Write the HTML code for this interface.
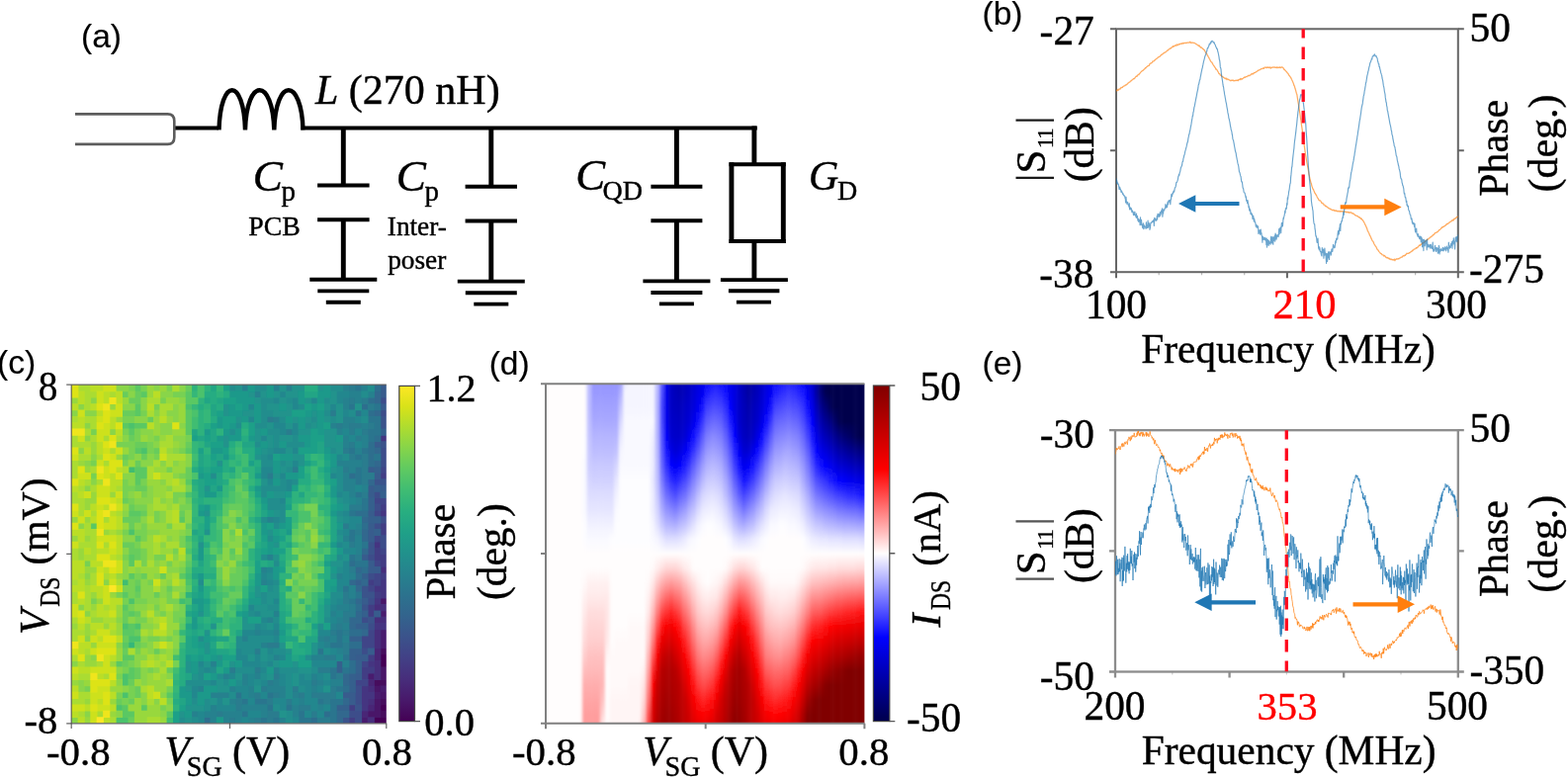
<!DOCTYPE html>
<html lang="en"><head><meta charset="utf-8"><title>Figure</title>
<style>
html,body{margin:0;padding:0;background:#fff;}
body{width:1586px;height:787px;overflow:hidden;}
svg{display:block;}
text{white-space:pre;}
</style></head><body>
<svg width="1586" height="787" viewBox="0 0 1586 787">
<rect width="1586" height="787" fill="#fff"/>
<defs><clipPath id="cc"><rect x="72.2" y="389.2" width="318.6" height="342.3"/></clipPath><filter id="bc" x="-5%" y="-5%" width="110%" height="110%"><feGaussianBlur stdDeviation="0.75"/></filter></defs>
<g clip-path="url(#cc)"><g filter="url(#bc)" stroke="none"><rect x="66.2" y="383.2" width="330.6" height="354.3" fill="#3a9a80"/>
<path fill="#440154" d="M384.4,661.8h13.2v7.1h-13.2zM384.4,668.1h13.2v7.1h-13.2zM384.4,712.5h13.2v7.1h-13.2zM378.1,725.2h7.2v13.1h-7.2zM384.4,725.2h13.2v13.1h-13.2z"/>
<path fill="#460a5d" d="M384.4,655.4h13.2v7.1h-13.2zM378.1,687.1h7.2v7.1h-7.2zM384.4,687.1h13.2v7.1h-13.2zM384.4,706.1h13.2v7.1h-13.2zM384.4,718.8h13.2v7.1h-13.2z"/>
<path fill="#481467" d="M384.4,604.7h13.2v7.1h-13.2zM384.4,674.5h13.2v7.1h-13.2zM384.4,680.8h13.2v7.1h-13.2zM378.1,693.5h7.2v7.1h-7.2zM384.4,699.8h13.2v7.1h-13.2zM378.1,706.1h7.2v7.1h-7.2zM378.1,712.5h7.2v7.1h-7.2zM371.7,718.8h7.2v7.1h-7.2zM378.1,718.8h7.2v7.1h-7.2z"/>
<path fill="#481c6e" d="M384.4,617.4h13.2v7.1h-13.2zM384.4,636.4h13.2v7.1h-13.2zM384.4,642.8h13.2v7.1h-13.2zM384.4,649.1h13.2v7.1h-13.2zM371.7,680.8h7.2v7.1h-7.2zM384.4,693.5h13.2v7.1h-13.2zM378.1,699.8h7.2v7.1h-7.2zM365.3,725.2h7.2v13.1h-7.2z"/>
<path fill="#482576" d="M378.1,655.4h7.2v7.1h-7.2zM378.1,661.8h7.2v7.1h-7.2zM371.7,687.1h7.2v7.1h-7.2zM371.7,712.5h7.2v7.1h-7.2zM365.3,718.8h7.2v7.1h-7.2z"/>
<path fill="#472d7b" d="M384.4,573h13.2v7.1h-13.2zM378.1,611.1h7.2v7.1h-7.2zM384.4,611.1h13.2v7.1h-13.2zM378.1,623.7h7.2v7.1h-7.2zM384.4,623.7h13.2v7.1h-13.2zM378.1,636.4h7.2v7.1h-7.2zM378.1,642.8h7.2v7.1h-7.2zM378.1,649.1h7.2v7.1h-7.2zM378.1,668.1h7.2v7.1h-7.2zM378.1,674.5h7.2v7.1h-7.2zM378.1,680.8h7.2v7.1h-7.2zM371.7,693.5h7.2v7.1h-7.2zM371.7,706.1h7.2v7.1h-7.2zM371.7,725.2h7.2v13.1h-7.2z"/>
<path fill="#453581" d="M384.4,439.9h13.2v7.1h-13.2zM384.4,516h13.2v7.1h-13.2zM378.1,547.7h7.2v7.1h-7.2zM384.4,585.7h13.2v7.1h-13.2zM378.1,592h7.2v7.1h-7.2zM384.4,592h13.2v7.1h-13.2zM384.4,598.4h13.2v7.1h-13.2zM378.1,604.7h7.2v7.1h-7.2zM378.1,630.1h7.2v7.1h-7.2zM384.4,630.1h13.2v7.1h-13.2zM371.7,668.1h7.2v7.1h-7.2zM365.3,693.5h7.2v7.1h-7.2zM365.3,699.8h7.2v7.1h-7.2zM371.7,699.8h7.2v7.1h-7.2zM365.3,706.1h7.2v7.1h-7.2zM365.3,712.5h7.2v7.1h-7.2z"/>
<path fill="#433d84" d="M384.4,477.9h13.2v7.1h-13.2zM384.4,509.6h13.2v7.1h-13.2zM384.4,528.7h13.2v7.1h-13.2zM384.4,535h13.2v7.1h-13.2zM378.1,554h7.2v7.1h-7.2zM378.1,560.4h7.2v7.1h-7.2zM384.4,560.4h13.2v7.1h-13.2zM384.4,566.7h13.2v7.1h-13.2zM384.4,579.4h13.2v7.1h-13.2zM371.7,585.7h7.2v7.1h-7.2zM378.1,598.4h7.2v7.1h-7.2zM371.7,611.1h7.2v7.1h-7.2zM371.7,617.4h7.2v7.1h-7.2zM371.7,661.8h7.2v7.1h-7.2zM365.3,674.5h7.2v7.1h-7.2zM371.7,674.5h7.2v7.1h-7.2zM365.3,680.8h7.2v7.1h-7.2zM352.6,712.5h7.2v7.1h-7.2zM352.6,725.2h7.2v13.1h-7.2z"/>
<path fill="#404588" d="M384.4,471.6h13.2v7.1h-13.2zM378.1,503.3h7.2v7.1h-7.2zM384.4,503.3h13.2v7.1h-13.2zM378.1,516h7.2v7.1h-7.2zM378.1,541.3h7.2v7.1h-7.2zM384.4,554h13.2v7.1h-13.2zM378.1,566.7h7.2v7.1h-7.2zM378.1,579.4h7.2v7.1h-7.2zM378.1,585.7h7.2v7.1h-7.2zM371.7,592h7.2v7.1h-7.2zM371.7,636.4h7.2v7.1h-7.2zM365.3,642.8h7.2v7.1h-7.2zM371.7,642.8h7.2v7.1h-7.2zM365.3,649.1h7.2v7.1h-7.2zM371.7,649.1h7.2v7.1h-7.2zM365.3,668.1h7.2v7.1h-7.2zM358.9,687.1h7.2v7.1h-7.2zM365.3,687.1h7.2v7.1h-7.2z"/>
<path fill="#3d4d8a" d="M384.4,401.9h13.2v7.1h-13.2zM384.4,414.6h13.2v7.1h-13.2zM384.4,452.6h13.2v7.1h-13.2zM384.4,458.9h13.2v7.1h-13.2zM384.4,465.3h13.2v7.1h-13.2zM378.1,497h7.2v7.1h-7.2zM378.1,509.6h7.2v7.1h-7.2zM384.4,522.3h13.2v7.1h-13.2zM378.1,528.7h7.2v7.1h-7.2zM384.4,541.3h13.2v7.1h-13.2zM384.4,547.7h13.2v7.1h-13.2zM371.7,560.4h7.2v7.1h-7.2zM371.7,579.4h7.2v7.1h-7.2zM371.7,604.7h7.2v7.1h-7.2zM365.3,623.7h7.2v7.1h-7.2zM371.7,630.1h7.2v7.1h-7.2zM365.3,655.4h7.2v7.1h-7.2zM358.9,693.5h7.2v7.1h-7.2zM358.9,699.8h7.2v7.1h-7.2zM358.9,706.1h7.2v7.1h-7.2zM352.6,718.8h7.2v7.1h-7.2zM358.9,718.8h7.2v7.1h-7.2zM358.9,725.2h7.2v13.1h-7.2z"/>
<path fill="#3a538b" d="M384.4,420.9h13.2v7.1h-13.2zM384.4,427.2h13.2v7.1h-13.2zM384.4,446.2h13.2v7.1h-13.2zM378.1,484.3h7.2v7.1h-7.2zM384.4,484.3h13.2v7.1h-13.2zM371.7,547.7h7.2v7.1h-7.2zM371.7,554h7.2v7.1h-7.2zM365.3,592h7.2v7.1h-7.2zM365.3,598.4h7.2v7.1h-7.2zM371.7,598.4h7.2v7.1h-7.2zM365.3,611.1h7.2v7.1h-7.2zM371.7,623.7h7.2v7.1h-7.2zM358.9,712.5h7.2v7.1h-7.2zM346.2,725.2h7.2v13.1h-7.2z"/>
<path fill="#375b8d" d="M384.4,383.2h13.2v13.1h-13.2zM384.4,395.5h13.2v7.1h-13.2zM384.4,408.2h13.2v7.1h-13.2zM378.1,446.2h7.2v7.1h-7.2zM371.7,471.6h7.2v7.1h-7.2zM378.1,477.9h7.2v7.1h-7.2zM371.7,490.6h7.2v7.1h-7.2zM384.4,490.6h13.2v7.1h-13.2zM371.7,497h7.2v7.1h-7.2zM371.7,516h7.2v7.1h-7.2zM371.7,528.7h7.2v7.1h-7.2zM371.7,535h7.2v7.1h-7.2zM371.7,541.3h7.2v7.1h-7.2zM365.3,560.4h7.2v7.1h-7.2zM371.7,566.7h7.2v7.1h-7.2zM371.7,573h7.2v7.1h-7.2zM378.1,573h7.2v7.1h-7.2zM365.3,604.7h7.2v7.1h-7.2zM378.1,617.4h7.2v7.1h-7.2zM371.7,655.4h7.2v7.1h-7.2zM358.9,661.8h7.2v7.1h-7.2zM365.3,661.8h7.2v7.1h-7.2zM358.9,680.8h7.2v7.1h-7.2zM346.2,699.8h7.2v7.1h-7.2zM352.6,699.8h7.2v7.1h-7.2zM352.6,706.1h7.2v7.1h-7.2z"/>
<path fill="#34618d" d="M384.4,433.6h13.2v7.1h-13.2zM378.1,471.6h7.2v7.1h-7.2zM378.1,490.6h7.2v7.1h-7.2zM384.4,497h13.2v7.1h-13.2zM371.7,503.3h7.2v7.1h-7.2zM371.7,509.6h7.2v7.1h-7.2zM371.7,522.3h7.2v7.1h-7.2zM378.1,522.3h7.2v7.1h-7.2zM378.1,535h7.2v7.1h-7.2zM365.3,579.4h7.2v7.1h-7.2zM358.9,585.7h7.2v7.1h-7.2zM365.3,617.4h7.2v7.1h-7.2zM358.9,630.1h7.2v7.1h-7.2zM365.3,630.1h7.2v7.1h-7.2zM352.6,642.8h7.2v7.1h-7.2zM358.9,642.8h7.2v7.1h-7.2zM352.6,655.4h7.2v7.1h-7.2zM358.9,655.4h7.2v7.1h-7.2zM352.6,661.8h7.2v7.1h-7.2zM339.8,668.1h7.2v7.1h-7.2zM358.9,668.1h7.2v7.1h-7.2zM339.8,674.5h7.2v7.1h-7.2zM358.9,674.5h7.2v7.1h-7.2zM352.6,680.8h7.2v7.1h-7.2zM352.6,687.1h7.2v7.1h-7.2zM352.6,693.5h7.2v7.1h-7.2zM339.8,712.5h7.2v7.1h-7.2zM346.2,712.5h7.2v7.1h-7.2z"/>
<path fill="#31688e" d="M378.1,395.5h7.2v7.1h-7.2zM378.1,401.9h7.2v7.1h-7.2zM378.1,414.6h7.2v7.1h-7.2zM378.1,452.6h7.2v7.1h-7.2zM378.1,465.3h7.2v7.1h-7.2zM371.7,484.3h7.2v7.1h-7.2zM365.3,522.3h7.2v7.1h-7.2zM365.3,535h7.2v7.1h-7.2zM365.3,541.3h7.2v7.1h-7.2zM365.3,554h7.2v7.1h-7.2zM358.9,573h7.2v7.1h-7.2zM352.6,585.7h7.2v7.1h-7.2zM365.3,585.7h7.2v7.1h-7.2zM358.9,592h7.2v7.1h-7.2zM358.9,604.7h7.2v7.1h-7.2zM358.9,617.4h7.2v7.1h-7.2zM352.6,623.7h7.2v7.1h-7.2zM358.9,623.7h7.2v7.1h-7.2zM352.6,630.1h7.2v7.1h-7.2zM365.3,636.4h7.2v7.1h-7.2zM346.2,680.8h7.2v7.1h-7.2zM346.2,687.1h7.2v7.1h-7.2zM346.2,706.1h7.2v7.1h-7.2zM339.8,718.8h7.2v7.1h-7.2zM346.2,718.8h7.2v7.1h-7.2zM339.8,725.2h7.2v13.1h-7.2z"/>
<path fill="#2e6e8e" d="M378.1,383.2h7.2v13.1h-7.2zM371.7,401.9h7.2v7.1h-7.2zM365.3,408.2h7.2v7.1h-7.2zM371.7,414.6h7.2v7.1h-7.2zM378.1,439.9h7.2v7.1h-7.2zM371.7,446.2h7.2v7.1h-7.2zM371.7,452.6h7.2v7.1h-7.2zM371.7,458.9h7.2v7.1h-7.2zM371.7,465.3h7.2v7.1h-7.2zM352.6,477.9h7.2v7.1h-7.2zM358.9,516h7.2v7.1h-7.2zM365.3,516h7.2v7.1h-7.2zM365.3,528.7h7.2v7.1h-7.2zM352.6,566.7h7.2v7.1h-7.2zM365.3,573h7.2v7.1h-7.2zM358.9,579.4h7.2v7.1h-7.2zM358.9,611.1h7.2v7.1h-7.2zM352.6,636.4h7.2v7.1h-7.2zM358.9,636.4h7.2v7.1h-7.2zM352.6,649.1h7.2v7.1h-7.2zM358.9,649.1h7.2v7.1h-7.2zM352.6,668.1h7.2v7.1h-7.2zM352.6,674.5h7.2v7.1h-7.2zM346.2,693.5h7.2v7.1h-7.2zM327.1,718.8h7.2v7.1h-7.2zM206,725.2h7.2v13.1h-7.2zM314.3,725.2h7.2v13.1h-7.2z"/>
<path fill="#2b748e" d="M358.9,383.2h7.2v13.1h-7.2zM352.6,408.2h7.2v7.1h-7.2zM378.1,408.2h7.2v7.1h-7.2zM358.9,414.6h7.2v7.1h-7.2zM371.7,420.9h7.2v7.1h-7.2zM378.1,420.9h7.2v7.1h-7.2zM378.1,427.2h7.2v7.1h-7.2zM371.7,433.6h7.2v7.1h-7.2zM378.1,433.6h7.2v7.1h-7.2zM371.7,439.9h7.2v7.1h-7.2zM352.6,452.6h7.2v7.1h-7.2zM365.3,452.6h7.2v7.1h-7.2zM358.9,458.9h7.2v7.1h-7.2zM378.1,458.9h7.2v7.1h-7.2zM358.9,471.6h7.2v7.1h-7.2zM358.9,477.9h7.2v7.1h-7.2zM358.9,484.3h7.2v7.1h-7.2zM358.9,497h7.2v7.1h-7.2zM365.3,503.3h7.2v7.1h-7.2zM365.3,509.6h7.2v7.1h-7.2zM352.6,516h7.2v7.1h-7.2zM352.6,535h7.2v7.1h-7.2zM352.6,541.3h7.2v7.1h-7.2zM365.3,547.7h7.2v7.1h-7.2zM352.6,560.4h7.2v7.1h-7.2zM358.9,566.7h7.2v7.1h-7.2zM365.3,566.7h7.2v7.1h-7.2zM346.2,592h7.2v7.1h-7.2zM358.9,598.4h7.2v7.1h-7.2zM352.6,604.7h7.2v7.1h-7.2zM339.8,636.4h7.2v7.1h-7.2zM339.8,642.8h7.2v7.1h-7.2zM333.5,649.1h7.2v7.1h-7.2zM339.8,649.1h7.2v7.1h-7.2zM320.7,655.4h7.2v7.1h-7.2zM346.2,661.8h7.2v7.1h-7.2zM333.5,674.5h7.2v7.1h-7.2zM346.2,674.5h7.2v7.1h-7.2zM333.5,680.8h7.2v7.1h-7.2zM339.8,693.5h7.2v7.1h-7.2zM237.9,699.8h7.2v7.1h-7.2zM269.7,699.8h7.2v7.1h-7.2zM244.2,706.1h7.2v7.1h-7.2zM257,706.1h7.2v7.1h-7.2zM263.4,706.1h7.2v7.1h-7.2zM320.7,706.1h7.2v7.1h-7.2zM333.5,706.1h7.2v7.1h-7.2zM339.8,706.1h7.2v7.1h-7.2zM269.7,712.5h7.2v7.1h-7.2zM288.8,712.5h7.2v7.1h-7.2zM333.5,712.5h7.2v7.1h-7.2zM244.2,718.8h7.2v7.1h-7.2zM301.6,718.8h7.2v7.1h-7.2zM333.5,718.8h7.2v7.1h-7.2zM263.4,725.2h7.2v13.1h-7.2zM276.1,725.2h7.2v13.1h-7.2zM301.6,725.2h7.2v13.1h-7.2zM308,725.2h7.2v13.1h-7.2zM333.5,725.2h7.2v13.1h-7.2z"/>
<path fill="#297b8e" d="M352.6,383.2h7.2v13.1h-7.2zM352.6,401.9h7.2v7.1h-7.2zM365.3,401.9h7.2v7.1h-7.2zM371.7,408.2h7.2v7.1h-7.2zM333.5,414.6h7.2v7.1h-7.2zM269.7,420.9h7.2v7.1h-7.2zM339.8,427.2h7.2v7.1h-7.2zM352.6,427.2h7.2v7.1h-7.2zM358.9,427.2h7.2v7.1h-7.2zM371.7,427.2h7.2v7.1h-7.2zM288.8,433.6h7.2v7.1h-7.2zM352.6,433.6h7.2v7.1h-7.2zM365.3,433.6h7.2v7.1h-7.2zM358.9,439.9h7.2v7.1h-7.2zM352.6,446.2h7.2v7.1h-7.2zM346.2,452.6h7.2v7.1h-7.2zM352.6,458.9h7.2v7.1h-7.2zM365.3,458.9h7.2v7.1h-7.2zM365.3,465.3h7.2v7.1h-7.2zM295.2,471.6h7.2v7.1h-7.2zM346.2,471.6h7.2v7.1h-7.2zM365.3,471.6h7.2v7.1h-7.2zM269.7,477.9h7.2v7.1h-7.2zM365.3,477.9h7.2v7.1h-7.2zM371.7,477.9h7.2v7.1h-7.2zM365.3,484.3h7.2v7.1h-7.2zM365.3,497h7.2v7.1h-7.2zM352.6,509.6h7.2v7.1h-7.2zM358.9,509.6h7.2v7.1h-7.2zM346.2,528.7h7.2v7.1h-7.2zM358.9,535h7.2v7.1h-7.2zM352.6,547.7h7.2v7.1h-7.2zM358.9,560.4h7.2v7.1h-7.2zM352.6,573h7.2v7.1h-7.2zM346.2,598.4h7.2v7.1h-7.2zM346.2,604.7h7.2v7.1h-7.2zM352.6,611.1h7.2v7.1h-7.2zM346.2,617.4h7.2v7.1h-7.2zM352.6,617.4h7.2v7.1h-7.2zM346.2,623.7h7.2v7.1h-7.2zM339.8,630.1h7.2v7.1h-7.2zM333.5,636.4h7.2v7.1h-7.2zM346.2,636.4h7.2v7.1h-7.2zM327.1,642.8h7.2v7.1h-7.2zM269.7,649.1h7.2v7.1h-7.2zM276.1,649.1h7.2v7.1h-7.2zM346.2,649.1h7.2v7.1h-7.2zM257,655.4h7.2v7.1h-7.2zM346.2,655.4h7.2v7.1h-7.2zM327.1,661.8h7.2v7.1h-7.2zM333.5,661.8h7.2v7.1h-7.2zM231.5,674.5h7.2v7.1h-7.2zM257,674.5h7.2v7.1h-7.2zM320.7,674.5h7.2v7.1h-7.2zM327.1,674.5h7.2v7.1h-7.2zM276.1,680.8h7.2v7.1h-7.2zM339.8,680.8h7.2v7.1h-7.2zM269.7,687.1h7.2v7.1h-7.2zM314.3,687.1h7.2v7.1h-7.2zM263.4,693.5h7.2v7.1h-7.2zM295.2,693.5h7.2v7.1h-7.2zM333.5,693.5h7.2v7.1h-7.2zM257,699.8h7.2v7.1h-7.2zM276.1,699.8h7.2v7.1h-7.2zM301.6,699.8h7.2v7.1h-7.2zM314.3,699.8h7.2v7.1h-7.2zM320.7,699.8h7.2v7.1h-7.2zM327.1,699.8h7.2v7.1h-7.2zM333.5,699.8h7.2v7.1h-7.2zM237.9,706.1h7.2v7.1h-7.2zM269.7,706.1h7.2v7.1h-7.2zM288.8,706.1h7.2v7.1h-7.2zM327.1,706.1h7.2v7.1h-7.2zM237.9,712.5h7.2v7.1h-7.2zM301.6,712.5h7.2v7.1h-7.2zM308,712.5h7.2v7.1h-7.2zM218.8,718.8h7.2v7.1h-7.2zM269.7,718.8h7.2v7.1h-7.2zM276.1,718.8h7.2v7.1h-7.2zM314.3,718.8h7.2v7.1h-7.2zM231.5,725.2h7.2v13.1h-7.2zM257,725.2h7.2v13.1h-7.2zM269.7,725.2h7.2v13.1h-7.2zM320.7,725.2h7.2v13.1h-7.2zM327.1,725.2h7.2v13.1h-7.2z"/>
<path fill="#26818e" d="M244.2,383.2h7.2v13.1h-7.2zM276.1,383.2h7.2v13.1h-7.2zM288.8,383.2h7.2v13.1h-7.2zM346.2,383.2h7.2v13.1h-7.2zM365.3,383.2h7.2v13.1h-7.2zM257,395.5h7.2v7.1h-7.2zM352.6,395.5h7.2v7.1h-7.2zM358.9,395.5h7.2v7.1h-7.2zM371.7,395.5h7.2v7.1h-7.2zM346.2,401.9h7.2v7.1h-7.2zM358.9,401.9h7.2v7.1h-7.2zM346.2,408.2h7.2v7.1h-7.2zM276.1,420.9h7.2v7.1h-7.2zM346.2,420.9h7.2v7.1h-7.2zM352.6,420.9h7.2v7.1h-7.2zM333.5,427.2h7.2v7.1h-7.2zM346.2,427.2h7.2v7.1h-7.2zM365.3,427.2h7.2v7.1h-7.2zM339.8,433.6h7.2v7.1h-7.2zM346.2,439.9h7.2v7.1h-7.2zM365.3,439.9h7.2v7.1h-7.2zM346.2,446.2h7.2v7.1h-7.2zM365.3,446.2h7.2v7.1h-7.2zM358.9,452.6h7.2v7.1h-7.2zM339.8,465.3h7.2v7.1h-7.2zM346.2,465.3h7.2v7.1h-7.2zM352.6,465.3h7.2v7.1h-7.2zM358.9,465.3h7.2v7.1h-7.2zM352.6,471.6h7.2v7.1h-7.2zM346.2,477.9h7.2v7.1h-7.2zM346.2,484.3h7.2v7.1h-7.2zM352.6,484.3h7.2v7.1h-7.2zM346.2,490.6h7.2v7.1h-7.2zM352.6,490.6h7.2v7.1h-7.2zM365.3,490.6h7.2v7.1h-7.2zM352.6,497h7.2v7.1h-7.2zM358.9,503.3h7.2v7.1h-7.2zM269.7,522.3h7.2v7.1h-7.2zM358.9,528.7h7.2v7.1h-7.2zM346.2,541.3h7.2v7.1h-7.2zM358.9,541.3h7.2v7.1h-7.2zM358.9,547.7h7.2v7.1h-7.2zM358.9,554h7.2v7.1h-7.2zM269.7,560.4h7.2v7.1h-7.2zM263.4,573h7.2v7.1h-7.2zM339.8,579.4h7.2v7.1h-7.2zM352.6,579.4h7.2v7.1h-7.2zM263.4,585.7h7.2v7.1h-7.2zM352.6,592h7.2v7.1h-7.2zM352.6,598.4h7.2v7.1h-7.2zM339.8,611.1h7.2v7.1h-7.2zM346.2,611.1h7.2v7.1h-7.2zM276.1,617.4h7.2v7.1h-7.2zM333.5,617.4h7.2v7.1h-7.2zM269.7,623.7h7.2v7.1h-7.2zM339.8,623.7h7.2v7.1h-7.2zM333.5,630.1h7.2v7.1h-7.2zM346.2,630.1h7.2v7.1h-7.2zM257,636.4h7.2v7.1h-7.2zM276.1,636.4h7.2v7.1h-7.2zM244.2,642.8h7.2v7.1h-7.2zM320.7,642.8h7.2v7.1h-7.2zM333.5,642.8h7.2v7.1h-7.2zM346.2,642.8h7.2v7.1h-7.2zM263.4,649.1h7.2v7.1h-7.2zM327.1,649.1h7.2v7.1h-7.2zM339.8,655.4h7.2v7.1h-7.2zM276.1,661.8h7.2v7.1h-7.2zM314.3,661.8h7.2v7.1h-7.2zM320.7,661.8h7.2v7.1h-7.2zM212.4,668.1h7.2v7.1h-7.2zM346.2,668.1h7.2v7.1h-7.2zM276.1,674.5h7.2v7.1h-7.2zM225.1,680.8h7.2v7.1h-7.2zM244.2,680.8h7.2v7.1h-7.2zM257,680.8h7.2v7.1h-7.2zM314.3,680.8h7.2v7.1h-7.2zM244.2,687.1h7.2v7.1h-7.2zM276.1,687.1h7.2v7.1h-7.2zM320.7,687.1h7.2v7.1h-7.2zM333.5,687.1h7.2v7.1h-7.2zM339.8,687.1h7.2v7.1h-7.2zM199.6,693.5h7.2v7.1h-7.2zM231.5,693.5h7.2v7.1h-7.2zM250.6,693.5h7.2v7.1h-7.2zM269.7,693.5h7.2v7.1h-7.2zM276.1,693.5h7.2v7.1h-7.2zM282.5,693.5h7.2v7.1h-7.2zM314.3,693.5h7.2v7.1h-7.2zM212.4,699.8h7.2v7.1h-7.2zM218.8,699.8h7.2v7.1h-7.2zM225.1,699.8h7.2v7.1h-7.2zM250.6,699.8h7.2v7.1h-7.2zM282.5,699.8h7.2v7.1h-7.2zM295.2,699.8h7.2v7.1h-7.2zM231.5,706.1h7.2v7.1h-7.2zM301.6,706.1h7.2v7.1h-7.2zM212.4,712.5h7.2v7.1h-7.2zM244.2,712.5h7.2v7.1h-7.2zM250.6,712.5h7.2v7.1h-7.2zM257,712.5h7.2v7.1h-7.2zM263.4,712.5h7.2v7.1h-7.2zM295.2,712.5h7.2v7.1h-7.2zM320.7,712.5h7.2v7.1h-7.2zM193.3,718.8h7.2v7.1h-7.2zM206,718.8h7.2v7.1h-7.2zM212.4,718.8h7.2v7.1h-7.2zM225.1,718.8h7.2v7.1h-7.2zM231.5,718.8h7.2v7.1h-7.2zM237.9,718.8h7.2v7.1h-7.2zM263.4,718.8h7.2v7.1h-7.2zM295.2,718.8h7.2v7.1h-7.2zM212.4,725.2h7.2v13.1h-7.2zM225.1,725.2h7.2v13.1h-7.2zM237.9,725.2h7.2v13.1h-7.2zM250.6,725.2h7.2v13.1h-7.2zM282.5,725.2h7.2v13.1h-7.2z"/>
<path fill="#24878e" d="M282.5,395.5h7.2v7.1h-7.2zM339.8,395.5h7.2v7.1h-7.2zM346.2,395.5h7.2v7.1h-7.2zM276.1,401.9h7.2v7.1h-7.2zM295.2,401.9h7.2v7.1h-7.2zM314.3,401.9h7.2v7.1h-7.2zM339.8,401.9h7.2v7.1h-7.2zM250.6,408.2h7.2v7.1h-7.2zM295.2,408.2h7.2v7.1h-7.2zM333.5,408.2h7.2v7.1h-7.2zM346.2,414.6h7.2v7.1h-7.2zM365.3,414.6h7.2v7.1h-7.2zM250.6,420.9h7.2v7.1h-7.2zM358.9,420.9h7.2v7.1h-7.2zM276.1,427.2h7.2v7.1h-7.2zM282.5,427.2h7.2v7.1h-7.2zM295.2,427.2h7.2v7.1h-7.2zM282.5,433.6h7.2v7.1h-7.2zM295.2,433.6h7.2v7.1h-7.2zM346.2,433.6h7.2v7.1h-7.2zM358.9,433.6h7.2v7.1h-7.2zM263.4,439.9h7.2v7.1h-7.2zM352.6,439.9h7.2v7.1h-7.2zM358.9,446.2h7.2v7.1h-7.2zM276.1,452.6h7.2v7.1h-7.2zM282.5,452.6h7.2v7.1h-7.2zM295.2,452.6h7.2v7.1h-7.2zM269.7,458.9h7.2v7.1h-7.2zM339.8,458.9h7.2v7.1h-7.2zM295.2,465.3h7.2v7.1h-7.2zM263.4,471.6h7.2v7.1h-7.2zM269.7,471.6h7.2v7.1h-7.2zM263.4,477.9h7.2v7.1h-7.2zM282.5,477.9h7.2v7.1h-7.2zM333.5,477.9h7.2v7.1h-7.2zM269.7,484.3h7.2v7.1h-7.2zM288.8,484.3h7.2v7.1h-7.2zM288.8,490.6h7.2v7.1h-7.2zM358.9,490.6h7.2v7.1h-7.2zM339.8,497h7.2v7.1h-7.2zM282.5,503.3h7.2v7.1h-7.2zM352.6,503.3h7.2v7.1h-7.2zM346.2,516h7.2v7.1h-7.2zM276.1,522.3h7.2v7.1h-7.2zM352.6,522.3h7.2v7.1h-7.2zM358.9,522.3h7.2v7.1h-7.2zM352.6,528.7h7.2v7.1h-7.2zM346.2,535h7.2v7.1h-7.2zM339.8,547.7h7.2v7.1h-7.2zM346.2,554h7.2v7.1h-7.2zM352.6,554h7.2v7.1h-7.2zM346.2,566.7h7.2v7.1h-7.2zM269.7,573h7.2v7.1h-7.2zM346.2,573h7.2v7.1h-7.2zM263.4,579.4h7.2v7.1h-7.2zM346.2,579.4h7.2v7.1h-7.2zM269.7,585.7h7.2v7.1h-7.2zM339.8,585.7h7.2v7.1h-7.2zM346.2,585.7h7.2v7.1h-7.2zM339.8,592h7.2v7.1h-7.2zM276.1,604.7h7.2v7.1h-7.2zM339.8,604.7h7.2v7.1h-7.2zM250.6,611.1h7.2v7.1h-7.2zM333.5,611.1h7.2v7.1h-7.2zM257,617.4h7.2v7.1h-7.2zM339.8,617.4h7.2v7.1h-7.2zM263.4,623.7h7.2v7.1h-7.2zM333.5,623.7h7.2v7.1h-7.2zM257,630.1h7.2v7.1h-7.2zM276.1,630.1h7.2v7.1h-7.2zM244.2,636.4h7.2v7.1h-7.2zM250.6,636.4h7.2v7.1h-7.2zM263.4,636.4h7.2v7.1h-7.2zM269.7,636.4h7.2v7.1h-7.2zM320.7,636.4h7.2v7.1h-7.2zM327.1,636.4h7.2v7.1h-7.2zM276.1,642.8h7.2v7.1h-7.2zM320.7,649.1h7.2v7.1h-7.2zM237.9,655.4h7.2v7.1h-7.2zM269.7,655.4h7.2v7.1h-7.2zM333.5,655.4h7.2v7.1h-7.2zM237.9,661.8h7.2v7.1h-7.2zM244.2,661.8h7.2v7.1h-7.2zM257,661.8h7.2v7.1h-7.2zM282.5,661.8h7.2v7.1h-7.2zM339.8,661.8h7.2v7.1h-7.2zM199.6,668.1h7.2v7.1h-7.2zM244.2,668.1h7.2v7.1h-7.2zM250.6,668.1h7.2v7.1h-7.2zM257,668.1h7.2v7.1h-7.2zM269.7,668.1h7.2v7.1h-7.2zM314.3,668.1h7.2v7.1h-7.2zM320.7,668.1h7.2v7.1h-7.2zM327.1,668.1h7.2v7.1h-7.2zM333.5,668.1h7.2v7.1h-7.2zM206,674.5h7.2v7.1h-7.2zM263.4,674.5h7.2v7.1h-7.2zM231.5,680.8h7.2v7.1h-7.2zM250.6,680.8h7.2v7.1h-7.2zM282.5,680.8h7.2v7.1h-7.2zM301.6,680.8h7.2v7.1h-7.2zM320.7,680.8h7.2v7.1h-7.2zM212.4,687.1h7.2v7.1h-7.2zM250.6,687.1h7.2v7.1h-7.2zM263.4,687.1h7.2v7.1h-7.2zM282.5,687.1h7.2v7.1h-7.2zM301.6,687.1h7.2v7.1h-7.2zM308,687.1h7.2v7.1h-7.2zM327.1,687.1h7.2v7.1h-7.2zM193.3,693.5h7.2v7.1h-7.2zM237.9,693.5h7.2v7.1h-7.2zM244.2,693.5h7.2v7.1h-7.2zM308,693.5h7.2v7.1h-7.2zM320.7,693.5h7.2v7.1h-7.2zM193.3,699.8h7.2v7.1h-7.2zM244.2,699.8h7.2v7.1h-7.2zM263.4,699.8h7.2v7.1h-7.2zM308,699.8h7.2v7.1h-7.2zM339.8,699.8h7.2v7.1h-7.2zM218.8,706.1h7.2v7.1h-7.2zM250.6,706.1h7.2v7.1h-7.2zM276.1,706.1h7.2v7.1h-7.2zM282.5,706.1h7.2v7.1h-7.2zM295.2,706.1h7.2v7.1h-7.2zM308,706.1h7.2v7.1h-7.2zM314.3,706.1h7.2v7.1h-7.2zM218.8,712.5h7.2v7.1h-7.2zM225.1,712.5h7.2v7.1h-7.2zM231.5,712.5h7.2v7.1h-7.2zM282.5,712.5h7.2v7.1h-7.2zM314.3,712.5h7.2v7.1h-7.2zM327.1,712.5h7.2v7.1h-7.2zM199.6,718.8h7.2v7.1h-7.2zM250.6,718.8h7.2v7.1h-7.2zM257,718.8h7.2v7.1h-7.2zM308,718.8h7.2v7.1h-7.2zM320.7,718.8h7.2v7.1h-7.2zM199.6,725.2h7.2v13.1h-7.2zM244.2,725.2h7.2v13.1h-7.2zM295.2,725.2h7.2v13.1h-7.2z"/>
<path fill="#228d8d" d="M231.5,383.2h7.2v13.1h-7.2zM257,383.2h7.2v13.1h-7.2zM263.4,383.2h7.2v13.1h-7.2zM333.5,383.2h7.2v13.1h-7.2zM339.8,383.2h7.2v13.1h-7.2zM371.7,383.2h7.2v13.1h-7.2zM365.3,395.5h7.2v7.1h-7.2zM263.4,401.9h7.2v7.1h-7.2zM269.7,401.9h7.2v7.1h-7.2zM288.8,401.9h7.2v7.1h-7.2zM327.1,401.9h7.2v7.1h-7.2zM263.4,408.2h7.2v7.1h-7.2zM301.6,408.2h7.2v7.1h-7.2zM263.4,414.6h7.2v7.1h-7.2zM269.7,414.6h7.2v7.1h-7.2zM327.1,414.6h7.2v7.1h-7.2zM352.6,414.6h7.2v7.1h-7.2zM263.4,420.9h7.2v7.1h-7.2zM282.5,420.9h7.2v7.1h-7.2zM314.3,420.9h7.2v7.1h-7.2zM333.5,420.9h7.2v7.1h-7.2zM365.3,420.9h7.2v7.1h-7.2zM237.9,427.2h7.2v7.1h-7.2zM257,427.2h7.2v7.1h-7.2zM263.4,427.2h7.2v7.1h-7.2zM308,427.2h7.2v7.1h-7.2zM231.5,433.6h7.2v7.1h-7.2zM269.7,433.6h7.2v7.1h-7.2zM276.1,433.6h7.2v7.1h-7.2zM276.1,439.9h7.2v7.1h-7.2zM295.2,439.9h7.2v7.1h-7.2zM257,446.2h7.2v7.1h-7.2zM276.1,446.2h7.2v7.1h-7.2zM288.8,446.2h7.2v7.1h-7.2zM295.2,446.2h7.2v7.1h-7.2zM301.6,446.2h7.2v7.1h-7.2zM269.7,452.6h7.2v7.1h-7.2zM333.5,452.6h7.2v7.1h-7.2zM263.4,458.9h7.2v7.1h-7.2zM346.2,458.9h7.2v7.1h-7.2zM263.4,465.3h7.2v7.1h-7.2zM269.7,465.3h7.2v7.1h-7.2zM282.5,465.3h7.2v7.1h-7.2zM288.8,471.6h7.2v7.1h-7.2zM339.8,471.6h7.2v7.1h-7.2zM212.4,477.9h7.2v7.1h-7.2zM339.8,477.9h7.2v7.1h-7.2zM282.5,484.3h7.2v7.1h-7.2zM295.2,484.3h7.2v7.1h-7.2zM339.8,484.3h7.2v7.1h-7.2zM263.4,490.6h7.2v7.1h-7.2zM269.7,490.6h7.2v7.1h-7.2zM276.1,490.6h7.2v7.1h-7.2zM282.5,490.6h7.2v7.1h-7.2zM339.8,490.6h7.2v7.1h-7.2zM263.4,497h7.2v7.1h-7.2zM346.2,497h7.2v7.1h-7.2zM269.7,503.3h7.2v7.1h-7.2zM276.1,503.3h7.2v7.1h-7.2zM346.2,503.3h7.2v7.1h-7.2zM269.7,509.6h7.2v7.1h-7.2zM276.1,509.6h7.2v7.1h-7.2zM282.5,509.6h7.2v7.1h-7.2zM282.5,516h7.2v7.1h-7.2zM339.8,516h7.2v7.1h-7.2zM263.4,522.3h7.2v7.1h-7.2zM282.5,522.3h7.2v7.1h-7.2zM346.2,522.3h7.2v7.1h-7.2zM276.1,528.7h7.2v7.1h-7.2zM339.8,535h7.2v7.1h-7.2zM269.7,541.3h7.2v7.1h-7.2zM346.2,547.7h7.2v7.1h-7.2zM263.4,560.4h7.2v7.1h-7.2zM339.8,560.4h7.2v7.1h-7.2zM276.1,566.7h7.2v7.1h-7.2zM339.8,573h7.2v7.1h-7.2zM269.7,579.4h7.2v7.1h-7.2zM199.6,585.7h7.2v7.1h-7.2zM276.1,585.7h7.2v7.1h-7.2zM269.7,592h7.2v7.1h-7.2zM263.4,598.4h7.2v7.1h-7.2zM333.5,598.4h7.2v7.1h-7.2zM339.8,598.4h7.2v7.1h-7.2zM263.4,604.7h7.2v7.1h-7.2zM333.5,604.7h7.2v7.1h-7.2zM269.7,611.1h7.2v7.1h-7.2zM276.1,611.1h7.2v7.1h-7.2zM250.6,617.4h7.2v7.1h-7.2zM276.1,623.7h7.2v7.1h-7.2zM327.1,623.7h7.2v7.1h-7.2zM263.4,630.1h7.2v7.1h-7.2zM320.7,630.1h7.2v7.1h-7.2zM199.6,642.8h7.2v7.1h-7.2zM237.9,642.8h7.2v7.1h-7.2zM250.6,642.8h7.2v7.1h-7.2zM257,642.8h7.2v7.1h-7.2zM263.4,642.8h7.2v7.1h-7.2zM269.7,642.8h7.2v7.1h-7.2zM237.9,649.1h7.2v7.1h-7.2zM244.2,649.1h7.2v7.1h-7.2zM250.6,649.1h7.2v7.1h-7.2zM257,649.1h7.2v7.1h-7.2zM244.2,655.4h7.2v7.1h-7.2zM250.6,655.4h7.2v7.1h-7.2zM276.1,655.4h7.2v7.1h-7.2zM282.5,655.4h7.2v7.1h-7.2zM327.1,655.4h7.2v7.1h-7.2zM269.7,661.8h7.2v7.1h-7.2zM308,661.8h7.2v7.1h-7.2zM263.4,668.1h7.2v7.1h-7.2zM199.6,674.5h7.2v7.1h-7.2zM212.4,674.5h7.2v7.1h-7.2zM237.9,674.5h7.2v7.1h-7.2zM244.2,674.5h7.2v7.1h-7.2zM250.6,674.5h7.2v7.1h-7.2zM282.5,674.5h7.2v7.1h-7.2zM288.8,674.5h7.2v7.1h-7.2zM295.2,674.5h7.2v7.1h-7.2zM314.3,674.5h7.2v7.1h-7.2zM199.6,680.8h7.2v7.1h-7.2zM218.8,680.8h7.2v7.1h-7.2zM263.4,680.8h7.2v7.1h-7.2zM288.8,680.8h7.2v7.1h-7.2zM308,680.8h7.2v7.1h-7.2zM327.1,680.8h7.2v7.1h-7.2zM186.9,687.1h7.2v7.1h-7.2zM193.3,687.1h7.2v7.1h-7.2zM199.6,687.1h7.2v7.1h-7.2zM206,687.1h7.2v7.1h-7.2zM225.1,687.1h7.2v7.1h-7.2zM237.9,687.1h7.2v7.1h-7.2zM257,687.1h7.2v7.1h-7.2zM288.8,687.1h7.2v7.1h-7.2zM288.8,693.5h7.2v7.1h-7.2zM301.6,693.5h7.2v7.1h-7.2zM231.5,699.8h7.2v7.1h-7.2zM288.8,699.8h7.2v7.1h-7.2zM193.3,706.1h7.2v7.1h-7.2zM206,706.1h7.2v7.1h-7.2zM206,712.5h7.2v7.1h-7.2zM276.1,712.5h7.2v7.1h-7.2zM288.8,718.8h7.2v7.1h-7.2zM180.5,725.2h7.2v13.1h-7.2zM193.3,725.2h7.2v13.1h-7.2zM288.8,725.2h7.2v13.1h-7.2z"/>
<path fill="#20938c" d="M237.9,383.2h7.2v13.1h-7.2zM282.5,383.2h7.2v13.1h-7.2zM295.2,383.2h7.2v13.1h-7.2zM301.6,383.2h7.2v13.1h-7.2zM320.7,383.2h7.2v13.1h-7.2zM250.6,395.5h7.2v7.1h-7.2zM263.4,395.5h7.2v7.1h-7.2zM276.1,395.5h7.2v7.1h-7.2zM288.8,395.5h7.2v7.1h-7.2zM295.2,395.5h7.2v7.1h-7.2zM333.5,395.5h7.2v7.1h-7.2zM257,401.9h7.2v7.1h-7.2zM282.5,401.9h7.2v7.1h-7.2zM308,401.9h7.2v7.1h-7.2zM333.5,401.9h7.2v7.1h-7.2zM225.1,408.2h7.2v7.1h-7.2zM269.7,408.2h7.2v7.1h-7.2zM276.1,408.2h7.2v7.1h-7.2zM288.8,408.2h7.2v7.1h-7.2zM327.1,408.2h7.2v7.1h-7.2zM339.8,408.2h7.2v7.1h-7.2zM358.9,408.2h7.2v7.1h-7.2zM225.1,414.6h7.2v7.1h-7.2zM244.2,414.6h7.2v7.1h-7.2zM250.6,414.6h7.2v7.1h-7.2zM276.1,414.6h7.2v7.1h-7.2zM282.5,414.6h7.2v7.1h-7.2zM288.8,414.6h7.2v7.1h-7.2zM314.3,414.6h7.2v7.1h-7.2zM339.8,414.6h7.2v7.1h-7.2zM237.9,420.9h7.2v7.1h-7.2zM295.2,420.9h7.2v7.1h-7.2zM308,420.9h7.2v7.1h-7.2zM327.1,420.9h7.2v7.1h-7.2zM339.8,420.9h7.2v7.1h-7.2zM269.7,427.2h7.2v7.1h-7.2zM288.8,427.2h7.2v7.1h-7.2zM314.3,427.2h7.2v7.1h-7.2zM257,433.6h7.2v7.1h-7.2zM301.6,433.6h7.2v7.1h-7.2zM308,433.6h7.2v7.1h-7.2zM327.1,433.6h7.2v7.1h-7.2zM333.5,433.6h7.2v7.1h-7.2zM225.1,439.9h7.2v7.1h-7.2zM257,439.9h7.2v7.1h-7.2zM269.7,439.9h7.2v7.1h-7.2zM282.5,439.9h7.2v7.1h-7.2zM288.8,439.9h7.2v7.1h-7.2zM327.1,439.9h7.2v7.1h-7.2zM333.5,439.9h7.2v7.1h-7.2zM225.1,446.2h7.2v7.1h-7.2zM269.7,446.2h7.2v7.1h-7.2zM327.1,446.2h7.2v7.1h-7.2zM333.5,446.2h7.2v7.1h-7.2zM339.8,446.2h7.2v7.1h-7.2zM263.4,452.6h7.2v7.1h-7.2zM288.8,452.6h7.2v7.1h-7.2zM339.8,452.6h7.2v7.1h-7.2zM257,458.9h7.2v7.1h-7.2zM295.2,458.9h7.2v7.1h-7.2zM301.6,458.9h7.2v7.1h-7.2zM218.8,465.3h7.2v7.1h-7.2zM288.8,465.3h7.2v7.1h-7.2zM301.6,465.3h7.2v7.1h-7.2zM282.5,471.6h7.2v7.1h-7.2zM333.5,471.6h7.2v7.1h-7.2zM276.1,477.9h7.2v7.1h-7.2zM263.4,484.3h7.2v7.1h-7.2zM206,490.6h7.2v7.1h-7.2zM276.1,497h7.2v7.1h-7.2zM282.5,497h7.2v7.1h-7.2zM339.8,503.3h7.2v7.1h-7.2zM346.2,509.6h7.2v7.1h-7.2zM206,516h7.2v7.1h-7.2zM276.1,516h7.2v7.1h-7.2zM339.8,522.3h7.2v7.1h-7.2zM206,535h7.2v7.1h-7.2zM269.7,535h7.2v7.1h-7.2zM339.8,541.3h7.2v7.1h-7.2zM199.6,547.7h7.2v7.1h-7.2zM276.1,547.7h7.2v7.1h-7.2zM276.1,560.4h7.2v7.1h-7.2zM346.2,560.4h7.2v7.1h-7.2zM333.5,566.7h7.2v7.1h-7.2zM339.8,566.7h7.2v7.1h-7.2zM333.5,579.4h7.2v7.1h-7.2zM257,592h7.2v7.1h-7.2zM276.1,592h7.2v7.1h-7.2zM257,598.4h7.2v7.1h-7.2zM269.7,598.4h7.2v7.1h-7.2zM276.1,598.4h7.2v7.1h-7.2zM269.7,604.7h7.2v7.1h-7.2zM257,611.1h7.2v7.1h-7.2zM263.4,611.1h7.2v7.1h-7.2zM327.1,611.1h7.2v7.1h-7.2zM199.6,617.4h7.2v7.1h-7.2zM263.4,617.4h7.2v7.1h-7.2zM269.7,617.4h7.2v7.1h-7.2zM327.1,617.4h7.2v7.1h-7.2zM244.2,623.7h7.2v7.1h-7.2zM212.4,630.1h7.2v7.1h-7.2zM244.2,630.1h7.2v7.1h-7.2zM250.6,630.1h7.2v7.1h-7.2zM269.7,630.1h7.2v7.1h-7.2zM206,636.4h7.2v7.1h-7.2zM206,649.1h7.2v7.1h-7.2zM282.5,649.1h7.2v7.1h-7.2zM314.3,649.1h7.2v7.1h-7.2zM206,655.4h7.2v7.1h-7.2zM263.4,655.4h7.2v7.1h-7.2zM288.8,655.4h7.2v7.1h-7.2zM314.3,655.4h7.2v7.1h-7.2zM218.8,661.8h7.2v7.1h-7.2zM250.6,661.8h7.2v7.1h-7.2zM263.4,661.8h7.2v7.1h-7.2zM186.9,668.1h7.2v7.1h-7.2zM206,668.1h7.2v7.1h-7.2zM231.5,668.1h7.2v7.1h-7.2zM276.1,668.1h7.2v7.1h-7.2zM295.2,668.1h7.2v7.1h-7.2zM186.9,674.5h7.2v7.1h-7.2zM301.6,674.5h7.2v7.1h-7.2zM308,674.5h7.2v7.1h-7.2zM193.3,680.8h7.2v7.1h-7.2zM237.9,680.8h7.2v7.1h-7.2zM269.7,680.8h7.2v7.1h-7.2zM295.2,680.8h7.2v7.1h-7.2zM218.8,687.1h7.2v7.1h-7.2zM295.2,687.1h7.2v7.1h-7.2zM186.9,693.5h7.2v7.1h-7.2zM218.8,693.5h7.2v7.1h-7.2zM225.1,693.5h7.2v7.1h-7.2zM257,693.5h7.2v7.1h-7.2zM327.1,693.5h7.2v7.1h-7.2zM212.4,706.1h7.2v7.1h-7.2zM225.1,706.1h7.2v7.1h-7.2zM186.9,712.5h7.2v7.1h-7.2zM193.3,712.5h7.2v7.1h-7.2zM199.6,712.5h7.2v7.1h-7.2zM180.5,718.8h7.2v7.1h-7.2zM282.5,718.8h7.2v7.1h-7.2zM186.9,725.2h7.2v13.1h-7.2z"/>
<path fill="#1f998a" d="M250.6,383.2h7.2v13.1h-7.2zM269.7,383.2h7.2v13.1h-7.2zM327.1,383.2h7.2v13.1h-7.2zM231.5,395.5h7.2v7.1h-7.2zM237.9,395.5h7.2v7.1h-7.2zM244.2,395.5h7.2v7.1h-7.2zM269.7,395.5h7.2v7.1h-7.2zM301.6,395.5h7.2v7.1h-7.2zM320.7,395.5h7.2v7.1h-7.2zM327.1,395.5h7.2v7.1h-7.2zM237.9,401.9h7.2v7.1h-7.2zM244.2,401.9h7.2v7.1h-7.2zM250.6,401.9h7.2v7.1h-7.2zM301.6,401.9h7.2v7.1h-7.2zM320.7,401.9h7.2v7.1h-7.2zM231.5,408.2h7.2v7.1h-7.2zM244.2,408.2h7.2v7.1h-7.2zM257,408.2h7.2v7.1h-7.2zM282.5,408.2h7.2v7.1h-7.2zM314.3,408.2h7.2v7.1h-7.2zM231.5,414.6h7.2v7.1h-7.2zM237.9,414.6h7.2v7.1h-7.2zM257,414.6h7.2v7.1h-7.2zM308,414.6h7.2v7.1h-7.2zM320.7,414.6h7.2v7.1h-7.2zM218.8,420.9h7.2v7.1h-7.2zM244.2,420.9h7.2v7.1h-7.2zM257,420.9h7.2v7.1h-7.2zM288.8,420.9h7.2v7.1h-7.2zM301.6,420.9h7.2v7.1h-7.2zM320.7,420.9h7.2v7.1h-7.2zM218.8,427.2h7.2v7.1h-7.2zM231.5,427.2h7.2v7.1h-7.2zM301.6,427.2h7.2v7.1h-7.2zM320.7,427.2h7.2v7.1h-7.2zM206,433.6h7.2v7.1h-7.2zM225.1,433.6h7.2v7.1h-7.2zM237.9,433.6h7.2v7.1h-7.2zM263.4,433.6h7.2v7.1h-7.2zM320.7,433.6h7.2v7.1h-7.2zM218.8,439.9h7.2v7.1h-7.2zM231.5,439.9h7.2v7.1h-7.2zM237.9,439.9h7.2v7.1h-7.2zM250.6,439.9h7.2v7.1h-7.2zM301.6,439.9h7.2v7.1h-7.2zM308,439.9h7.2v7.1h-7.2zM339.8,439.9h7.2v7.1h-7.2zM263.4,446.2h7.2v7.1h-7.2zM282.5,446.2h7.2v7.1h-7.2zM308,446.2h7.2v7.1h-7.2zM212.4,452.6h7.2v7.1h-7.2zM218.8,452.6h7.2v7.1h-7.2zM257,452.6h7.2v7.1h-7.2zM327.1,452.6h7.2v7.1h-7.2zM225.1,458.9h7.2v7.1h-7.2zM282.5,458.9h7.2v7.1h-7.2zM288.8,458.9h7.2v7.1h-7.2zM333.5,458.9h7.2v7.1h-7.2zM276.1,465.3h7.2v7.1h-7.2zM333.5,465.3h7.2v7.1h-7.2zM276.1,471.6h7.2v7.1h-7.2zM199.6,477.9h7.2v7.1h-7.2zM257,477.9h7.2v7.1h-7.2zM288.8,477.9h7.2v7.1h-7.2zM295.2,477.9h7.2v7.1h-7.2zM276.1,484.3h7.2v7.1h-7.2zM218.8,490.6h7.2v7.1h-7.2zM257,490.6h7.2v7.1h-7.2zM333.5,490.6h7.2v7.1h-7.2zM206,497h7.2v7.1h-7.2zM212.4,497h7.2v7.1h-7.2zM269.7,497h7.2v7.1h-7.2zM288.8,497h7.2v7.1h-7.2zM333.5,497h7.2v7.1h-7.2zM263.4,503.3h7.2v7.1h-7.2zM206,509.6h7.2v7.1h-7.2zM339.8,509.6h7.2v7.1h-7.2zM199.6,516h7.2v7.1h-7.2zM269.7,516h7.2v7.1h-7.2zM333.5,516h7.2v7.1h-7.2zM263.4,528.7h7.2v7.1h-7.2zM282.5,528.7h7.2v7.1h-7.2zM339.8,528.7h7.2v7.1h-7.2zM263.4,535h7.2v7.1h-7.2zM288.8,535h7.2v7.1h-7.2zM276.1,541.3h7.2v7.1h-7.2zM269.7,547.7h7.2v7.1h-7.2zM333.5,547.7h7.2v7.1h-7.2zM199.6,554h7.2v7.1h-7.2zM269.7,554h7.2v7.1h-7.2zM339.8,554h7.2v7.1h-7.2zM199.6,560.4h7.2v7.1h-7.2zM276.1,573h7.2v7.1h-7.2zM333.5,573h7.2v7.1h-7.2zM199.6,579.4h7.2v7.1h-7.2zM257,579.4h7.2v7.1h-7.2zM276.1,579.4h7.2v7.1h-7.2zM257,585.7h7.2v7.1h-7.2zM199.6,592h7.2v7.1h-7.2zM333.5,592h7.2v7.1h-7.2zM193.3,604.7h7.2v7.1h-7.2zM199.6,604.7h7.2v7.1h-7.2zM250.6,604.7h7.2v7.1h-7.2zM257,604.7h7.2v7.1h-7.2zM327.1,604.7h7.2v7.1h-7.2zM199.6,611.1h7.2v7.1h-7.2zM244.2,617.4h7.2v7.1h-7.2zM193.3,623.7h7.2v7.1h-7.2zM193.3,630.1h7.2v7.1h-7.2zM282.5,636.4h7.2v7.1h-7.2zM206,642.8h7.2v7.1h-7.2zM199.6,649.1h7.2v7.1h-7.2zM186.9,661.8h7.2v7.1h-7.2zM199.6,661.8h7.2v7.1h-7.2zM212.4,661.8h7.2v7.1h-7.2zM288.8,661.8h7.2v7.1h-7.2zM193.3,668.1h7.2v7.1h-7.2zM218.8,668.1h7.2v7.1h-7.2zM237.9,668.1h7.2v7.1h-7.2zM282.5,668.1h7.2v7.1h-7.2zM288.8,668.1h7.2v7.1h-7.2zM193.3,674.5h7.2v7.1h-7.2zM225.1,674.5h7.2v7.1h-7.2zM269.7,674.5h7.2v7.1h-7.2zM212.4,680.8h7.2v7.1h-7.2zM231.5,687.1h7.2v7.1h-7.2zM180.5,693.5h7.2v7.1h-7.2zM206,693.5h7.2v7.1h-7.2zM212.4,693.5h7.2v7.1h-7.2zM180.5,699.8h7.2v7.1h-7.2zM186.9,699.8h7.2v7.1h-7.2zM199.6,699.8h7.2v7.1h-7.2zM206,699.8h7.2v7.1h-7.2zM186.9,706.1h7.2v7.1h-7.2zM199.6,706.1h7.2v7.1h-7.2zM186.9,718.8h7.2v7.1h-7.2zM218.8,725.2h7.2v13.1h-7.2z"/>
<path fill="#1fa088" d="M225.1,383.2h7.2v13.1h-7.2zM225.1,401.9h7.2v7.1h-7.2zM231.5,401.9h7.2v7.1h-7.2zM237.9,408.2h7.2v7.1h-7.2zM308,408.2h7.2v7.1h-7.2zM320.7,408.2h7.2v7.1h-7.2zM218.8,414.6h7.2v7.1h-7.2zM295.2,414.6h7.2v7.1h-7.2zM301.6,414.6h7.2v7.1h-7.2zM225.1,420.9h7.2v7.1h-7.2zM231.5,420.9h7.2v7.1h-7.2zM212.4,427.2h7.2v7.1h-7.2zM225.1,427.2h7.2v7.1h-7.2zM250.6,427.2h7.2v7.1h-7.2zM327.1,427.2h7.2v7.1h-7.2zM250.6,433.6h7.2v7.1h-7.2zM314.3,433.6h7.2v7.1h-7.2zM193.3,439.9h7.2v7.1h-7.2zM206,439.9h7.2v7.1h-7.2zM314.3,439.9h7.2v7.1h-7.2zM320.7,439.9h7.2v7.1h-7.2zM212.4,446.2h7.2v7.1h-7.2zM218.8,446.2h7.2v7.1h-7.2zM314.3,446.2h7.2v7.1h-7.2zM199.6,452.6h7.2v7.1h-7.2zM225.1,452.6h7.2v7.1h-7.2zM301.6,452.6h7.2v7.1h-7.2zM308,452.6h7.2v7.1h-7.2zM314.3,452.6h7.2v7.1h-7.2zM212.4,458.9h7.2v7.1h-7.2zM276.1,458.9h7.2v7.1h-7.2zM327.1,458.9h7.2v7.1h-7.2zM250.6,465.3h7.2v7.1h-7.2zM308,465.3h7.2v7.1h-7.2zM199.6,471.6h7.2v7.1h-7.2zM212.4,471.6h7.2v7.1h-7.2zM218.8,471.6h7.2v7.1h-7.2zM301.6,471.6h7.2v7.1h-7.2zM327.1,471.6h7.2v7.1h-7.2zM206,477.9h7.2v7.1h-7.2zM301.6,477.9h7.2v7.1h-7.2zM206,484.3h7.2v7.1h-7.2zM212.4,484.3h7.2v7.1h-7.2zM333.5,484.3h7.2v7.1h-7.2zM295.2,490.6h7.2v7.1h-7.2zM257,497h7.2v7.1h-7.2zM199.6,509.6h7.2v7.1h-7.2zM263.4,509.6h7.2v7.1h-7.2zM288.8,509.6h7.2v7.1h-7.2zM333.5,509.6h7.2v7.1h-7.2zM206,522.3h7.2v7.1h-7.2zM288.8,522.3h7.2v7.1h-7.2zM206,528.7h7.2v7.1h-7.2zM269.7,528.7h7.2v7.1h-7.2zM288.8,528.7h7.2v7.1h-7.2zM276.1,535h7.2v7.1h-7.2zM263.4,541.3h7.2v7.1h-7.2zM282.5,541.3h7.2v7.1h-7.2zM263.4,554h7.2v7.1h-7.2zM276.1,554h7.2v7.1h-7.2zM282.5,554h7.2v7.1h-7.2zM257,566.7h7.2v7.1h-7.2zM327.1,566.7h7.2v7.1h-7.2zM257,573h7.2v7.1h-7.2zM282.5,573h7.2v7.1h-7.2zM327.1,585.7h7.2v7.1h-7.2zM333.5,585.7h7.2v7.1h-7.2zM263.4,592h7.2v7.1h-7.2zM327.1,592h7.2v7.1h-7.2zM199.6,598.4h7.2v7.1h-7.2zM250.6,598.4h7.2v7.1h-7.2zM206,604.7h7.2v7.1h-7.2zM193.3,617.4h7.2v7.1h-7.2zM237.9,617.4h7.2v7.1h-7.2zM250.6,623.7h7.2v7.1h-7.2zM257,623.7h7.2v7.1h-7.2zM282.5,630.1h7.2v7.1h-7.2zM314.3,630.1h7.2v7.1h-7.2zM327.1,630.1h7.2v7.1h-7.2zM193.3,642.8h7.2v7.1h-7.2zM212.4,642.8h7.2v7.1h-7.2zM282.5,642.8h7.2v7.1h-7.2zM193.3,649.1h7.2v7.1h-7.2zM199.6,655.4h7.2v7.1h-7.2zM212.4,655.4h7.2v7.1h-7.2zM193.3,661.8h7.2v7.1h-7.2zM206,661.8h7.2v7.1h-7.2zM225.1,661.8h7.2v7.1h-7.2zM231.5,661.8h7.2v7.1h-7.2zM301.6,661.8h7.2v7.1h-7.2zM301.6,668.1h7.2v7.1h-7.2zM308,668.1h7.2v7.1h-7.2zM206,680.8h7.2v7.1h-7.2zM180.5,712.5h7.2v7.1h-7.2zM174.2,718.8h7.2v7.1h-7.2zM174.2,725.2h7.2v13.1h-7.2z"/>
<path fill="#21a585" d="M212.4,383.2h7.2v13.1h-7.2zM308,395.5h7.2v7.1h-7.2zM314.3,395.5h7.2v7.1h-7.2zM206,401.9h7.2v7.1h-7.2zM218.8,401.9h7.2v7.1h-7.2zM212.4,408.2h7.2v7.1h-7.2zM212.4,414.6h7.2v7.1h-7.2zM193.3,433.6h7.2v7.1h-7.2zM212.4,433.6h7.2v7.1h-7.2zM199.6,439.9h7.2v7.1h-7.2zM212.4,439.9h7.2v7.1h-7.2zM206,446.2h7.2v7.1h-7.2zM244.2,446.2h7.2v7.1h-7.2zM250.6,446.2h7.2v7.1h-7.2zM320.7,446.2h7.2v7.1h-7.2zM320.7,452.6h7.2v7.1h-7.2zM199.6,458.9h7.2v7.1h-7.2zM218.8,458.9h7.2v7.1h-7.2zM199.6,465.3h7.2v7.1h-7.2zM212.4,465.3h7.2v7.1h-7.2zM327.1,465.3h7.2v7.1h-7.2zM206,471.6h7.2v7.1h-7.2zM231.5,471.6h7.2v7.1h-7.2zM257,471.6h7.2v7.1h-7.2zM218.8,477.9h7.2v7.1h-7.2zM327.1,477.9h7.2v7.1h-7.2zM199.6,484.3h7.2v7.1h-7.2zM218.8,484.3h7.2v7.1h-7.2zM327.1,484.3h7.2v7.1h-7.2zM199.6,490.6h7.2v7.1h-7.2zM212.4,490.6h7.2v7.1h-7.2zM199.6,497h7.2v7.1h-7.2zM301.6,497h7.2v7.1h-7.2zM288.8,503.3h7.2v7.1h-7.2zM333.5,503.3h7.2v7.1h-7.2zM263.4,516h7.2v7.1h-7.2zM257,522.3h7.2v7.1h-7.2zM333.5,522.3h7.2v7.1h-7.2zM333.5,528.7h7.2v7.1h-7.2zM193.3,535h7.2v7.1h-7.2zM282.5,535h7.2v7.1h-7.2zM333.5,535h7.2v7.1h-7.2zM199.6,541.3h7.2v7.1h-7.2zM333.5,541.3h7.2v7.1h-7.2zM263.4,547.7h7.2v7.1h-7.2zM288.8,547.7h7.2v7.1h-7.2zM257,554h7.2v7.1h-7.2zM257,560.4h7.2v7.1h-7.2zM333.5,560.4h7.2v7.1h-7.2zM199.6,566.7h7.2v7.1h-7.2zM269.7,566.7h7.2v7.1h-7.2zM282.5,566.7h7.2v7.1h-7.2zM193.3,579.4h7.2v7.1h-7.2zM250.6,592h7.2v7.1h-7.2zM193.3,598.4h7.2v7.1h-7.2zM327.1,598.4h7.2v7.1h-7.2zM193.3,611.1h7.2v7.1h-7.2zM206,611.1h7.2v7.1h-7.2zM244.2,611.1h7.2v7.1h-7.2zM320.7,611.1h7.2v7.1h-7.2zM186.9,617.4h7.2v7.1h-7.2zM206,617.4h7.2v7.1h-7.2zM282.5,617.4h7.2v7.1h-7.2zM320.7,617.4h7.2v7.1h-7.2zM282.5,623.7h7.2v7.1h-7.2zM320.7,623.7h7.2v7.1h-7.2zM186.9,630.1h7.2v7.1h-7.2zM199.6,630.1h7.2v7.1h-7.2zM288.8,630.1h7.2v7.1h-7.2zM193.3,636.4h7.2v7.1h-7.2zM237.9,636.4h7.2v7.1h-7.2zM186.9,642.8h7.2v7.1h-7.2zM218.8,642.8h7.2v7.1h-7.2zM225.1,642.8h7.2v7.1h-7.2zM288.8,642.8h7.2v7.1h-7.2zM295.2,642.8h7.2v7.1h-7.2zM308,642.8h7.2v7.1h-7.2zM314.3,642.8h7.2v7.1h-7.2zM186.9,649.1h7.2v7.1h-7.2zM212.4,649.1h7.2v7.1h-7.2zM301.6,649.1h7.2v7.1h-7.2zM308,649.1h7.2v7.1h-7.2zM186.9,655.4h7.2v7.1h-7.2zM193.3,655.4h7.2v7.1h-7.2zM218.8,655.4h7.2v7.1h-7.2zM225.1,655.4h7.2v7.1h-7.2zM308,655.4h7.2v7.1h-7.2zM295.2,661.8h7.2v7.1h-7.2zM225.1,668.1h7.2v7.1h-7.2zM218.8,674.5h7.2v7.1h-7.2zM186.9,680.8h7.2v7.1h-7.2zM180.5,706.1h7.2v7.1h-7.2z"/>
<path fill="#25ac82" d="M308,383.2h7.2v13.1h-7.2zM314.3,383.2h7.2v13.1h-7.2zM206,395.5h7.2v7.1h-7.2zM212.4,395.5h7.2v7.1h-7.2zM225.1,395.5h7.2v7.1h-7.2zM212.4,401.9h7.2v7.1h-7.2zM199.6,408.2h7.2v7.1h-7.2zM218.8,408.2h7.2v7.1h-7.2zM212.4,420.9h7.2v7.1h-7.2zM206,427.2h7.2v7.1h-7.2zM244.2,427.2h7.2v7.1h-7.2zM244.2,439.9h7.2v7.1h-7.2zM231.5,446.2h7.2v7.1h-7.2zM244.2,452.6h7.2v7.1h-7.2zM250.6,452.6h7.2v7.1h-7.2zM206,458.9h7.2v7.1h-7.2zM231.5,458.9h7.2v7.1h-7.2zM250.6,458.9h7.2v7.1h-7.2zM308,458.9h7.2v7.1h-7.2zM206,465.3h7.2v7.1h-7.2zM225.1,465.3h7.2v7.1h-7.2zM257,465.3h7.2v7.1h-7.2zM314.3,465.3h7.2v7.1h-7.2zM193.3,471.6h7.2v7.1h-7.2zM225.1,471.6h7.2v7.1h-7.2zM320.7,471.6h7.2v7.1h-7.2zM308,477.9h7.2v7.1h-7.2zM193.3,484.3h7.2v7.1h-7.2zM225.1,484.3h7.2v7.1h-7.2zM257,484.3h7.2v7.1h-7.2zM301.6,484.3h7.2v7.1h-7.2zM308,484.3h7.2v7.1h-7.2zM250.6,490.6h7.2v7.1h-7.2zM218.8,497h7.2v7.1h-7.2zM327.1,497h7.2v7.1h-7.2zM199.6,503.3h7.2v7.1h-7.2zM257,503.3h7.2v7.1h-7.2zM212.4,509.6h7.2v7.1h-7.2zM212.4,522.3h7.2v7.1h-7.2zM199.6,528.7h7.2v7.1h-7.2zM199.6,535h7.2v7.1h-7.2zM206,547.7h7.2v7.1h-7.2zM257,547.7h7.2v7.1h-7.2zM282.5,547.7h7.2v7.1h-7.2zM333.5,554h7.2v7.1h-7.2zM193.3,560.4h7.2v7.1h-7.2zM282.5,560.4h7.2v7.1h-7.2zM327.1,560.4h7.2v7.1h-7.2zM263.4,566.7h7.2v7.1h-7.2zM193.3,573h7.2v7.1h-7.2zM199.6,573h7.2v7.1h-7.2zM327.1,573h7.2v7.1h-7.2zM206,579.4h7.2v7.1h-7.2zM212.4,579.4h7.2v7.1h-7.2zM327.1,579.4h7.2v7.1h-7.2zM250.6,585.7h7.2v7.1h-7.2zM282.5,585.7h7.2v7.1h-7.2zM193.3,592h7.2v7.1h-7.2zM206,592h7.2v7.1h-7.2zM288.8,592h7.2v7.1h-7.2zM206,598.4h7.2v7.1h-7.2zM282.5,598.4h7.2v7.1h-7.2zM244.2,604.7h7.2v7.1h-7.2zM282.5,604.7h7.2v7.1h-7.2zM320.7,604.7h7.2v7.1h-7.2zM282.5,611.1h7.2v7.1h-7.2zM288.8,617.4h7.2v7.1h-7.2zM199.6,623.7h7.2v7.1h-7.2zM212.4,623.7h7.2v7.1h-7.2zM218.8,623.7h7.2v7.1h-7.2zM308,623.7h7.2v7.1h-7.2zM206,630.1h7.2v7.1h-7.2zM186.9,636.4h7.2v7.1h-7.2zM199.6,636.4h7.2v7.1h-7.2zM288.8,636.4h7.2v7.1h-7.2zM314.3,636.4h7.2v7.1h-7.2zM295.2,649.1h7.2v7.1h-7.2zM231.5,655.4h7.2v7.1h-7.2zM295.2,655.4h7.2v7.1h-7.2zM301.6,655.4h7.2v7.1h-7.2zM180.5,674.5h7.2v7.1h-7.2zM180.5,680.8h7.2v7.1h-7.2zM180.5,687.1h7.2v7.1h-7.2zM174.2,706.1h7.2v7.1h-7.2z"/>
<path fill="#2db27d" d="M193.3,383.2h7.2v13.1h-7.2zM206,383.2h7.2v13.1h-7.2zM218.8,395.5h7.2v7.1h-7.2zM199.6,401.9h7.2v7.1h-7.2zM206,408.2h7.2v7.1h-7.2zM199.6,414.6h7.2v7.1h-7.2zM199.6,420.9h7.2v7.1h-7.2zM199.6,427.2h7.2v7.1h-7.2zM199.6,433.6h7.2v7.1h-7.2zM218.8,433.6h7.2v7.1h-7.2zM244.2,433.6h7.2v7.1h-7.2zM199.6,446.2h7.2v7.1h-7.2zM206,452.6h7.2v7.1h-7.2zM231.5,452.6h7.2v7.1h-7.2zM320.7,458.9h7.2v7.1h-7.2zM237.9,465.3h7.2v7.1h-7.2zM244.2,471.6h7.2v7.1h-7.2zM250.6,471.6h7.2v7.1h-7.2zM308,471.6h7.2v7.1h-7.2zM231.5,477.9h7.2v7.1h-7.2zM250.6,477.9h7.2v7.1h-7.2zM320.7,477.9h7.2v7.1h-7.2zM193.3,490.6h7.2v7.1h-7.2zM308,490.6h7.2v7.1h-7.2zM327.1,490.6h7.2v7.1h-7.2zM295.2,497h7.2v7.1h-7.2zM193.3,503.3h7.2v7.1h-7.2zM206,503.3h7.2v7.1h-7.2zM212.4,503.3h7.2v7.1h-7.2zM218.8,503.3h7.2v7.1h-7.2zM295.2,503.3h7.2v7.1h-7.2zM301.6,503.3h7.2v7.1h-7.2zM218.8,509.6h7.2v7.1h-7.2zM257,509.6h7.2v7.1h-7.2zM320.7,509.6h7.2v7.1h-7.2zM327.1,509.6h7.2v7.1h-7.2zM212.4,516h7.2v7.1h-7.2zM257,516h7.2v7.1h-7.2zM327.1,516h7.2v7.1h-7.2zM193.3,522.3h7.2v7.1h-7.2zM199.6,522.3h7.2v7.1h-7.2zM250.6,522.3h7.2v7.1h-7.2zM257,528.7h7.2v7.1h-7.2zM257,535h7.2v7.1h-7.2zM193.3,541.3h7.2v7.1h-7.2zM257,541.3h7.2v7.1h-7.2zM288.8,541.3h7.2v7.1h-7.2zM193.3,554h7.2v7.1h-7.2zM250.6,554h7.2v7.1h-7.2zM206,560.4h7.2v7.1h-7.2zM250.6,560.4h7.2v7.1h-7.2zM206,566.7h7.2v7.1h-7.2zM206,573h7.2v7.1h-7.2zM212.4,573h7.2v7.1h-7.2zM250.6,579.4h7.2v7.1h-7.2zM282.5,579.4h7.2v7.1h-7.2zM288.8,579.4h7.2v7.1h-7.2zM320.7,579.4h7.2v7.1h-7.2zM193.3,585.7h7.2v7.1h-7.2zM212.4,592h7.2v7.1h-7.2zM282.5,592h7.2v7.1h-7.2zM186.9,598.4h7.2v7.1h-7.2zM320.7,598.4h7.2v7.1h-7.2zM212.4,604.7h7.2v7.1h-7.2zM186.9,611.1h7.2v7.1h-7.2zM237.9,611.1h7.2v7.1h-7.2zM288.8,611.1h7.2v7.1h-7.2zM212.4,617.4h7.2v7.1h-7.2zM314.3,617.4h7.2v7.1h-7.2zM206,623.7h7.2v7.1h-7.2zM237.9,623.7h7.2v7.1h-7.2zM314.3,623.7h7.2v7.1h-7.2zM231.5,630.1h7.2v7.1h-7.2zM237.9,630.1h7.2v7.1h-7.2zM295.2,630.1h7.2v7.1h-7.2zM212.4,636.4h7.2v7.1h-7.2zM231.5,636.4h7.2v7.1h-7.2zM231.5,649.1h7.2v7.1h-7.2zM180.5,655.4h7.2v7.1h-7.2zM180.5,661.8h7.2v7.1h-7.2zM180.5,668.1h7.2v7.1h-7.2zM174.2,687.1h7.2v7.1h-7.2zM174.2,699.8h7.2v7.1h-7.2zM174.2,712.5h7.2v7.1h-7.2z"/>
<path fill="#35b779" d="M218.8,383.2h7.2v13.1h-7.2zM193.3,395.5h7.2v7.1h-7.2zM193.3,408.2h7.2v7.1h-7.2zM206,414.6h7.2v7.1h-7.2zM206,420.9h7.2v7.1h-7.2zM193.3,446.2h7.2v7.1h-7.2zM237.9,446.2h7.2v7.1h-7.2zM193.3,452.6h7.2v7.1h-7.2zM237.9,458.9h7.2v7.1h-7.2zM314.3,458.9h7.2v7.1h-7.2zM193.3,465.3h7.2v7.1h-7.2zM231.5,465.3h7.2v7.1h-7.2zM320.7,465.3h7.2v7.1h-7.2zM225.1,477.9h7.2v7.1h-7.2zM250.6,484.3h7.2v7.1h-7.2zM314.3,484.3h7.2v7.1h-7.2zM320.7,484.3h7.2v7.1h-7.2zM225.1,490.6h7.2v7.1h-7.2zM301.6,490.6h7.2v7.1h-7.2zM193.3,497h7.2v7.1h-7.2zM225.1,497h7.2v7.1h-7.2zM250.6,497h7.2v7.1h-7.2zM308,497h7.2v7.1h-7.2zM314.3,497h7.2v7.1h-7.2zM308,503.3h7.2v7.1h-7.2zM327.1,503.3h7.2v7.1h-7.2zM193.3,509.6h7.2v7.1h-7.2zM193.3,516h7.2v7.1h-7.2zM218.8,516h7.2v7.1h-7.2zM288.8,516h7.2v7.1h-7.2zM295.2,516h7.2v7.1h-7.2zM295.2,522.3h7.2v7.1h-7.2zM193.3,528.7h7.2v7.1h-7.2zM212.4,528.7h7.2v7.1h-7.2zM212.4,535h7.2v7.1h-7.2zM327.1,535h7.2v7.1h-7.2zM206,541.3h7.2v7.1h-7.2zM212.4,541.3h7.2v7.1h-7.2zM193.3,547.7h7.2v7.1h-7.2zM320.7,547.7h7.2v7.1h-7.2zM327.1,547.7h7.2v7.1h-7.2zM206,554h7.2v7.1h-7.2zM288.8,554h7.2v7.1h-7.2zM212.4,560.4h7.2v7.1h-7.2zM288.8,560.4h7.2v7.1h-7.2zM193.3,566.7h7.2v7.1h-7.2zM250.6,566.7h7.2v7.1h-7.2zM212.4,585.7h7.2v7.1h-7.2zM244.2,592h7.2v7.1h-7.2zM244.2,598.4h7.2v7.1h-7.2zM288.8,604.7h7.2v7.1h-7.2zM301.6,604.7h7.2v7.1h-7.2zM212.4,611.1h7.2v7.1h-7.2zM308,611.1h7.2v7.1h-7.2zM186.9,623.7h7.2v7.1h-7.2zM231.5,623.7h7.2v7.1h-7.2zM218.8,630.1h7.2v7.1h-7.2zM180.5,636.4h7.2v7.1h-7.2zM301.6,636.4h7.2v7.1h-7.2zM308,636.4h7.2v7.1h-7.2zM231.5,642.8h7.2v7.1h-7.2zM129.5,649.1h7.2v7.1h-7.2zM180.5,649.1h7.2v7.1h-7.2zM225.1,649.1h7.2v7.1h-7.2zM288.8,649.1h7.2v7.1h-7.2zM174.2,680.8h7.2v7.1h-7.2zM174.2,693.5h7.2v7.1h-7.2z"/>
<path fill="#40bd72" d="M193.3,420.9h7.2v7.1h-7.2zM193.3,427.2h7.2v7.1h-7.2zM237.9,452.6h7.2v7.1h-7.2zM193.3,458.9h7.2v7.1h-7.2zM244.2,458.9h7.2v7.1h-7.2zM244.2,465.3h7.2v7.1h-7.2zM129.5,471.6h7.2v7.1h-7.2zM237.9,471.6h7.2v7.1h-7.2zM314.3,471.6h7.2v7.1h-7.2zM237.9,477.9h7.2v7.1h-7.2zM314.3,477.9h7.2v7.1h-7.2zM244.2,484.3h7.2v7.1h-7.2zM231.5,490.6h7.2v7.1h-7.2zM314.3,490.6h7.2v7.1h-7.2zM320.7,497h7.2v7.1h-7.2zM225.1,503.3h7.2v7.1h-7.2zM250.6,503.3h7.2v7.1h-7.2zM320.7,503.3h7.2v7.1h-7.2zM295.2,509.6h7.2v7.1h-7.2zM250.6,516h7.2v7.1h-7.2zM320.7,516h7.2v7.1h-7.2zM327.1,522.3h7.2v7.1h-7.2zM250.6,528.7h7.2v7.1h-7.2zM295.2,528.7h7.2v7.1h-7.2zM327.1,528.7h7.2v7.1h-7.2zM218.8,535h7.2v7.1h-7.2zM320.7,535h7.2v7.1h-7.2zM218.8,541.3h7.2v7.1h-7.2zM218.8,547.7h7.2v7.1h-7.2zM295.2,547.7h7.2v7.1h-7.2zM320.7,554h7.2v7.1h-7.2zM295.2,560.4h7.2v7.1h-7.2zM212.4,566.7h7.2v7.1h-7.2zM244.2,566.7h7.2v7.1h-7.2zM288.8,566.7h7.2v7.1h-7.2zM320.7,566.7h7.2v7.1h-7.2zM250.6,573h7.2v7.1h-7.2zM186.9,579.4h7.2v7.1h-7.2zM123.2,585.7h7.2v7.1h-7.2zM206,585.7h7.2v7.1h-7.2zM212.4,598.4h7.2v7.1h-7.2zM218.8,598.4h7.2v7.1h-7.2zM314.3,598.4h7.2v7.1h-7.2zM180.5,604.7h7.2v7.1h-7.2zM218.8,604.7h7.2v7.1h-7.2zM237.9,604.7h7.2v7.1h-7.2zM314.3,604.7h7.2v7.1h-7.2zM231.5,611.1h7.2v7.1h-7.2zM314.3,611.1h7.2v7.1h-7.2zM225.1,617.4h7.2v7.1h-7.2zM225.1,623.7h7.2v7.1h-7.2zM288.8,623.7h7.2v7.1h-7.2zM225.1,630.1h7.2v7.1h-7.2zM308,630.1h7.2v7.1h-7.2zM218.8,636.4h7.2v7.1h-7.2zM295.2,636.4h7.2v7.1h-7.2zM218.8,649.1h7.2v7.1h-7.2zM174.2,661.8h7.2v7.1h-7.2zM174.2,674.5h7.2v7.1h-7.2zM167.8,725.2h7.2v13.1h-7.2z"/>
<path fill="#4cc26c" d="M199.6,383.2h7.2v13.1h-7.2zM199.6,395.5h7.2v7.1h-7.2zM186.9,408.2h7.2v7.1h-7.2zM193.3,414.6h7.2v7.1h-7.2zM129.5,427.2h7.2v7.1h-7.2zM142.3,452.6h7.2v7.1h-7.2zM193.3,477.9h7.2v7.1h-7.2zM231.5,484.3h7.2v7.1h-7.2zM244.2,490.6h7.2v7.1h-7.2zM320.7,490.6h7.2v7.1h-7.2zM186.9,497h7.2v7.1h-7.2zM231.5,497h7.2v7.1h-7.2zM231.5,503.3h7.2v7.1h-7.2zM314.3,503.3h7.2v7.1h-7.2zM250.6,509.6h7.2v7.1h-7.2zM301.6,516h7.2v7.1h-7.2zM308,516h7.2v7.1h-7.2zM218.8,522.3h7.2v7.1h-7.2zM237.9,522.3h7.2v7.1h-7.2zM301.6,522.3h7.2v7.1h-7.2zM308,522.3h7.2v7.1h-7.2zM218.8,528.7h7.2v7.1h-7.2zM320.7,528.7h7.2v7.1h-7.2zM129.5,535h7.2v7.1h-7.2zM244.2,535h7.2v7.1h-7.2zM186.9,541.3h7.2v7.1h-7.2zM250.6,541.3h7.2v7.1h-7.2zM327.1,541.3h7.2v7.1h-7.2zM212.4,547.7h7.2v7.1h-7.2zM244.2,547.7h7.2v7.1h-7.2zM186.9,554h7.2v7.1h-7.2zM218.8,554h7.2v7.1h-7.2zM327.1,554h7.2v7.1h-7.2zM186.9,573h7.2v7.1h-7.2zM288.8,573h7.2v7.1h-7.2zM295.2,573h7.2v7.1h-7.2zM186.9,585.7h7.2v7.1h-7.2zM244.2,585.7h7.2v7.1h-7.2zM320.7,585.7h7.2v7.1h-7.2zM218.8,592h7.2v7.1h-7.2zM231.5,592h7.2v7.1h-7.2zM320.7,592h7.2v7.1h-7.2zM225.1,598.4h7.2v7.1h-7.2zM129.5,604.7h7.2v7.1h-7.2zM186.9,604.7h7.2v7.1h-7.2zM218.8,611.1h7.2v7.1h-7.2zM231.5,617.4h7.2v7.1h-7.2zM308,617.4h7.2v7.1h-7.2zM295.2,623.7h7.2v7.1h-7.2zM301.6,623.7h7.2v7.1h-7.2zM123.2,630.1h7.2v7.1h-7.2zM135.9,630.1h7.2v7.1h-7.2zM301.6,630.1h7.2v7.1h-7.2zM129.5,642.8h7.2v7.1h-7.2zM135.9,642.8h7.2v7.1h-7.2zM301.6,642.8h7.2v7.1h-7.2zM123.2,680.8h7.2v7.1h-7.2zM123.2,687.1h7.2v7.1h-7.2zM123.2,699.8h7.2v7.1h-7.2zM116.8,712.5h7.2v7.1h-7.2zM116.8,725.2h7.2v13.1h-7.2zM123.2,725.2h7.2v13.1h-7.2z"/>
<path fill="#5ac864" d="M135.9,383.2h7.2v13.1h-7.2zM142.3,395.5h7.2v7.1h-7.2zM186.9,395.5h7.2v7.1h-7.2zM186.9,401.9h7.2v7.1h-7.2zM193.3,401.9h7.2v7.1h-7.2zM135.9,408.2h7.2v7.1h-7.2zM135.9,414.6h7.2v7.1h-7.2zM186.9,414.6h7.2v7.1h-7.2zM186.9,420.9h7.2v7.1h-7.2zM123.2,427.2h7.2v7.1h-7.2zM135.9,427.2h7.2v7.1h-7.2zM142.3,427.2h7.2v7.1h-7.2zM186.9,427.2h7.2v7.1h-7.2zM129.5,433.6h7.2v7.1h-7.2zM186.9,433.6h7.2v7.1h-7.2zM135.9,452.6h7.2v7.1h-7.2zM186.9,452.6h7.2v7.1h-7.2zM135.9,471.6h7.2v7.1h-7.2zM142.3,471.6h7.2v7.1h-7.2zM135.9,477.9h7.2v7.1h-7.2zM142.3,477.9h7.2v7.1h-7.2zM244.2,477.9h7.2v7.1h-7.2zM135.9,484.3h7.2v7.1h-7.2zM186.9,484.3h7.2v7.1h-7.2zM237.9,484.3h7.2v7.1h-7.2zM237.9,497h7.2v7.1h-7.2zM237.9,503.3h7.2v7.1h-7.2zM244.2,503.3h7.2v7.1h-7.2zM225.1,509.6h7.2v7.1h-7.2zM244.2,509.6h7.2v7.1h-7.2zM301.6,509.6h7.2v7.1h-7.2zM129.5,516h7.2v7.1h-7.2zM135.9,516h7.2v7.1h-7.2zM225.1,516h7.2v7.1h-7.2zM244.2,516h7.2v7.1h-7.2zM180.5,522.3h7.2v7.1h-7.2zM320.7,522.3h7.2v7.1h-7.2zM91.3,528.7h7.2v7.1h-7.2zM225.1,528.7h7.2v7.1h-7.2zM244.2,528.7h7.2v7.1h-7.2zM295.2,535h7.2v7.1h-7.2zM308,535h7.2v7.1h-7.2zM135.9,541.3h7.2v7.1h-7.2zM308,541.3h7.2v7.1h-7.2zM186.9,547.7h7.2v7.1h-7.2zM250.6,547.7h7.2v7.1h-7.2zM301.6,547.7h7.2v7.1h-7.2zM212.4,554h7.2v7.1h-7.2zM231.5,554h7.2v7.1h-7.2zM244.2,554h7.2v7.1h-7.2zM314.3,554h7.2v7.1h-7.2zM129.5,560.4h7.2v7.1h-7.2zM244.2,560.4h7.2v7.1h-7.2zM320.7,560.4h7.2v7.1h-7.2zM129.5,566.7h7.2v7.1h-7.2zM186.9,566.7h7.2v7.1h-7.2zM237.9,566.7h7.2v7.1h-7.2zM314.3,566.7h7.2v7.1h-7.2zM244.2,573h7.2v7.1h-7.2zM129.5,579.4h7.2v7.1h-7.2zM180.5,579.4h7.2v7.1h-7.2zM244.2,579.4h7.2v7.1h-7.2zM314.3,579.4h7.2v7.1h-7.2zM218.8,585.7h7.2v7.1h-7.2zM295.2,585.7h7.2v7.1h-7.2zM135.9,592h7.2v7.1h-7.2zM186.9,592h7.2v7.1h-7.2zM225.1,592h7.2v7.1h-7.2zM237.9,592h7.2v7.1h-7.2zM301.6,592h7.2v7.1h-7.2zM314.3,592h7.2v7.1h-7.2zM123.2,598.4h7.2v7.1h-7.2zM288.8,598.4h7.2v7.1h-7.2zM295.2,598.4h7.2v7.1h-7.2zM308,598.4h7.2v7.1h-7.2zM231.5,604.7h7.2v7.1h-7.2zM308,604.7h7.2v7.1h-7.2zM123.2,611.1h7.2v7.1h-7.2zM225.1,611.1h7.2v7.1h-7.2zM129.5,617.4h7.2v7.1h-7.2zM218.8,617.4h7.2v7.1h-7.2zM301.6,617.4h7.2v7.1h-7.2zM129.5,630.1h7.2v7.1h-7.2zM180.5,630.1h7.2v7.1h-7.2zM123.2,636.4h7.2v7.1h-7.2zM129.5,636.4h7.2v7.1h-7.2zM180.5,642.8h7.2v7.1h-7.2zM123.2,649.1h7.2v7.1h-7.2zM123.2,661.8h7.2v7.1h-7.2zM129.5,661.8h7.2v7.1h-7.2zM116.8,668.1h7.2v7.1h-7.2zM129.5,674.5h7.2v7.1h-7.2zM129.5,680.8h7.2v7.1h-7.2zM167.8,699.8h7.2v7.1h-7.2zM123.2,712.5h7.2v7.1h-7.2zM142.3,712.5h7.2v7.1h-7.2zM123.2,718.8h7.2v7.1h-7.2zM129.5,718.8h7.2v7.1h-7.2zM167.8,718.8h7.2v7.1h-7.2z"/>
<path fill="#67cc5c" d="M186.9,383.2h7.2v13.1h-7.2zM123.2,395.5h7.2v7.1h-7.2zM135.9,395.5h7.2v7.1h-7.2zM129.5,401.9h7.2v7.1h-7.2zM135.9,401.9h7.2v7.1h-7.2zM123.2,414.6h7.2v7.1h-7.2zM129.5,414.6h7.2v7.1h-7.2zM148.7,420.9h7.2v7.1h-7.2zM129.5,439.9h7.2v7.1h-7.2zM135.9,446.2h7.2v7.1h-7.2zM142.3,446.2h7.2v7.1h-7.2zM186.9,446.2h7.2v7.1h-7.2zM155,452.6h7.2v7.1h-7.2zM123.2,458.9h7.2v7.1h-7.2zM142.3,458.9h7.2v7.1h-7.2zM135.9,465.3h7.2v7.1h-7.2zM186.9,471.6h7.2v7.1h-7.2zM186.9,477.9h7.2v7.1h-7.2zM135.9,490.6h7.2v7.1h-7.2zM142.3,490.6h7.2v7.1h-7.2zM237.9,490.6h7.2v7.1h-7.2zM244.2,497h7.2v7.1h-7.2zM123.2,503.3h7.2v7.1h-7.2zM186.9,503.3h7.2v7.1h-7.2zM129.5,509.6h7.2v7.1h-7.2zM231.5,509.6h7.2v7.1h-7.2zM237.9,509.6h7.2v7.1h-7.2zM142.3,516h7.2v7.1h-7.2zM180.5,516h7.2v7.1h-7.2zM123.2,522.3h7.2v7.1h-7.2zM129.5,522.3h7.2v7.1h-7.2zM135.9,522.3h7.2v7.1h-7.2zM244.2,522.3h7.2v7.1h-7.2zM314.3,522.3h7.2v7.1h-7.2zM129.5,528.7h7.2v7.1h-7.2zM186.9,528.7h7.2v7.1h-7.2zM237.9,528.7h7.2v7.1h-7.2zM301.6,528.7h7.2v7.1h-7.2zM314.3,528.7h7.2v7.1h-7.2zM231.5,535h7.2v7.1h-7.2zM250.6,535h7.2v7.1h-7.2zM301.6,535h7.2v7.1h-7.2zM244.2,541.3h7.2v7.1h-7.2zM295.2,541.3h7.2v7.1h-7.2zM320.7,541.3h7.2v7.1h-7.2zM123.2,547.7h7.2v7.1h-7.2zM129.5,547.7h7.2v7.1h-7.2zM308,547.7h7.2v7.1h-7.2zM129.5,554h7.2v7.1h-7.2zM135.9,554h7.2v7.1h-7.2zM301.6,554h7.2v7.1h-7.2zM308,554h7.2v7.1h-7.2zM135.9,560.4h7.2v7.1h-7.2zM186.9,560.4h7.2v7.1h-7.2zM218.8,560.4h7.2v7.1h-7.2zM231.5,560.4h7.2v7.1h-7.2zM218.8,573h7.2v7.1h-7.2zM237.9,573h7.2v7.1h-7.2zM314.3,573h7.2v7.1h-7.2zM320.7,573h7.2v7.1h-7.2zM142.3,579.4h7.2v7.1h-7.2zM161.4,579.4h7.2v7.1h-7.2zM218.8,579.4h7.2v7.1h-7.2zM231.5,579.4h7.2v7.1h-7.2zM237.9,579.4h7.2v7.1h-7.2zM301.6,579.4h7.2v7.1h-7.2zM135.9,585.7h7.2v7.1h-7.2zM231.5,585.7h7.2v7.1h-7.2zM237.9,585.7h7.2v7.1h-7.2zM167.8,592h7.2v7.1h-7.2zM295.2,592h7.2v7.1h-7.2zM308,592h7.2v7.1h-7.2zM135.9,598.4h7.2v7.1h-7.2zM155,598.4h7.2v7.1h-7.2zM231.5,598.4h7.2v7.1h-7.2zM237.9,598.4h7.2v7.1h-7.2zM225.1,604.7h7.2v7.1h-7.2zM295.2,604.7h7.2v7.1h-7.2zM295.2,611.1h7.2v7.1h-7.2zM301.6,611.1h7.2v7.1h-7.2zM123.2,617.4h7.2v7.1h-7.2zM135.9,617.4h7.2v7.1h-7.2zM295.2,617.4h7.2v7.1h-7.2zM123.2,623.7h7.2v7.1h-7.2zM180.5,623.7h7.2v7.1h-7.2zM135.9,636.4h7.2v7.1h-7.2zM225.1,636.4h7.2v7.1h-7.2zM123.2,642.8h7.2v7.1h-7.2zM135.9,649.1h7.2v7.1h-7.2zM123.2,655.4h7.2v7.1h-7.2zM155,655.4h7.2v7.1h-7.2zM123.2,668.1h7.2v7.1h-7.2zM135.9,674.5h7.2v7.1h-7.2zM167.8,674.5h7.2v7.1h-7.2zM135.9,680.8h7.2v7.1h-7.2zM129.5,687.1h7.2v7.1h-7.2zM135.9,693.5h7.2v7.1h-7.2zM135.9,699.8h7.2v7.1h-7.2zM116.8,706.1h7.2v7.1h-7.2zM129.5,706.1h7.2v7.1h-7.2zM129.5,725.2h7.2v13.1h-7.2z"/>
<path fill="#77d153" d="M129.5,383.2h7.2v13.1h-7.2zM142.3,383.2h7.2v13.1h-7.2zM167.8,383.2h7.2v13.1h-7.2zM174.2,395.5h7.2v7.1h-7.2zM180.5,395.5h7.2v7.1h-7.2zM161.4,401.9h7.2v7.1h-7.2zM155,408.2h7.2v7.1h-7.2zM142.3,414.6h7.2v7.1h-7.2zM123.2,420.9h7.2v7.1h-7.2zM129.5,420.9h7.2v7.1h-7.2zM91.3,433.6h7.2v7.1h-7.2zM123.2,433.6h7.2v7.1h-7.2zM135.9,433.6h7.2v7.1h-7.2zM135.9,439.9h7.2v7.1h-7.2zM155,439.9h7.2v7.1h-7.2zM186.9,439.9h7.2v7.1h-7.2zM116.8,446.2h7.2v7.1h-7.2zM123.2,446.2h7.2v7.1h-7.2zM129.5,446.2h7.2v7.1h-7.2zM148.7,446.2h7.2v7.1h-7.2zM129.5,452.6h7.2v7.1h-7.2zM148.7,452.6h7.2v7.1h-7.2zM180.5,452.6h7.2v7.1h-7.2zM129.5,458.9h7.2v7.1h-7.2zM155,458.9h7.2v7.1h-7.2zM91.3,465.3h7.2v7.1h-7.2zM123.2,465.3h7.2v7.1h-7.2zM167.8,471.6h7.2v7.1h-7.2zM91.3,477.9h7.2v7.1h-7.2zM180.5,477.9h7.2v7.1h-7.2zM123.2,484.3h7.2v7.1h-7.2zM142.3,484.3h7.2v7.1h-7.2zM123.2,490.6h7.2v7.1h-7.2zM129.5,490.6h7.2v7.1h-7.2zM186.9,490.6h7.2v7.1h-7.2zM123.2,497h7.2v7.1h-7.2zM142.3,497h7.2v7.1h-7.2zM174.2,497h7.2v7.1h-7.2zM180.5,497h7.2v7.1h-7.2zM129.5,503.3h7.2v7.1h-7.2zM174.2,503.3h7.2v7.1h-7.2zM135.9,509.6h7.2v7.1h-7.2zM142.3,509.6h7.2v7.1h-7.2zM180.5,509.6h7.2v7.1h-7.2zM186.9,509.6h7.2v7.1h-7.2zM308,509.6h7.2v7.1h-7.2zM314.3,509.6h7.2v7.1h-7.2zM155,516h7.2v7.1h-7.2zM237.9,516h7.2v7.1h-7.2zM314.3,516h7.2v7.1h-7.2zM155,522.3h7.2v7.1h-7.2zM225.1,522.3h7.2v7.1h-7.2zM231.5,522.3h7.2v7.1h-7.2zM142.3,528.7h7.2v7.1h-7.2zM167.8,528.7h7.2v7.1h-7.2zM123.2,535h7.2v7.1h-7.2zM135.9,535h7.2v7.1h-7.2zM142.3,535h7.2v7.1h-7.2zM186.9,535h7.2v7.1h-7.2zM142.3,541.3h7.2v7.1h-7.2zM180.5,541.3h7.2v7.1h-7.2zM231.5,541.3h7.2v7.1h-7.2zM301.6,541.3h7.2v7.1h-7.2zM135.9,547.7h7.2v7.1h-7.2zM180.5,547.7h7.2v7.1h-7.2zM225.1,547.7h7.2v7.1h-7.2zM142.3,554h7.2v7.1h-7.2zM174.2,554h7.2v7.1h-7.2zM295.2,554h7.2v7.1h-7.2zM123.2,560.4h7.2v7.1h-7.2zM142.3,560.4h7.2v7.1h-7.2zM155,560.4h7.2v7.1h-7.2zM161.4,560.4h7.2v7.1h-7.2zM237.9,560.4h7.2v7.1h-7.2zM314.3,560.4h7.2v7.1h-7.2zM84.9,566.7h7.2v7.1h-7.2zM142.3,566.7h7.2v7.1h-7.2zM167.8,566.7h7.2v7.1h-7.2zM225.1,566.7h7.2v7.1h-7.2zM308,566.7h7.2v7.1h-7.2zM180.5,573h7.2v7.1h-7.2zM231.5,573h7.2v7.1h-7.2zM308,573h7.2v7.1h-7.2zM135.9,579.4h7.2v7.1h-7.2zM295.2,579.4h7.2v7.1h-7.2zM129.5,585.7h7.2v7.1h-7.2zM148.7,585.7h7.2v7.1h-7.2zM301.6,585.7h7.2v7.1h-7.2zM308,585.7h7.2v7.1h-7.2zM314.3,585.7h7.2v7.1h-7.2zM123.2,592h7.2v7.1h-7.2zM129.5,592h7.2v7.1h-7.2zM116.8,598.4h7.2v7.1h-7.2zM129.5,598.4h7.2v7.1h-7.2zM167.8,598.4h7.2v7.1h-7.2zM180.5,598.4h7.2v7.1h-7.2zM91.3,604.7h7.2v7.1h-7.2zM123.2,604.7h7.2v7.1h-7.2zM135.9,604.7h7.2v7.1h-7.2zM142.3,604.7h7.2v7.1h-7.2zM167.8,604.7h7.2v7.1h-7.2zM174.2,604.7h7.2v7.1h-7.2zM129.5,611.1h7.2v7.1h-7.2zM155,611.1h7.2v7.1h-7.2zM180.5,611.1h7.2v7.1h-7.2zM161.4,617.4h7.2v7.1h-7.2zM174.2,617.4h7.2v7.1h-7.2zM180.5,617.4h7.2v7.1h-7.2zM135.9,623.7h7.2v7.1h-7.2zM142.3,623.7h7.2v7.1h-7.2zM174.2,623.7h7.2v7.1h-7.2zM174.2,636.4h7.2v7.1h-7.2zM148.7,642.8h7.2v7.1h-7.2zM155,642.8h7.2v7.1h-7.2zM167.8,642.8h7.2v7.1h-7.2zM142.3,649.1h7.2v7.1h-7.2zM135.9,655.4h7.2v7.1h-7.2zM174.2,655.4h7.2v7.1h-7.2zM129.5,668.1h7.2v7.1h-7.2zM174.2,668.1h7.2v7.1h-7.2zM123.2,674.5h7.2v7.1h-7.2zM148.7,674.5h7.2v7.1h-7.2zM116.8,680.8h7.2v7.1h-7.2zM84.9,693.5h7.2v7.1h-7.2zM129.5,693.5h7.2v7.1h-7.2zM167.8,693.5h7.2v7.1h-7.2zM116.8,699.8h7.2v7.1h-7.2zM129.5,699.8h7.2v7.1h-7.2zM123.2,706.1h7.2v7.1h-7.2zM167.8,706.1h7.2v7.1h-7.2zM161.4,712.5h7.2v7.1h-7.2z"/>
<path fill="#89d548" d="M116.8,383.2h7.2v13.1h-7.2zM123.2,383.2h7.2v13.1h-7.2zM155,383.2h7.2v13.1h-7.2zM180.5,383.2h7.2v13.1h-7.2zM129.5,395.5h7.2v7.1h-7.2zM161.4,395.5h7.2v7.1h-7.2zM167.8,395.5h7.2v7.1h-7.2zM91.3,401.9h7.2v7.1h-7.2zM142.3,401.9h7.2v7.1h-7.2zM180.5,401.9h7.2v7.1h-7.2zM78.6,408.2h7.2v7.1h-7.2zM123.2,408.2h7.2v7.1h-7.2zM129.5,408.2h7.2v7.1h-7.2zM142.3,408.2h7.2v7.1h-7.2zM174.2,408.2h7.2v7.1h-7.2zM66.2,414.6h13.2v7.1h-13.2zM84.9,414.6h7.2v7.1h-7.2zM91.3,414.6h7.2v7.1h-7.2zM155,414.6h7.2v7.1h-7.2zM167.8,414.6h7.2v7.1h-7.2zM174.2,414.6h7.2v7.1h-7.2zM135.9,420.9h7.2v7.1h-7.2zM142.3,420.9h7.2v7.1h-7.2zM174.2,420.9h7.2v7.1h-7.2zM84.9,427.2h7.2v7.1h-7.2zM161.4,427.2h7.2v7.1h-7.2zM167.8,427.2h7.2v7.1h-7.2zM180.5,427.2h7.2v7.1h-7.2zM110.4,433.6h7.2v7.1h-7.2zM142.3,433.6h7.2v7.1h-7.2zM148.7,433.6h7.2v7.1h-7.2zM161.4,433.6h7.2v7.1h-7.2zM167.8,433.6h7.2v7.1h-7.2zM84.9,439.9h7.2v7.1h-7.2zM123.2,439.9h7.2v7.1h-7.2zM148.7,439.9h7.2v7.1h-7.2zM174.2,439.9h7.2v7.1h-7.2zM180.5,439.9h7.2v7.1h-7.2zM155,446.2h7.2v7.1h-7.2zM180.5,446.2h7.2v7.1h-7.2zM78.6,452.6h7.2v7.1h-7.2zM174.2,452.6h7.2v7.1h-7.2zM91.3,458.9h7.2v7.1h-7.2zM135.9,458.9h7.2v7.1h-7.2zM148.7,458.9h7.2v7.1h-7.2zM186.9,458.9h7.2v7.1h-7.2zM84.9,465.3h7.2v7.1h-7.2zM142.3,465.3h7.2v7.1h-7.2zM148.7,465.3h7.2v7.1h-7.2zM161.4,465.3h7.2v7.1h-7.2zM174.2,465.3h7.2v7.1h-7.2zM186.9,465.3h7.2v7.1h-7.2zM123.2,477.9h7.2v7.1h-7.2zM129.5,477.9h7.2v7.1h-7.2zM174.2,477.9h7.2v7.1h-7.2zM91.3,484.3h7.2v7.1h-7.2zM129.5,484.3h7.2v7.1h-7.2zM161.4,484.3h7.2v7.1h-7.2zM84.9,490.6h7.2v7.1h-7.2zM148.7,490.6h7.2v7.1h-7.2zM167.8,490.6h7.2v7.1h-7.2zM129.5,497h7.2v7.1h-7.2zM148.7,497h7.2v7.1h-7.2zM135.9,503.3h7.2v7.1h-7.2zM142.3,503.3h7.2v7.1h-7.2zM148.7,503.3h7.2v7.1h-7.2zM161.4,503.3h7.2v7.1h-7.2zM180.5,503.3h7.2v7.1h-7.2zM123.2,516h7.2v7.1h-7.2zM161.4,516h7.2v7.1h-7.2zM186.9,516h7.2v7.1h-7.2zM231.5,516h7.2v7.1h-7.2zM142.3,522.3h7.2v7.1h-7.2zM161.4,522.3h7.2v7.1h-7.2zM186.9,522.3h7.2v7.1h-7.2zM78.6,528.7h7.2v7.1h-7.2zM135.9,528.7h7.2v7.1h-7.2zM231.5,528.7h7.2v7.1h-7.2zM308,528.7h7.2v7.1h-7.2zM148.7,535h7.2v7.1h-7.2zM155,535h7.2v7.1h-7.2zM180.5,535h7.2v7.1h-7.2zM225.1,535h7.2v7.1h-7.2zM314.3,535h7.2v7.1h-7.2zM123.2,541.3h7.2v7.1h-7.2zM129.5,541.3h7.2v7.1h-7.2zM167.8,541.3h7.2v7.1h-7.2zM225.1,541.3h7.2v7.1h-7.2zM237.9,541.3h7.2v7.1h-7.2zM161.4,547.7h7.2v7.1h-7.2zM231.5,547.7h7.2v7.1h-7.2zM237.9,547.7h7.2v7.1h-7.2zM314.3,547.7h7.2v7.1h-7.2zM123.2,554h7.2v7.1h-7.2zM225.1,554h7.2v7.1h-7.2zM174.2,560.4h7.2v7.1h-7.2zM225.1,560.4h7.2v7.1h-7.2zM301.6,560.4h7.2v7.1h-7.2zM308,560.4h7.2v7.1h-7.2zM123.2,566.7h7.2v7.1h-7.2zM155,566.7h7.2v7.1h-7.2zM180.5,566.7h7.2v7.1h-7.2zM218.8,566.7h7.2v7.1h-7.2zM295.2,566.7h7.2v7.1h-7.2zM123.2,573h7.2v7.1h-7.2zM135.9,573h7.2v7.1h-7.2zM167.8,573h7.2v7.1h-7.2zM174.2,573h7.2v7.1h-7.2zM301.6,573h7.2v7.1h-7.2zM84.9,579.4h7.2v7.1h-7.2zM123.2,579.4h7.2v7.1h-7.2zM155,579.4h7.2v7.1h-7.2zM308,579.4h7.2v7.1h-7.2zM104.1,585.7h7.2v7.1h-7.2zM142.3,585.7h7.2v7.1h-7.2zM167.8,585.7h7.2v7.1h-7.2zM225.1,585.7h7.2v7.1h-7.2zM288.8,585.7h7.2v7.1h-7.2zM142.3,592h7.2v7.1h-7.2zM148.7,592h7.2v7.1h-7.2zM161.4,592h7.2v7.1h-7.2zM174.2,592h7.2v7.1h-7.2zM180.5,592h7.2v7.1h-7.2zM142.3,598.4h7.2v7.1h-7.2zM148.7,598.4h7.2v7.1h-7.2zM161.4,598.4h7.2v7.1h-7.2zM301.6,598.4h7.2v7.1h-7.2zM148.7,604.7h7.2v7.1h-7.2zM155,604.7h7.2v7.1h-7.2zM78.6,611.1h7.2v7.1h-7.2zM135.9,611.1h7.2v7.1h-7.2zM142.3,611.1h7.2v7.1h-7.2zM174.2,611.1h7.2v7.1h-7.2zM84.9,617.4h7.2v7.1h-7.2zM155,617.4h7.2v7.1h-7.2zM116.8,623.7h7.2v7.1h-7.2zM129.5,623.7h7.2v7.1h-7.2zM142.3,630.1h7.2v7.1h-7.2zM148.7,630.1h7.2v7.1h-7.2zM84.9,642.8h7.2v7.1h-7.2zM142.3,642.8h7.2v7.1h-7.2zM161.4,642.8h7.2v7.1h-7.2zM174.2,642.8h7.2v7.1h-7.2zM116.8,649.1h7.2v7.1h-7.2zM148.7,649.1h7.2v7.1h-7.2zM174.2,649.1h7.2v7.1h-7.2zM148.7,655.4h7.2v7.1h-7.2zM161.4,655.4h7.2v7.1h-7.2zM91.3,661.8h7.2v7.1h-7.2zM135.9,661.8h7.2v7.1h-7.2zM142.3,661.8h7.2v7.1h-7.2zM66.2,668.1h13.2v7.1h-13.2zM135.9,668.1h7.2v7.1h-7.2zM116.8,674.5h7.2v7.1h-7.2zM142.3,674.5h7.2v7.1h-7.2zM155,674.5h7.2v7.1h-7.2zM142.3,680.8h7.2v7.1h-7.2zM167.8,680.8h7.2v7.1h-7.2zM78.6,687.1h7.2v7.1h-7.2zM116.8,687.1h7.2v7.1h-7.2zM142.3,687.1h7.2v7.1h-7.2zM78.6,693.5h7.2v7.1h-7.2zM123.2,693.5h7.2v7.1h-7.2zM142.3,699.8h7.2v7.1h-7.2zM161.4,699.8h7.2v7.1h-7.2zM142.3,706.1h7.2v7.1h-7.2zM155,706.1h7.2v7.1h-7.2zM167.8,712.5h7.2v7.1h-7.2zM84.9,718.8h7.2v7.1h-7.2zM116.8,718.8h7.2v7.1h-7.2zM161.4,718.8h7.2v7.1h-7.2zM66.2,725.2h13.2v13.1h-13.2z"/>
<path fill="#98d83e" d="M148.7,383.2h7.2v13.1h-7.2zM161.4,383.2h7.2v13.1h-7.2zM148.7,395.5h7.2v7.1h-7.2zM66.2,401.9h13.2v7.1h-13.2zM123.2,401.9h7.2v7.1h-7.2zM167.8,401.9h7.2v7.1h-7.2zM174.2,401.9h7.2v7.1h-7.2zM110.4,408.2h7.2v7.1h-7.2zM180.5,408.2h7.2v7.1h-7.2zM180.5,414.6h7.2v7.1h-7.2zM116.8,420.9h7.2v7.1h-7.2zM155,420.9h7.2v7.1h-7.2zM167.8,420.9h7.2v7.1h-7.2zM180.5,420.9h7.2v7.1h-7.2zM155,427.2h7.2v7.1h-7.2zM155,433.6h7.2v7.1h-7.2zM174.2,433.6h7.2v7.1h-7.2zM180.5,433.6h7.2v7.1h-7.2zM142.3,439.9h7.2v7.1h-7.2zM161.4,439.9h7.2v7.1h-7.2zM91.3,446.2h7.2v7.1h-7.2zM174.2,446.2h7.2v7.1h-7.2zM91.3,452.6h7.2v7.1h-7.2zM123.2,452.6h7.2v7.1h-7.2zM167.8,452.6h7.2v7.1h-7.2zM116.8,458.9h7.2v7.1h-7.2zM78.6,465.3h7.2v7.1h-7.2zM129.5,465.3h7.2v7.1h-7.2zM180.5,465.3h7.2v7.1h-7.2zM84.9,471.6h7.2v7.1h-7.2zM155,471.6h7.2v7.1h-7.2zM161.4,471.6h7.2v7.1h-7.2zM174.2,471.6h7.2v7.1h-7.2zM180.5,471.6h7.2v7.1h-7.2zM148.7,484.3h7.2v7.1h-7.2zM155,484.3h7.2v7.1h-7.2zM180.5,484.3h7.2v7.1h-7.2zM155,490.6h7.2v7.1h-7.2zM161.4,490.6h7.2v7.1h-7.2zM91.3,497h7.2v7.1h-7.2zM110.4,497h7.2v7.1h-7.2zM135.9,497h7.2v7.1h-7.2zM155,497h7.2v7.1h-7.2zM161.4,497h7.2v7.1h-7.2zM84.9,503.3h7.2v7.1h-7.2zM91.3,503.3h7.2v7.1h-7.2zM167.8,503.3h7.2v7.1h-7.2zM84.9,509.6h7.2v7.1h-7.2zM123.2,509.6h7.2v7.1h-7.2zM148.7,509.6h7.2v7.1h-7.2zM167.8,509.6h7.2v7.1h-7.2zM148.7,516h7.2v7.1h-7.2zM66.2,522.3h13.2v7.1h-13.2zM84.9,522.3h7.2v7.1h-7.2zM123.2,528.7h7.2v7.1h-7.2zM148.7,528.7h7.2v7.1h-7.2zM155,528.7h7.2v7.1h-7.2zM161.4,528.7h7.2v7.1h-7.2zM104.1,535h7.2v7.1h-7.2zM116.8,535h7.2v7.1h-7.2zM161.4,535h7.2v7.1h-7.2zM167.8,535h7.2v7.1h-7.2zM174.2,535h7.2v7.1h-7.2zM66.2,541.3h13.2v7.1h-13.2zM84.9,541.3h7.2v7.1h-7.2zM148.7,541.3h7.2v7.1h-7.2zM174.2,541.3h7.2v7.1h-7.2zM314.3,541.3h7.2v7.1h-7.2zM142.3,547.7h7.2v7.1h-7.2zM148.7,547.7h7.2v7.1h-7.2zM78.6,554h7.2v7.1h-7.2zM148.7,554h7.2v7.1h-7.2zM161.4,554h7.2v7.1h-7.2zM167.8,554h7.2v7.1h-7.2zM237.9,554h7.2v7.1h-7.2zM78.6,560.4h7.2v7.1h-7.2zM148.7,560.4h7.2v7.1h-7.2zM161.4,566.7h7.2v7.1h-7.2zM174.2,566.7h7.2v7.1h-7.2zM231.5,566.7h7.2v7.1h-7.2zM301.6,566.7h7.2v7.1h-7.2zM84.9,573h7.2v7.1h-7.2zM91.3,573h7.2v7.1h-7.2zM129.5,573h7.2v7.1h-7.2zM142.3,573h7.2v7.1h-7.2zM148.7,573h7.2v7.1h-7.2zM155,573h7.2v7.1h-7.2zM225.1,573h7.2v7.1h-7.2zM116.8,579.4h7.2v7.1h-7.2zM148.7,579.4h7.2v7.1h-7.2zM167.8,579.4h7.2v7.1h-7.2zM225.1,579.4h7.2v7.1h-7.2zM84.9,585.7h7.2v7.1h-7.2zM161.4,585.7h7.2v7.1h-7.2zM180.5,585.7h7.2v7.1h-7.2zM91.3,598.4h7.2v7.1h-7.2zM110.4,598.4h7.2v7.1h-7.2zM97.7,604.7h7.2v7.1h-7.2zM161.4,604.7h7.2v7.1h-7.2zM91.3,611.1h7.2v7.1h-7.2zM116.8,611.1h7.2v7.1h-7.2zM148.7,611.1h7.2v7.1h-7.2zM161.4,611.1h7.2v7.1h-7.2zM116.8,617.4h7.2v7.1h-7.2zM142.3,617.4h7.2v7.1h-7.2zM167.8,617.4h7.2v7.1h-7.2zM91.3,623.7h7.2v7.1h-7.2zM97.7,623.7h7.2v7.1h-7.2zM148.7,623.7h7.2v7.1h-7.2zM167.8,623.7h7.2v7.1h-7.2zM66.2,630.1h13.2v7.1h-13.2zM84.9,630.1h7.2v7.1h-7.2zM104.1,630.1h7.2v7.1h-7.2zM116.8,630.1h7.2v7.1h-7.2zM155,630.1h7.2v7.1h-7.2zM167.8,630.1h7.2v7.1h-7.2zM174.2,630.1h7.2v7.1h-7.2zM84.9,636.4h7.2v7.1h-7.2zM116.8,636.4h7.2v7.1h-7.2zM148.7,636.4h7.2v7.1h-7.2zM167.8,636.4h7.2v7.1h-7.2zM91.3,649.1h7.2v7.1h-7.2zM116.8,655.4h7.2v7.1h-7.2zM142.3,655.4h7.2v7.1h-7.2zM167.8,655.4h7.2v7.1h-7.2zM84.9,661.8h7.2v7.1h-7.2zM116.8,661.8h7.2v7.1h-7.2zM155,661.8h7.2v7.1h-7.2zM167.8,661.8h7.2v7.1h-7.2zM84.9,668.1h7.2v7.1h-7.2zM91.3,668.1h7.2v7.1h-7.2zM110.4,668.1h7.2v7.1h-7.2zM161.4,668.1h7.2v7.1h-7.2zM148.7,680.8h7.2v7.1h-7.2zM161.4,680.8h7.2v7.1h-7.2zM66.2,687.1h13.2v7.1h-13.2zM84.9,687.1h7.2v7.1h-7.2zM135.9,687.1h7.2v7.1h-7.2zM148.7,687.1h7.2v7.1h-7.2zM155,687.1h7.2v7.1h-7.2zM161.4,687.1h7.2v7.1h-7.2zM110.4,693.5h7.2v7.1h-7.2zM116.8,693.5h7.2v7.1h-7.2zM155,693.5h7.2v7.1h-7.2zM161.4,693.5h7.2v7.1h-7.2zM84.9,706.1h7.2v7.1h-7.2zM110.4,706.1h7.2v7.1h-7.2zM135.9,706.1h7.2v7.1h-7.2zM129.5,712.5h7.2v7.1h-7.2zM135.9,712.5h7.2v7.1h-7.2zM148.7,712.5h7.2v7.1h-7.2zM155,712.5h7.2v7.1h-7.2zM110.4,718.8h7.2v7.1h-7.2zM135.9,718.8h7.2v7.1h-7.2zM142.3,718.8h7.2v7.1h-7.2zM148.7,718.8h7.2v7.1h-7.2zM155,718.8h7.2v7.1h-7.2zM84.9,725.2h7.2v13.1h-7.2zM135.9,725.2h7.2v13.1h-7.2zM142.3,725.2h7.2v13.1h-7.2zM161.4,725.2h7.2v13.1h-7.2z"/>
<path fill="#aadc32" d="M78.6,383.2h7.2v13.1h-7.2zM84.9,383.2h7.2v13.1h-7.2zM174.2,383.2h7.2v13.1h-7.2zM84.9,395.5h7.2v7.1h-7.2zM91.3,395.5h7.2v7.1h-7.2zM110.4,395.5h7.2v7.1h-7.2zM84.9,401.9h7.2v7.1h-7.2zM148.7,401.9h7.2v7.1h-7.2zM155,401.9h7.2v7.1h-7.2zM84.9,408.2h7.2v7.1h-7.2zM161.4,408.2h7.2v7.1h-7.2zM167.8,408.2h7.2v7.1h-7.2zM148.7,414.6h7.2v7.1h-7.2zM161.4,414.6h7.2v7.1h-7.2zM66.2,420.9h13.2v7.1h-13.2zM84.9,420.9h7.2v7.1h-7.2zM91.3,420.9h7.2v7.1h-7.2zM91.3,427.2h7.2v7.1h-7.2zM84.9,433.6h7.2v7.1h-7.2zM66.2,439.9h13.2v7.1h-13.2zM91.3,439.9h7.2v7.1h-7.2zM104.1,439.9h7.2v7.1h-7.2zM116.8,439.9h7.2v7.1h-7.2zM167.8,439.9h7.2v7.1h-7.2zM66.2,446.2h13.2v7.1h-13.2zM78.6,446.2h7.2v7.1h-7.2zM84.9,446.2h7.2v7.1h-7.2zM161.4,446.2h7.2v7.1h-7.2zM167.8,446.2h7.2v7.1h-7.2zM110.4,452.6h7.2v7.1h-7.2zM78.6,458.9h7.2v7.1h-7.2zM84.9,458.9h7.2v7.1h-7.2zM97.7,458.9h7.2v7.1h-7.2zM167.8,458.9h7.2v7.1h-7.2zM174.2,458.9h7.2v7.1h-7.2zM180.5,458.9h7.2v7.1h-7.2zM66.2,465.3h13.2v7.1h-13.2zM104.1,465.3h7.2v7.1h-7.2zM155,465.3h7.2v7.1h-7.2zM167.8,465.3h7.2v7.1h-7.2zM66.2,471.6h13.2v7.1h-13.2zM91.3,471.6h7.2v7.1h-7.2zM123.2,471.6h7.2v7.1h-7.2zM148.7,471.6h7.2v7.1h-7.2zM66.2,477.9h13.2v7.1h-13.2zM148.7,477.9h7.2v7.1h-7.2zM161.4,477.9h7.2v7.1h-7.2zM167.8,477.9h7.2v7.1h-7.2zM84.9,484.3h7.2v7.1h-7.2zM97.7,484.3h7.2v7.1h-7.2zM167.8,484.3h7.2v7.1h-7.2zM78.6,490.6h7.2v7.1h-7.2zM91.3,490.6h7.2v7.1h-7.2zM116.8,490.6h7.2v7.1h-7.2zM174.2,490.6h7.2v7.1h-7.2zM180.5,490.6h7.2v7.1h-7.2zM66.2,497h13.2v7.1h-13.2zM167.8,497h7.2v7.1h-7.2zM66.2,503.3h13.2v7.1h-13.2zM78.6,503.3h7.2v7.1h-7.2zM155,503.3h7.2v7.1h-7.2zM78.6,509.6h7.2v7.1h-7.2zM155,509.6h7.2v7.1h-7.2zM161.4,509.6h7.2v7.1h-7.2zM174.2,509.6h7.2v7.1h-7.2zM78.6,516h7.2v7.1h-7.2zM91.3,516h7.2v7.1h-7.2zM116.8,516h7.2v7.1h-7.2zM167.8,516h7.2v7.1h-7.2zM104.1,522.3h7.2v7.1h-7.2zM148.7,522.3h7.2v7.1h-7.2zM167.8,522.3h7.2v7.1h-7.2zM84.9,528.7h7.2v7.1h-7.2zM174.2,528.7h7.2v7.1h-7.2zM180.5,528.7h7.2v7.1h-7.2zM84.9,535h7.2v7.1h-7.2zM91.3,535h7.2v7.1h-7.2zM110.4,535h7.2v7.1h-7.2zM237.9,535h7.2v7.1h-7.2zM91.3,541.3h7.2v7.1h-7.2zM161.4,541.3h7.2v7.1h-7.2zM78.6,547.7h7.2v7.1h-7.2zM84.9,547.7h7.2v7.1h-7.2zM91.3,547.7h7.2v7.1h-7.2zM104.1,547.7h7.2v7.1h-7.2zM155,547.7h7.2v7.1h-7.2zM167.8,547.7h7.2v7.1h-7.2zM174.2,547.7h7.2v7.1h-7.2zM66.2,554h13.2v7.1h-13.2zM91.3,554h7.2v7.1h-7.2zM155,554h7.2v7.1h-7.2zM66.2,560.4h13.2v7.1h-13.2zM84.9,560.4h7.2v7.1h-7.2zM91.3,560.4h7.2v7.1h-7.2zM116.8,560.4h7.2v7.1h-7.2zM180.5,560.4h7.2v7.1h-7.2zM135.9,566.7h7.2v7.1h-7.2zM148.7,566.7h7.2v7.1h-7.2zM78.6,579.4h7.2v7.1h-7.2zM91.3,579.4h7.2v7.1h-7.2zM104.1,579.4h7.2v7.1h-7.2zM174.2,579.4h7.2v7.1h-7.2zM66.2,585.7h13.2v7.1h-13.2zM91.3,585.7h7.2v7.1h-7.2zM116.8,585.7h7.2v7.1h-7.2zM84.9,592h7.2v7.1h-7.2zM155,592h7.2v7.1h-7.2zM66.2,598.4h13.2v7.1h-13.2zM84.9,598.4h7.2v7.1h-7.2zM174.2,598.4h7.2v7.1h-7.2zM66.2,604.7h13.2v7.1h-13.2zM84.9,604.7h7.2v7.1h-7.2zM84.9,611.1h7.2v7.1h-7.2zM104.1,611.1h7.2v7.1h-7.2zM167.8,611.1h7.2v7.1h-7.2zM91.3,617.4h7.2v7.1h-7.2zM66.2,623.7h13.2v7.1h-13.2zM104.1,623.7h7.2v7.1h-7.2zM110.4,623.7h7.2v7.1h-7.2zM155,623.7h7.2v7.1h-7.2zM66.2,636.4h13.2v7.1h-13.2zM78.6,636.4h7.2v7.1h-7.2zM91.3,636.4h7.2v7.1h-7.2zM110.4,636.4h7.2v7.1h-7.2zM142.3,636.4h7.2v7.1h-7.2zM66.2,642.8h13.2v7.1h-13.2zM155,649.1h7.2v7.1h-7.2zM167.8,649.1h7.2v7.1h-7.2zM84.9,655.4h7.2v7.1h-7.2zM129.5,655.4h7.2v7.1h-7.2zM66.2,661.8h13.2v7.1h-13.2zM148.7,661.8h7.2v7.1h-7.2zM161.4,661.8h7.2v7.1h-7.2zM78.6,668.1h7.2v7.1h-7.2zM97.7,668.1h7.2v7.1h-7.2zM142.3,668.1h7.2v7.1h-7.2zM155,668.1h7.2v7.1h-7.2zM161.4,674.5h7.2v7.1h-7.2zM78.6,680.8h7.2v7.1h-7.2zM84.9,680.8h7.2v7.1h-7.2zM104.1,680.8h7.2v7.1h-7.2zM155,680.8h7.2v7.1h-7.2zM167.8,687.1h7.2v7.1h-7.2zM142.3,693.5h7.2v7.1h-7.2zM78.6,699.8h7.2v7.1h-7.2zM84.9,699.8h7.2v7.1h-7.2zM66.2,706.1h13.2v7.1h-13.2zM78.6,706.1h7.2v7.1h-7.2zM148.7,706.1h7.2v7.1h-7.2zM78.6,718.8h7.2v7.1h-7.2zM97.7,718.8h7.2v7.1h-7.2zM110.4,725.2h7.2v13.1h-7.2zM148.7,725.2h7.2v13.1h-7.2zM155,725.2h7.2v13.1h-7.2z"/>
<path fill="#bade28" d="M91.3,383.2h7.2v13.1h-7.2zM97.7,383.2h7.2v13.1h-7.2zM78.6,395.5h7.2v7.1h-7.2zM104.1,395.5h7.2v7.1h-7.2zM116.8,395.5h7.2v7.1h-7.2zM155,395.5h7.2v7.1h-7.2zM78.6,401.9h7.2v7.1h-7.2zM104.1,401.9h7.2v7.1h-7.2zM116.8,401.9h7.2v7.1h-7.2zM66.2,408.2h13.2v7.1h-13.2zM91.3,408.2h7.2v7.1h-7.2zM148.7,408.2h7.2v7.1h-7.2zM97.7,414.6h7.2v7.1h-7.2zM78.6,420.9h7.2v7.1h-7.2zM110.4,420.9h7.2v7.1h-7.2zM161.4,420.9h7.2v7.1h-7.2zM66.2,427.2h13.2v7.1h-13.2zM78.6,427.2h7.2v7.1h-7.2zM110.4,427.2h7.2v7.1h-7.2zM148.7,427.2h7.2v7.1h-7.2zM116.8,433.6h7.2v7.1h-7.2zM97.7,446.2h7.2v7.1h-7.2zM84.9,452.6h7.2v7.1h-7.2zM97.7,452.6h7.2v7.1h-7.2zM161.4,452.6h7.2v7.1h-7.2zM116.8,471.6h7.2v7.1h-7.2zM110.4,477.9h7.2v7.1h-7.2zM78.6,484.3h7.2v7.1h-7.2zM110.4,484.3h7.2v7.1h-7.2zM116.8,484.3h7.2v7.1h-7.2zM174.2,484.3h7.2v7.1h-7.2zM66.2,490.6h13.2v7.1h-13.2zM110.4,490.6h7.2v7.1h-7.2zM78.6,497h7.2v7.1h-7.2zM116.8,503.3h7.2v7.1h-7.2zM91.3,509.6h7.2v7.1h-7.2zM104.1,509.6h7.2v7.1h-7.2zM110.4,516h7.2v7.1h-7.2zM174.2,516h7.2v7.1h-7.2zM91.3,522.3h7.2v7.1h-7.2zM116.8,522.3h7.2v7.1h-7.2zM174.2,522.3h7.2v7.1h-7.2zM116.8,528.7h7.2v7.1h-7.2zM66.2,535h13.2v7.1h-13.2zM78.6,535h7.2v7.1h-7.2zM78.6,541.3h7.2v7.1h-7.2zM116.8,541.3h7.2v7.1h-7.2zM155,541.3h7.2v7.1h-7.2zM116.8,547.7h7.2v7.1h-7.2zM84.9,554h7.2v7.1h-7.2zM97.7,554h7.2v7.1h-7.2zM104.1,554h7.2v7.1h-7.2zM116.8,554h7.2v7.1h-7.2zM180.5,554h7.2v7.1h-7.2zM110.4,560.4h7.2v7.1h-7.2zM167.8,560.4h7.2v7.1h-7.2zM66.2,566.7h13.2v7.1h-13.2zM78.6,566.7h7.2v7.1h-7.2zM91.3,566.7h7.2v7.1h-7.2zM97.7,566.7h7.2v7.1h-7.2zM66.2,573h13.2v7.1h-13.2zM78.6,573h7.2v7.1h-7.2zM104.1,573h7.2v7.1h-7.2zM66.2,579.4h13.2v7.1h-13.2zM110.4,579.4h7.2v7.1h-7.2zM78.6,585.7h7.2v7.1h-7.2zM174.2,585.7h7.2v7.1h-7.2zM66.2,592h13.2v7.1h-13.2zM78.6,592h7.2v7.1h-7.2zM91.3,592h7.2v7.1h-7.2zM97.7,592h7.2v7.1h-7.2zM97.7,598.4h7.2v7.1h-7.2zM78.6,604.7h7.2v7.1h-7.2zM110.4,604.7h7.2v7.1h-7.2zM116.8,604.7h7.2v7.1h-7.2zM97.7,611.1h7.2v7.1h-7.2zM110.4,611.1h7.2v7.1h-7.2zM97.7,617.4h7.2v7.1h-7.2zM104.1,617.4h7.2v7.1h-7.2zM148.7,617.4h7.2v7.1h-7.2zM84.9,623.7h7.2v7.1h-7.2zM161.4,623.7h7.2v7.1h-7.2zM78.6,630.1h7.2v7.1h-7.2zM91.3,630.1h7.2v7.1h-7.2zM97.7,630.1h7.2v7.1h-7.2zM110.4,630.1h7.2v7.1h-7.2zM155,636.4h7.2v7.1h-7.2zM161.4,636.4h7.2v7.1h-7.2zM97.7,642.8h7.2v7.1h-7.2zM116.8,642.8h7.2v7.1h-7.2zM78.6,649.1h7.2v7.1h-7.2zM84.9,649.1h7.2v7.1h-7.2zM78.6,655.4h7.2v7.1h-7.2zM110.4,661.8h7.2v7.1h-7.2zM148.7,668.1h7.2v7.1h-7.2zM167.8,668.1h7.2v7.1h-7.2zM78.6,674.5h7.2v7.1h-7.2zM84.9,674.5h7.2v7.1h-7.2zM66.2,680.8h13.2v7.1h-13.2zM97.7,680.8h7.2v7.1h-7.2zM110.4,687.1h7.2v7.1h-7.2zM66.2,693.5h13.2v7.1h-13.2zM148.7,693.5h7.2v7.1h-7.2zM110.4,699.8h7.2v7.1h-7.2zM148.7,699.8h7.2v7.1h-7.2zM97.7,706.1h7.2v7.1h-7.2zM161.4,706.1h7.2v7.1h-7.2zM84.9,712.5h7.2v7.1h-7.2zM110.4,712.5h7.2v7.1h-7.2zM66.2,718.8h13.2v7.1h-13.2zM78.6,725.2h7.2v13.1h-7.2zM104.1,725.2h7.2v13.1h-7.2z"/>
<path fill="#cde11d" d="M104.1,383.2h7.2v13.1h-7.2zM110.4,383.2h7.2v13.1h-7.2zM97.7,395.5h7.2v7.1h-7.2zM97.7,401.9h7.2v7.1h-7.2zM116.8,408.2h7.2v7.1h-7.2zM78.6,414.6h7.2v7.1h-7.2zM110.4,414.6h7.2v7.1h-7.2zM116.8,414.6h7.2v7.1h-7.2zM97.7,420.9h7.2v7.1h-7.2zM104.1,427.2h7.2v7.1h-7.2zM97.7,433.6h7.2v7.1h-7.2zM104.1,433.6h7.2v7.1h-7.2zM78.6,439.9h7.2v7.1h-7.2zM97.7,439.9h7.2v7.1h-7.2zM104.1,452.6h7.2v7.1h-7.2zM116.8,452.6h7.2v7.1h-7.2zM66.2,458.9h13.2v7.1h-13.2zM110.4,458.9h7.2v7.1h-7.2zM161.4,458.9h7.2v7.1h-7.2zM97.7,465.3h7.2v7.1h-7.2zM104.1,471.6h7.2v7.1h-7.2zM78.6,477.9h7.2v7.1h-7.2zM84.9,477.9h7.2v7.1h-7.2zM104.1,477.9h7.2v7.1h-7.2zM155,477.9h7.2v7.1h-7.2zM97.7,490.6h7.2v7.1h-7.2zM104.1,490.6h7.2v7.1h-7.2zM84.9,497h7.2v7.1h-7.2zM97.7,497h7.2v7.1h-7.2zM104.1,497h7.2v7.1h-7.2zM116.8,497h7.2v7.1h-7.2zM110.4,503.3h7.2v7.1h-7.2zM97.7,509.6h7.2v7.1h-7.2zM116.8,509.6h7.2v7.1h-7.2zM66.2,516h13.2v7.1h-13.2zM84.9,516h7.2v7.1h-7.2zM78.6,522.3h7.2v7.1h-7.2zM110.4,522.3h7.2v7.1h-7.2zM104.1,528.7h7.2v7.1h-7.2zM110.4,528.7h7.2v7.1h-7.2zM97.7,541.3h7.2v7.1h-7.2zM104.1,541.3h7.2v7.1h-7.2zM110.4,541.3h7.2v7.1h-7.2zM66.2,547.7h13.2v7.1h-13.2zM110.4,554h7.2v7.1h-7.2zM116.8,566.7h7.2v7.1h-7.2zM97.7,573h7.2v7.1h-7.2zM116.8,573h7.2v7.1h-7.2zM161.4,573h7.2v7.1h-7.2zM110.4,585.7h7.2v7.1h-7.2zM155,585.7h7.2v7.1h-7.2zM104.1,592h7.2v7.1h-7.2zM116.8,592h7.2v7.1h-7.2zM104.1,598.4h7.2v7.1h-7.2zM104.1,604.7h7.2v7.1h-7.2zM66.2,611.1h13.2v7.1h-13.2zM66.2,617.4h13.2v7.1h-13.2zM110.4,617.4h7.2v7.1h-7.2zM78.6,623.7h7.2v7.1h-7.2zM161.4,630.1h7.2v7.1h-7.2zM97.7,636.4h7.2v7.1h-7.2zM104.1,636.4h7.2v7.1h-7.2zM78.6,642.8h7.2v7.1h-7.2zM91.3,642.8h7.2v7.1h-7.2zM97.7,649.1h7.2v7.1h-7.2zM104.1,649.1h7.2v7.1h-7.2zM110.4,649.1h7.2v7.1h-7.2zM161.4,649.1h7.2v7.1h-7.2zM66.2,655.4h13.2v7.1h-13.2zM91.3,655.4h7.2v7.1h-7.2zM104.1,661.8h7.2v7.1h-7.2zM104.1,668.1h7.2v7.1h-7.2zM66.2,674.5h13.2v7.1h-13.2zM91.3,674.5h7.2v7.1h-7.2zM97.7,674.5h7.2v7.1h-7.2zM104.1,674.5h7.2v7.1h-7.2zM110.4,674.5h7.2v7.1h-7.2zM97.7,693.5h7.2v7.1h-7.2zM104.1,693.5h7.2v7.1h-7.2zM66.2,699.8h13.2v7.1h-13.2zM91.3,699.8h7.2v7.1h-7.2zM97.7,699.8h7.2v7.1h-7.2zM155,699.8h7.2v7.1h-7.2zM91.3,706.1h7.2v7.1h-7.2zM66.2,712.5h13.2v7.1h-13.2zM78.6,712.5h7.2v7.1h-7.2zM97.7,712.5h7.2v7.1h-7.2zM104.1,712.5h7.2v7.1h-7.2zM91.3,718.8h7.2v7.1h-7.2zM91.3,725.2h7.2v13.1h-7.2z"/>
<path fill="#dde318" d="M66.2,383.2h13.2v13.1h-13.2zM66.2,395.5h13.2v7.1h-13.2zM97.7,408.2h7.2v7.1h-7.2zM104.1,414.6h7.2v7.1h-7.2zM104.1,420.9h7.2v7.1h-7.2zM97.7,427.2h7.2v7.1h-7.2zM116.8,427.2h7.2v7.1h-7.2zM174.2,427.2h7.2v7.1h-7.2zM110.4,439.9h7.2v7.1h-7.2zM104.1,446.2h7.2v7.1h-7.2zM66.2,452.6h13.2v7.1h-13.2zM104.1,458.9h7.2v7.1h-7.2zM110.4,465.3h7.2v7.1h-7.2zM116.8,465.3h7.2v7.1h-7.2zM78.6,471.6h7.2v7.1h-7.2zM110.4,471.6h7.2v7.1h-7.2zM97.7,477.9h7.2v7.1h-7.2zM116.8,477.9h7.2v7.1h-7.2zM66.2,484.3h13.2v7.1h-13.2zM97.7,503.3h7.2v7.1h-7.2zM104.1,503.3h7.2v7.1h-7.2zM66.2,509.6h13.2v7.1h-13.2zM97.7,516h7.2v7.1h-7.2zM97.7,522.3h7.2v7.1h-7.2zM66.2,528.7h13.2v7.1h-13.2zM97.7,528.7h7.2v7.1h-7.2zM97.7,547.7h7.2v7.1h-7.2zM110.4,547.7h7.2v7.1h-7.2zM97.7,560.4h7.2v7.1h-7.2zM104.1,560.4h7.2v7.1h-7.2zM110.4,573h7.2v7.1h-7.2zM97.7,579.4h7.2v7.1h-7.2zM97.7,585.7h7.2v7.1h-7.2zM78.6,598.4h7.2v7.1h-7.2zM78.6,617.4h7.2v7.1h-7.2zM104.1,642.8h7.2v7.1h-7.2zM110.4,642.8h7.2v7.1h-7.2zM97.7,655.4h7.2v7.1h-7.2zM104.1,655.4h7.2v7.1h-7.2zM110.4,655.4h7.2v7.1h-7.2zM78.6,661.8h7.2v7.1h-7.2zM110.4,680.8h7.2v7.1h-7.2zM91.3,687.1h7.2v7.1h-7.2zM97.7,687.1h7.2v7.1h-7.2zM104.1,687.1h7.2v7.1h-7.2zM91.3,693.5h7.2v7.1h-7.2zM104.1,699.8h7.2v7.1h-7.2zM104.1,706.1h7.2v7.1h-7.2zM91.3,712.5h7.2v7.1h-7.2z"/>
<path fill="#efe51c" d="M110.4,401.9h7.2v7.1h-7.2zM104.1,408.2h7.2v7.1h-7.2zM66.2,433.6h13.2v7.1h-13.2zM78.6,433.6h7.2v7.1h-7.2zM110.4,446.2h7.2v7.1h-7.2zM97.7,471.6h7.2v7.1h-7.2zM104.1,484.3h7.2v7.1h-7.2zM110.4,509.6h7.2v7.1h-7.2zM104.1,516h7.2v7.1h-7.2zM97.7,535h7.2v7.1h-7.2zM104.1,566.7h7.2v7.1h-7.2zM110.4,566.7h7.2v7.1h-7.2zM66.2,649.1h13.2v7.1h-13.2zM97.7,661.8h7.2v7.1h-7.2zM91.3,680.8h7.2v7.1h-7.2zM104.1,718.8h7.2v7.1h-7.2z"/>
<path fill="#fde725" d="M110.4,592h7.2v7.1h-7.2zM97.7,725.2h7.2v13.1h-7.2z"/>
</g></g>
<g stroke="#4a4a4a" stroke-width="1.2" fill="none" stroke-opacity="0.85">
<path d="M67.2,389.2 H390.8 M72.2,389.2 V731.5 M67.2,731.8 H390.8"/>
<path d="M72.2,731.5 v5.5 M232.5,731.5 v5.5 M390.8,731.5 v5.5 M72.2,560.4 h-5"/>
</g>
<linearGradient id="gv" x1="0" y1="0" x2="0" y2="1"><stop offset="0%" stop-color="#fde725"/><stop offset="6.2%" stop-color="#d8e219"/><stop offset="12.5%" stop-color="#addc30"/><stop offset="18.8%" stop-color="#84d44b"/><stop offset="25%" stop-color="#5ec962"/><stop offset="31.2%" stop-color="#3fbc73"/><stop offset="37.5%" stop-color="#28ae80"/><stop offset="43.8%" stop-color="#1fa088"/><stop offset="50%" stop-color="#21918c"/><stop offset="56.2%" stop-color="#26828e"/><stop offset="62.5%" stop-color="#2c728e"/><stop offset="68.8%" stop-color="#33638d"/><stop offset="75%" stop-color="#3b528b"/><stop offset="81.2%" stop-color="#424086"/><stop offset="87.5%" stop-color="#472d7b"/><stop offset="93.8%" stop-color="#48186a"/><stop offset="100%" stop-color="#440154"/></linearGradient>
<rect x="403.8" y="390.4" width="15.699999999999989" height="339.20000000000005" fill="url(#gv)" stroke="#444" stroke-width="1.2"/>
<path d="M419.5,390.4 h5.5 M419.5,729.6 h5.5" stroke="#5a5a5a" stroke-width="1.4"/>
<defs>
<linearGradient id="d0" x1="0" y1="0" x2="0" y2="1"><stop offset="0%" stop-color="#fffdfd"/><stop offset="4.2%" stop-color="#fffdfd"/><stop offset="8.3%" stop-color="#fffdfd"/><stop offset="12.5%" stop-color="#fffdfd"/><stop offset="16.7%" stop-color="#fffdfd"/><stop offset="20.8%" stop-color="#fffdfd"/><stop offset="25%" stop-color="#fffdfd"/><stop offset="29.2%" stop-color="#fffdfd"/><stop offset="33.3%" stop-color="#fffdfd"/><stop offset="37.5%" stop-color="#fffdfd"/><stop offset="41.7%" stop-color="#fffdfd"/><stop offset="45.8%" stop-color="#fffdfd"/><stop offset="50%" stop-color="#fffdfd"/><stop offset="54.2%" stop-color="#fffdfd"/><stop offset="58.3%" stop-color="#fffdfd"/><stop offset="62.5%" stop-color="#fffdfd"/><stop offset="66.7%" stop-color="#fffdfd"/><stop offset="70.8%" stop-color="#fffdfd"/><stop offset="75%" stop-color="#fffdfd"/><stop offset="79.2%" stop-color="#fffdfd"/><stop offset="83.3%" stop-color="#fffdfd"/><stop offset="87.5%" stop-color="#fffdfd"/><stop offset="91.7%" stop-color="#fffdfd"/><stop offset="95.8%" stop-color="#fffdfd"/><stop offset="100%" stop-color="#fffdfd"/></linearGradient>
<linearGradient id="d1" x1="0" y1="0" x2="0" y2="1"><stop offset="0%" stop-color="#fffdfd"/><stop offset="4.2%" stop-color="#fffdfd"/><stop offset="8.3%" stop-color="#fffdfd"/><stop offset="12.5%" stop-color="#fffdfd"/><stop offset="16.7%" stop-color="#fffdfd"/><stop offset="20.8%" stop-color="#fffdfd"/><stop offset="25%" stop-color="#fffdfd"/><stop offset="29.2%" stop-color="#fffdfd"/><stop offset="33.3%" stop-color="#fffdfd"/><stop offset="37.5%" stop-color="#fffdfd"/><stop offset="41.7%" stop-color="#fffdfd"/><stop offset="45.8%" stop-color="#fffdfd"/><stop offset="50%" stop-color="#fffdfd"/><stop offset="54.2%" stop-color="#fffdfd"/><stop offset="58.3%" stop-color="#fffdfd"/><stop offset="62.5%" stop-color="#fffdfd"/><stop offset="66.7%" stop-color="#fffdfd"/><stop offset="70.8%" stop-color="#fffdfd"/><stop offset="75%" stop-color="#fffdfd"/><stop offset="79.2%" stop-color="#fffdfd"/><stop offset="83.3%" stop-color="#fffdfd"/><stop offset="87.5%" stop-color="#fffdfd"/><stop offset="91.7%" stop-color="#fffdfd"/><stop offset="95.8%" stop-color="#fffdfd"/><stop offset="100%" stop-color="#fffdfd"/></linearGradient>
<linearGradient id="d2" x1="0" y1="0" x2="0" y2="1"><stop offset="0%" stop-color="#fffdfd"/><stop offset="4.2%" stop-color="#fffdfd"/><stop offset="8.3%" stop-color="#fffdfd"/><stop offset="12.5%" stop-color="#fffdfd"/><stop offset="16.7%" stop-color="#fffdfd"/><stop offset="20.8%" stop-color="#fffdfd"/><stop offset="25%" stop-color="#fffdfd"/><stop offset="29.2%" stop-color="#fffdfd"/><stop offset="33.3%" stop-color="#fffdfd"/><stop offset="37.5%" stop-color="#fffdfd"/><stop offset="41.7%" stop-color="#fffdfd"/><stop offset="45.8%" stop-color="#fffdfd"/><stop offset="50%" stop-color="#fffdfd"/><stop offset="54.2%" stop-color="#fffdfd"/><stop offset="58.3%" stop-color="#fffdfd"/><stop offset="62.5%" stop-color="#fffdfd"/><stop offset="66.7%" stop-color="#fffdfd"/><stop offset="70.8%" stop-color="#fffdfd"/><stop offset="75%" stop-color="#fffdfd"/><stop offset="79.2%" stop-color="#fffdfd"/><stop offset="83.3%" stop-color="#fffdfd"/><stop offset="87.5%" stop-color="#fffdfd"/><stop offset="91.7%" stop-color="#fffdfd"/><stop offset="95.8%" stop-color="#fffdfd"/><stop offset="100%" stop-color="#fffdfd"/></linearGradient>
<linearGradient id="d3" x1="0" y1="0" x2="0" y2="1"><stop offset="0%" stop-color="#fffdfd"/><stop offset="4.2%" stop-color="#fffdfd"/><stop offset="8.3%" stop-color="#fffdfd"/><stop offset="12.5%" stop-color="#fffdfd"/><stop offset="16.7%" stop-color="#fffdfd"/><stop offset="20.8%" stop-color="#fffdfd"/><stop offset="25%" stop-color="#fffdfd"/><stop offset="29.2%" stop-color="#fffdfd"/><stop offset="33.3%" stop-color="#fffdfd"/><stop offset="37.5%" stop-color="#fffdfd"/><stop offset="41.7%" stop-color="#fffdfd"/><stop offset="45.8%" stop-color="#fffdfd"/><stop offset="50%" stop-color="#fffdfd"/><stop offset="54.2%" stop-color="#fffdfd"/><stop offset="58.3%" stop-color="#fffdfd"/><stop offset="62.5%" stop-color="#fffdfd"/><stop offset="66.7%" stop-color="#fffdfd"/><stop offset="70.8%" stop-color="#fffdfd"/><stop offset="75%" stop-color="#fffdfd"/><stop offset="79.2%" stop-color="#fffdfd"/><stop offset="83.3%" stop-color="#fffdfd"/><stop offset="87.5%" stop-color="#fffdfd"/><stop offset="91.7%" stop-color="#fffdfd"/><stop offset="95.8%" stop-color="#fffdfd"/><stop offset="100%" stop-color="#fffdfd"/></linearGradient>
<linearGradient id="d4" x1="0" y1="0" x2="0" y2="1"><stop offset="0%" stop-color="#fffdfd"/><stop offset="4.2%" stop-color="#fffdfd"/><stop offset="8.3%" stop-color="#fffdfd"/><stop offset="12.5%" stop-color="#fffdfd"/><stop offset="16.7%" stop-color="#fffdfd"/><stop offset="20.8%" stop-color="#fffdfd"/><stop offset="25%" stop-color="#fffdfd"/><stop offset="29.2%" stop-color="#fffdfd"/><stop offset="33.3%" stop-color="#fffdfd"/><stop offset="37.5%" stop-color="#fffdfd"/><stop offset="41.7%" stop-color="#fffdfd"/><stop offset="45.8%" stop-color="#fffdfd"/><stop offset="50%" stop-color="#fffdfd"/><stop offset="54.2%" stop-color="#fffdfd"/><stop offset="58.3%" stop-color="#fffdfd"/><stop offset="62.5%" stop-color="#fffdfd"/><stop offset="66.7%" stop-color="#fffdfd"/><stop offset="70.8%" stop-color="#fffdfd"/><stop offset="75%" stop-color="#fffdfd"/><stop offset="79.2%" stop-color="#fffdfd"/><stop offset="83.3%" stop-color="#fffdfd"/><stop offset="87.5%" stop-color="#fffdfd"/><stop offset="91.7%" stop-color="#fffdfd"/><stop offset="95.8%" stop-color="#fffdfd"/><stop offset="100%" stop-color="#fffdfd"/></linearGradient>
<linearGradient id="d5" x1="0" y1="0" x2="0" y2="1"><stop offset="0%" stop-color="#fffdfd"/><stop offset="4.2%" stop-color="#fffdfd"/><stop offset="8.3%" stop-color="#fffdfd"/><stop offset="12.5%" stop-color="#fffdfd"/><stop offset="16.7%" stop-color="#fffdfd"/><stop offset="20.8%" stop-color="#fffdfd"/><stop offset="25%" stop-color="#fffdfd"/><stop offset="29.2%" stop-color="#fffdfd"/><stop offset="33.3%" stop-color="#fffdfd"/><stop offset="37.5%" stop-color="#fffdfd"/><stop offset="41.7%" stop-color="#fffdfd"/><stop offset="45.8%" stop-color="#fffdfd"/><stop offset="50%" stop-color="#fffdfd"/><stop offset="54.2%" stop-color="#fffdfd"/><stop offset="58.3%" stop-color="#fffdfd"/><stop offset="62.5%" stop-color="#fffdfd"/><stop offset="66.7%" stop-color="#fffdfd"/><stop offset="70.8%" stop-color="#fffdfd"/><stop offset="75%" stop-color="#fffdfd"/><stop offset="79.2%" stop-color="#fffdfd"/><stop offset="83.3%" stop-color="#fffdfd"/><stop offset="87.5%" stop-color="#fffdfd"/><stop offset="91.7%" stop-color="#fffdfd"/><stop offset="95.8%" stop-color="#fffdfd"/><stop offset="100%" stop-color="#fffdfd"/></linearGradient>
<linearGradient id="d6" x1="0" y1="0" x2="0" y2="1"><stop offset="0%" stop-color="#fffdfd"/><stop offset="4.2%" stop-color="#fffdfd"/><stop offset="8.3%" stop-color="#fffdfd"/><stop offset="12.5%" stop-color="#fffdfd"/><stop offset="16.7%" stop-color="#fffdfd"/><stop offset="20.8%" stop-color="#fffdfd"/><stop offset="25%" stop-color="#fffdfd"/><stop offset="29.2%" stop-color="#fffdfd"/><stop offset="33.3%" stop-color="#fffdfd"/><stop offset="37.5%" stop-color="#fffdfd"/><stop offset="41.7%" stop-color="#fffdfd"/><stop offset="45.8%" stop-color="#fffdfd"/><stop offset="50%" stop-color="#fffdfd"/><stop offset="54.2%" stop-color="#fffdfd"/><stop offset="58.3%" stop-color="#fffdfd"/><stop offset="62.5%" stop-color="#fffdfd"/><stop offset="66.7%" stop-color="#fffdfd"/><stop offset="70.8%" stop-color="#fffdfd"/><stop offset="75%" stop-color="#fffdfd"/><stop offset="79.2%" stop-color="#fffdfd"/><stop offset="83.3%" stop-color="#fffdfd"/><stop offset="87.5%" stop-color="#fffdfd"/><stop offset="91.7%" stop-color="#fffdfd"/><stop offset="95.8%" stop-color="#fffdfd"/><stop offset="100%" stop-color="#fffdfd"/></linearGradient>
<linearGradient id="d7" x1="0" y1="0" x2="0" y2="1"><stop offset="0%" stop-color="#fffdfd"/><stop offset="4.2%" stop-color="#fffdfd"/><stop offset="8.3%" stop-color="#fffdfd"/><stop offset="12.5%" stop-color="#fffdfd"/><stop offset="16.7%" stop-color="#fffdfd"/><stop offset="20.8%" stop-color="#fffdfd"/><stop offset="25%" stop-color="#fffdfd"/><stop offset="29.2%" stop-color="#fffdfd"/><stop offset="33.3%" stop-color="#fffdfd"/><stop offset="37.5%" stop-color="#fffdfd"/><stop offset="41.7%" stop-color="#fffdfd"/><stop offset="45.8%" stop-color="#fffdfd"/><stop offset="50%" stop-color="#fffdfd"/><stop offset="54.2%" stop-color="#fffdfd"/><stop offset="58.3%" stop-color="#fffdfd"/><stop offset="62.5%" stop-color="#fffdfd"/><stop offset="66.7%" stop-color="#fffdfd"/><stop offset="70.8%" stop-color="#fffdfd"/><stop offset="75%" stop-color="#fffdfd"/><stop offset="79.2%" stop-color="#fffdfd"/><stop offset="83.3%" stop-color="#fffdfd"/><stop offset="87.5%" stop-color="#fffdfd"/><stop offset="91.7%" stop-color="#fffdfd"/><stop offset="95.8%" stop-color="#fffdfd"/><stop offset="100%" stop-color="#fffdfd"/></linearGradient>
<linearGradient id="d8" x1="0" y1="0" x2="0" y2="1"><stop offset="0%" stop-color="#fffdfd"/><stop offset="4.2%" stop-color="#fffdfd"/><stop offset="8.3%" stop-color="#fffdfd"/><stop offset="12.5%" stop-color="#fffdfd"/><stop offset="16.7%" stop-color="#fdfdff"/><stop offset="20.8%" stop-color="#fdfdff"/><stop offset="25%" stop-color="#f9f9ff"/><stop offset="29.2%" stop-color="#f9f9ff"/><stop offset="33.3%" stop-color="#f9f9ff"/><stop offset="37.5%" stop-color="#f9f9ff"/><stop offset="41.7%" stop-color="#fdfdff"/><stop offset="45.8%" stop-color="#fdfdff"/><stop offset="50%" stop-color="#fffdfd"/><stop offset="54.2%" stop-color="#fffdfd"/><stop offset="58.3%" stop-color="#fff9f9"/><stop offset="62.5%" stop-color="#fff1f1"/><stop offset="66.7%" stop-color="#ffe9e9"/><stop offset="70.8%" stop-color="#ffe1e1"/><stop offset="75%" stop-color="#ffd9d9"/><stop offset="79.2%" stop-color="#ffcdcd"/><stop offset="83.3%" stop-color="#ffbdbd"/><stop offset="87.5%" stop-color="#ffadad"/><stop offset="91.7%" stop-color="#ffa5a5"/><stop offset="95.8%" stop-color="#ff9d9d"/><stop offset="100%" stop-color="#ff9d9d"/></linearGradient>
<linearGradient id="d9" x1="0" y1="0" x2="0" y2="1"><stop offset="0%" stop-color="#bdbdff"/><stop offset="4.2%" stop-color="#bdbdff"/><stop offset="8.3%" stop-color="#bdbdff"/><stop offset="12.5%" stop-color="#c1c1ff"/><stop offset="16.7%" stop-color="#c5c5ff"/><stop offset="20.8%" stop-color="#c9c9ff"/><stop offset="25%" stop-color="#cdcdff"/><stop offset="29.2%" stop-color="#d5d5ff"/><stop offset="33.3%" stop-color="#ddddff"/><stop offset="37.5%" stop-color="#e5e5ff"/><stop offset="41.7%" stop-color="#f1f1ff"/><stop offset="45.8%" stop-color="#f9f9ff"/><stop offset="50%" stop-color="#fffdfd"/><stop offset="54.2%" stop-color="#fffdfd"/><stop offset="58.3%" stop-color="#fff1f1"/><stop offset="62.5%" stop-color="#ffe9e9"/><stop offset="66.7%" stop-color="#ffdddd"/><stop offset="70.8%" stop-color="#ffd5d5"/><stop offset="75%" stop-color="#ffcdcd"/><stop offset="79.2%" stop-color="#ffc1c1"/><stop offset="83.3%" stop-color="#ffb9b9"/><stop offset="87.5%" stop-color="#ffadad"/><stop offset="91.7%" stop-color="#ffa5a5"/><stop offset="95.8%" stop-color="#ff9d9d"/><stop offset="100%" stop-color="#ff9d9d"/></linearGradient>
<linearGradient id="d10" x1="0" y1="0" x2="0" y2="1"><stop offset="0%" stop-color="#9595ff"/><stop offset="4.2%" stop-color="#9999ff"/><stop offset="8.3%" stop-color="#a1a1ff"/><stop offset="12.5%" stop-color="#a9a9ff"/><stop offset="16.7%" stop-color="#b5b5ff"/><stop offset="20.8%" stop-color="#bdbdff"/><stop offset="25%" stop-color="#c9c9ff"/><stop offset="29.2%" stop-color="#d1d1ff"/><stop offset="33.3%" stop-color="#ddddff"/><stop offset="37.5%" stop-color="#e5e5ff"/><stop offset="41.7%" stop-color="#f1f1ff"/><stop offset="45.8%" stop-color="#f9f9ff"/><stop offset="50%" stop-color="#fffdfd"/><stop offset="54.2%" stop-color="#fffdfd"/><stop offset="58.3%" stop-color="#fff1f1"/><stop offset="62.5%" stop-color="#ffe9e9"/><stop offset="66.7%" stop-color="#ffdddd"/><stop offset="70.8%" stop-color="#ffd5d5"/><stop offset="75%" stop-color="#ffcdcd"/><stop offset="79.2%" stop-color="#ffc1c1"/><stop offset="83.3%" stop-color="#ffb9b9"/><stop offset="87.5%" stop-color="#ffadad"/><stop offset="91.7%" stop-color="#ffa5a5"/><stop offset="95.8%" stop-color="#ff9d9d"/><stop offset="100%" stop-color="#ff9d9d"/></linearGradient>
<linearGradient id="d11" x1="0" y1="0" x2="0" y2="1"><stop offset="0%" stop-color="#9595ff"/><stop offset="4.2%" stop-color="#9999ff"/><stop offset="8.3%" stop-color="#a1a1ff"/><stop offset="12.5%" stop-color="#a9a9ff"/><stop offset="16.7%" stop-color="#b5b5ff"/><stop offset="20.8%" stop-color="#bdbdff"/><stop offset="25%" stop-color="#c9c9ff"/><stop offset="29.2%" stop-color="#d1d1ff"/><stop offset="33.3%" stop-color="#ddddff"/><stop offset="37.5%" stop-color="#e5e5ff"/><stop offset="41.7%" stop-color="#f1f1ff"/><stop offset="45.8%" stop-color="#f9f9ff"/><stop offset="50%" stop-color="#fffdfd"/><stop offset="54.2%" stop-color="#fffdfd"/><stop offset="58.3%" stop-color="#fff1f1"/><stop offset="62.5%" stop-color="#ffe9e9"/><stop offset="66.7%" stop-color="#ffdddd"/><stop offset="70.8%" stop-color="#ffd5d5"/><stop offset="75%" stop-color="#ffcdcd"/><stop offset="79.2%" stop-color="#ffc1c1"/><stop offset="83.3%" stop-color="#ffb9b9"/><stop offset="87.5%" stop-color="#ffadad"/><stop offset="91.7%" stop-color="#ffa5a5"/><stop offset="95.8%" stop-color="#ff9d9d"/><stop offset="100%" stop-color="#ff9d9d"/></linearGradient>
<linearGradient id="d12" x1="0" y1="0" x2="0" y2="1"><stop offset="0%" stop-color="#9595ff"/><stop offset="4.2%" stop-color="#9999ff"/><stop offset="8.3%" stop-color="#a1a1ff"/><stop offset="12.5%" stop-color="#a9a9ff"/><stop offset="16.7%" stop-color="#b5b5ff"/><stop offset="20.8%" stop-color="#bdbdff"/><stop offset="25%" stop-color="#c9c9ff"/><stop offset="29.2%" stop-color="#d1d1ff"/><stop offset="33.3%" stop-color="#ddddff"/><stop offset="37.5%" stop-color="#e5e5ff"/><stop offset="41.7%" stop-color="#f1f1ff"/><stop offset="45.8%" stop-color="#f9f9ff"/><stop offset="50%" stop-color="#fffdfd"/><stop offset="54.2%" stop-color="#fffdfd"/><stop offset="58.3%" stop-color="#fff1f1"/><stop offset="62.5%" stop-color="#ffe9e9"/><stop offset="66.7%" stop-color="#ffdddd"/><stop offset="70.8%" stop-color="#ffd5d5"/><stop offset="75%" stop-color="#ffcdcd"/><stop offset="79.2%" stop-color="#ffc1c1"/><stop offset="83.3%" stop-color="#ffb9b9"/><stop offset="87.5%" stop-color="#ffb5b5"/><stop offset="91.7%" stop-color="#ffc1c1"/><stop offset="95.8%" stop-color="#ffd5d5"/><stop offset="100%" stop-color="#fff1f1"/></linearGradient>
<linearGradient id="d13" x1="0" y1="0" x2="0" y2="1"><stop offset="0%" stop-color="#9595ff"/><stop offset="4.2%" stop-color="#9999ff"/><stop offset="8.3%" stop-color="#a1a1ff"/><stop offset="12.5%" stop-color="#a9a9ff"/><stop offset="16.7%" stop-color="#b5b5ff"/><stop offset="20.8%" stop-color="#bdbdff"/><stop offset="25%" stop-color="#c9c9ff"/><stop offset="29.2%" stop-color="#d1d1ff"/><stop offset="33.3%" stop-color="#ddddff"/><stop offset="37.5%" stop-color="#e5e5ff"/><stop offset="41.7%" stop-color="#f1f1ff"/><stop offset="45.8%" stop-color="#f9f9ff"/><stop offset="50%" stop-color="#fffdfd"/><stop offset="54.2%" stop-color="#fffdfd"/><stop offset="58.3%" stop-color="#fff1f1"/><stop offset="62.5%" stop-color="#ffe9e9"/><stop offset="66.7%" stop-color="#ffe5e5"/><stop offset="70.8%" stop-color="#ffe5e5"/><stop offset="75%" stop-color="#ffe9e9"/><stop offset="79.2%" stop-color="#fff5f5"/><stop offset="83.3%" stop-color="#fffdfd"/><stop offset="87.5%" stop-color="#fffdfd"/><stop offset="91.7%" stop-color="#fffdfd"/><stop offset="95.8%" stop-color="#fffdfd"/><stop offset="100%" stop-color="#fff9f9"/></linearGradient>
<linearGradient id="d14" x1="0" y1="0" x2="0" y2="1"><stop offset="0%" stop-color="#9595ff"/><stop offset="4.2%" stop-color="#9999ff"/><stop offset="8.3%" stop-color="#a1a1ff"/><stop offset="12.5%" stop-color="#a9a9ff"/><stop offset="16.7%" stop-color="#b5b5ff"/><stop offset="20.8%" stop-color="#bdbdff"/><stop offset="25%" stop-color="#c9c9ff"/><stop offset="29.2%" stop-color="#d1d1ff"/><stop offset="33.3%" stop-color="#ddddff"/><stop offset="37.5%" stop-color="#e5e5ff"/><stop offset="41.7%" stop-color="#f1f1ff"/><stop offset="45.8%" stop-color="#fdfdff"/><stop offset="50%" stop-color="#fffdfd"/><stop offset="54.2%" stop-color="#fffdfd"/><stop offset="58.3%" stop-color="#fffdfd"/><stop offset="62.5%" stop-color="#fffdfd"/><stop offset="66.7%" stop-color="#fffdfd"/><stop offset="70.8%" stop-color="#fffdfd"/><stop offset="75%" stop-color="#fffdfd"/><stop offset="79.2%" stop-color="#fff9f9"/><stop offset="83.3%" stop-color="#fff9f9"/><stop offset="87.5%" stop-color="#fff9f9"/><stop offset="91.7%" stop-color="#fff5f5"/><stop offset="95.8%" stop-color="#fff5f5"/><stop offset="100%" stop-color="#fff5f5"/></linearGradient>
<linearGradient id="d15" x1="0" y1="0" x2="0" y2="1"><stop offset="0%" stop-color="#9595ff"/><stop offset="4.2%" stop-color="#9999ff"/><stop offset="8.3%" stop-color="#a1a1ff"/><stop offset="12.5%" stop-color="#a9a9ff"/><stop offset="16.7%" stop-color="#b5b5ff"/><stop offset="20.8%" stop-color="#c1c1ff"/><stop offset="25%" stop-color="#d5d5ff"/><stop offset="29.2%" stop-color="#e5e5ff"/><stop offset="33.3%" stop-color="#f1f1ff"/><stop offset="37.5%" stop-color="#f9f9ff"/><stop offset="41.7%" stop-color="#fdfdff"/><stop offset="45.8%" stop-color="#fdfdff"/><stop offset="50%" stop-color="#fffdfd"/><stop offset="54.2%" stop-color="#fffdfd"/><stop offset="58.3%" stop-color="#fffdfd"/><stop offset="62.5%" stop-color="#fffdfd"/><stop offset="66.7%" stop-color="#fffdfd"/><stop offset="70.8%" stop-color="#fffdfd"/><stop offset="75%" stop-color="#fff9f9"/><stop offset="79.2%" stop-color="#fff9f9"/><stop offset="83.3%" stop-color="#fff9f9"/><stop offset="87.5%" stop-color="#fff9f9"/><stop offset="91.7%" stop-color="#fff5f5"/><stop offset="95.8%" stop-color="#fff5f5"/><stop offset="100%" stop-color="#fff5f5"/></linearGradient>
<linearGradient id="d16" x1="0" y1="0" x2="0" y2="1"><stop offset="0%" stop-color="#9d9dff"/><stop offset="4.2%" stop-color="#b1b1ff"/><stop offset="8.3%" stop-color="#c5c5ff"/><stop offset="12.5%" stop-color="#d9d9ff"/><stop offset="16.7%" stop-color="#e9e9ff"/><stop offset="20.8%" stop-color="#f5f5ff"/><stop offset="25%" stop-color="#f9f9ff"/><stop offset="29.2%" stop-color="#fdfdff"/><stop offset="33.3%" stop-color="#fdfdff"/><stop offset="37.5%" stop-color="#fdfdff"/><stop offset="41.7%" stop-color="#fdfdff"/><stop offset="45.8%" stop-color="#fdfdff"/><stop offset="50%" stop-color="#fffdfd"/><stop offset="54.2%" stop-color="#fffdfd"/><stop offset="58.3%" stop-color="#fffdfd"/><stop offset="62.5%" stop-color="#fffdfd"/><stop offset="66.7%" stop-color="#fffdfd"/><stop offset="70.8%" stop-color="#fffdfd"/><stop offset="75%" stop-color="#fff9f9"/><stop offset="79.2%" stop-color="#fff9f9"/><stop offset="83.3%" stop-color="#fff9f9"/><stop offset="87.5%" stop-color="#fff9f9"/><stop offset="91.7%" stop-color="#fff5f5"/><stop offset="95.8%" stop-color="#fff5f5"/><stop offset="100%" stop-color="#fff5f5"/></linearGradient>
<linearGradient id="d17" x1="0" y1="0" x2="0" y2="1"><stop offset="0%" stop-color="#e9e9ff"/><stop offset="4.2%" stop-color="#f5f5ff"/><stop offset="8.3%" stop-color="#f5f5ff"/><stop offset="12.5%" stop-color="#f9f9ff"/><stop offset="16.7%" stop-color="#f9f9ff"/><stop offset="20.8%" stop-color="#f9f9ff"/><stop offset="25%" stop-color="#f9f9ff"/><stop offset="29.2%" stop-color="#fdfdff"/><stop offset="33.3%" stop-color="#fdfdff"/><stop offset="37.5%" stop-color="#fdfdff"/><stop offset="41.7%" stop-color="#fdfdff"/><stop offset="45.8%" stop-color="#fdfdff"/><stop offset="50%" stop-color="#fffdfd"/><stop offset="54.2%" stop-color="#fffdfd"/><stop offset="58.3%" stop-color="#fffdfd"/><stop offset="62.5%" stop-color="#fffdfd"/><stop offset="66.7%" stop-color="#fffdfd"/><stop offset="70.8%" stop-color="#fffdfd"/><stop offset="75%" stop-color="#fff9f9"/><stop offset="79.2%" stop-color="#fff9f9"/><stop offset="83.3%" stop-color="#fff9f9"/><stop offset="87.5%" stop-color="#fff9f9"/><stop offset="91.7%" stop-color="#fff5f5"/><stop offset="95.8%" stop-color="#fff5f5"/><stop offset="100%" stop-color="#fff5f5"/></linearGradient>
<linearGradient id="d18" x1="0" y1="0" x2="0" y2="1"><stop offset="0%" stop-color="#f5f5ff"/><stop offset="4.2%" stop-color="#f5f5ff"/><stop offset="8.3%" stop-color="#f5f5ff"/><stop offset="12.5%" stop-color="#f9f9ff"/><stop offset="16.7%" stop-color="#f9f9ff"/><stop offset="20.8%" stop-color="#f9f9ff"/><stop offset="25%" stop-color="#f9f9ff"/><stop offset="29.2%" stop-color="#fdfdff"/><stop offset="33.3%" stop-color="#fdfdff"/><stop offset="37.5%" stop-color="#fdfdff"/><stop offset="41.7%" stop-color="#fdfdff"/><stop offset="45.8%" stop-color="#fdfdff"/><stop offset="50%" stop-color="#fffdfd"/><stop offset="54.2%" stop-color="#fffdfd"/><stop offset="58.3%" stop-color="#fffdfd"/><stop offset="62.5%" stop-color="#fffdfd"/><stop offset="66.7%" stop-color="#fffdfd"/><stop offset="70.8%" stop-color="#fff9f9"/><stop offset="75%" stop-color="#fff9f9"/><stop offset="79.2%" stop-color="#fff9f9"/><stop offset="83.3%" stop-color="#fff9f9"/><stop offset="87.5%" stop-color="#fff5f5"/><stop offset="91.7%" stop-color="#fff5f5"/><stop offset="95.8%" stop-color="#fff5f5"/><stop offset="100%" stop-color="#fff5f5"/></linearGradient>
<linearGradient id="d19" x1="0" y1="0" x2="0" y2="1"><stop offset="0%" stop-color="#f5f5ff"/><stop offset="4.2%" stop-color="#f5f5ff"/><stop offset="8.3%" stop-color="#f5f5ff"/><stop offset="12.5%" stop-color="#f9f9ff"/><stop offset="16.7%" stop-color="#f9f9ff"/><stop offset="20.8%" stop-color="#f9f9ff"/><stop offset="25%" stop-color="#f9f9ff"/><stop offset="29.2%" stop-color="#fdfdff"/><stop offset="33.3%" stop-color="#fdfdff"/><stop offset="37.5%" stop-color="#fdfdff"/><stop offset="41.7%" stop-color="#fdfdff"/><stop offset="45.8%" stop-color="#fdfdff"/><stop offset="50%" stop-color="#fffdfd"/><stop offset="54.2%" stop-color="#fffdfd"/><stop offset="58.3%" stop-color="#fffdfd"/><stop offset="62.5%" stop-color="#fffdfd"/><stop offset="66.7%" stop-color="#fffdfd"/><stop offset="70.8%" stop-color="#fff9f9"/><stop offset="75%" stop-color="#fff9f9"/><stop offset="79.2%" stop-color="#fff9f9"/><stop offset="83.3%" stop-color="#fff9f9"/><stop offset="87.5%" stop-color="#fff5f5"/><stop offset="91.7%" stop-color="#fff5f5"/><stop offset="95.8%" stop-color="#fff5f5"/><stop offset="100%" stop-color="#fff5f5"/></linearGradient>
<linearGradient id="d20" x1="0" y1="0" x2="0" y2="1"><stop offset="0%" stop-color="#f5f5ff"/><stop offset="4.2%" stop-color="#f5f5ff"/><stop offset="8.3%" stop-color="#f5f5ff"/><stop offset="12.5%" stop-color="#f9f9ff"/><stop offset="16.7%" stop-color="#f9f9ff"/><stop offset="20.8%" stop-color="#f9f9ff"/><stop offset="25%" stop-color="#f9f9ff"/><stop offset="29.2%" stop-color="#fdfdff"/><stop offset="33.3%" stop-color="#fdfdff"/><stop offset="37.5%" stop-color="#fdfdff"/><stop offset="41.7%" stop-color="#fdfdff"/><stop offset="45.8%" stop-color="#fdfdff"/><stop offset="50%" stop-color="#fffdfd"/><stop offset="54.2%" stop-color="#fffdfd"/><stop offset="58.3%" stop-color="#fffdfd"/><stop offset="62.5%" stop-color="#fffdfd"/><stop offset="66.7%" stop-color="#fffdfd"/><stop offset="70.8%" stop-color="#fff9f9"/><stop offset="75%" stop-color="#fff9f9"/><stop offset="79.2%" stop-color="#fff9f9"/><stop offset="83.3%" stop-color="#fff9f9"/><stop offset="87.5%" stop-color="#fff5f5"/><stop offset="91.7%" stop-color="#fff5f5"/><stop offset="95.8%" stop-color="#fff5f5"/><stop offset="100%" stop-color="#fff1f1"/></linearGradient>
<linearGradient id="d21" x1="0" y1="0" x2="0" y2="1"><stop offset="0%" stop-color="#f5f5ff"/><stop offset="4.2%" stop-color="#f5f5ff"/><stop offset="8.3%" stop-color="#f5f5ff"/><stop offset="12.5%" stop-color="#f9f9ff"/><stop offset="16.7%" stop-color="#f9f9ff"/><stop offset="20.8%" stop-color="#f9f9ff"/><stop offset="25%" stop-color="#f9f9ff"/><stop offset="29.2%" stop-color="#fdfdff"/><stop offset="33.3%" stop-color="#fdfdff"/><stop offset="37.5%" stop-color="#fdfdff"/><stop offset="41.7%" stop-color="#fdfdff"/><stop offset="45.8%" stop-color="#fdfdff"/><stop offset="50%" stop-color="#fffdfd"/><stop offset="54.2%" stop-color="#fffdfd"/><stop offset="58.3%" stop-color="#fffdfd"/><stop offset="62.5%" stop-color="#fffdfd"/><stop offset="66.7%" stop-color="#fffdfd"/><stop offset="70.8%" stop-color="#fff9f9"/><stop offset="75%" stop-color="#fff9f9"/><stop offset="79.2%" stop-color="#fff9f9"/><stop offset="83.3%" stop-color="#fff1f1"/><stop offset="87.5%" stop-color="#ffe5e5"/><stop offset="91.7%" stop-color="#ffd9d9"/><stop offset="95.8%" stop-color="#ffc9c9"/><stop offset="100%" stop-color="#ffb5b5"/></linearGradient>
<linearGradient id="d22" x1="0" y1="0" x2="0" y2="1"><stop offset="0%" stop-color="#f5f5ff"/><stop offset="4.2%" stop-color="#f5f5ff"/><stop offset="8.3%" stop-color="#f5f5ff"/><stop offset="12.5%" stop-color="#f9f9ff"/><stop offset="16.7%" stop-color="#f9f9ff"/><stop offset="20.8%" stop-color="#f9f9ff"/><stop offset="25%" stop-color="#f9f9ff"/><stop offset="29.2%" stop-color="#fdfdff"/><stop offset="33.3%" stop-color="#fdfdff"/><stop offset="37.5%" stop-color="#fdfdff"/><stop offset="41.7%" stop-color="#fdfdff"/><stop offset="45.8%" stop-color="#fdfdff"/><stop offset="50%" stop-color="#fffdfd"/><stop offset="54.2%" stop-color="#fffdfd"/><stop offset="58.3%" stop-color="#fff9f9"/><stop offset="62.5%" stop-color="#fff1f1"/><stop offset="66.7%" stop-color="#ffe9e9"/><stop offset="70.8%" stop-color="#ffd9d9"/><stop offset="75%" stop-color="#ffcdcd"/><stop offset="79.2%" stop-color="#ffb9b9"/><stop offset="83.3%" stop-color="#ffa5a5"/><stop offset="87.5%" stop-color="#ff8d8d"/><stop offset="91.7%" stop-color="#ff7575"/><stop offset="95.8%" stop-color="#ff5555"/><stop offset="100%" stop-color="#ff4141"/></linearGradient>
<linearGradient id="d23" x1="0" y1="0" x2="0" y2="1"><stop offset="0%" stop-color="#f5f5ff"/><stop offset="4.2%" stop-color="#f5f5ff"/><stop offset="8.3%" stop-color="#f5f5ff"/><stop offset="12.5%" stop-color="#f9f9ff"/><stop offset="16.7%" stop-color="#f1f1ff"/><stop offset="20.8%" stop-color="#ededff"/><stop offset="25%" stop-color="#ededff"/><stop offset="29.2%" stop-color="#e9e9ff"/><stop offset="33.3%" stop-color="#ededff"/><stop offset="37.5%" stop-color="#ededff"/><stop offset="41.7%" stop-color="#f5f5ff"/><stop offset="45.8%" stop-color="#f9f9ff"/><stop offset="50%" stop-color="#fffdfd"/><stop offset="54.2%" stop-color="#fff9f9"/><stop offset="58.3%" stop-color="#ffe9e9"/><stop offset="62.5%" stop-color="#ffd5d5"/><stop offset="66.7%" stop-color="#ffbdbd"/><stop offset="70.8%" stop-color="#ffa1a1"/><stop offset="75%" stop-color="#ff8181"/><stop offset="79.2%" stop-color="#ff5959"/><stop offset="83.3%" stop-color="#ff2d2d"/><stop offset="87.5%" stop-color="#fe0000"/><stop offset="91.7%" stop-color="#e80000"/><stop offset="95.8%" stop-color="#da0000"/><stop offset="100%" stop-color="#d20000"/></linearGradient>
<linearGradient id="d24" x1="0" y1="0" x2="0" y2="1"><stop offset="0%" stop-color="#c1c1ff"/><stop offset="4.2%" stop-color="#b9b9ff"/><stop offset="8.3%" stop-color="#b5b5ff"/><stop offset="12.5%" stop-color="#b5b5ff"/><stop offset="16.7%" stop-color="#b5b5ff"/><stop offset="20.8%" stop-color="#b9b9ff"/><stop offset="25%" stop-color="#bdbdff"/><stop offset="29.2%" stop-color="#c1c1ff"/><stop offset="33.3%" stop-color="#c9c9ff"/><stop offset="37.5%" stop-color="#d5d5ff"/><stop offset="41.7%" stop-color="#e1e1ff"/><stop offset="45.8%" stop-color="#f5f5ff"/><stop offset="50%" stop-color="#fffdfd"/><stop offset="54.2%" stop-color="#ffeded"/><stop offset="58.3%" stop-color="#ffc9c9"/><stop offset="62.5%" stop-color="#ffa5a5"/><stop offset="66.7%" stop-color="#ff7d7d"/><stop offset="70.8%" stop-color="#ff5151"/><stop offset="75%" stop-color="#ff2121"/><stop offset="79.2%" stop-color="#f80000"/><stop offset="83.3%" stop-color="#de0000"/><stop offset="87.5%" stop-color="#c80000"/><stop offset="91.7%" stop-color="#c00000"/><stop offset="95.8%" stop-color="#b80000"/><stop offset="100%" stop-color="#ae0000"/></linearGradient>
<linearGradient id="d25" x1="0" y1="0" x2="0" y2="1"><stop offset="0%" stop-color="#5d5dff"/><stop offset="4.2%" stop-color="#5151ff"/><stop offset="8.3%" stop-color="#4949ff"/><stop offset="12.5%" stop-color="#4d4dff"/><stop offset="16.7%" stop-color="#5555ff"/><stop offset="20.8%" stop-color="#5d5dff"/><stop offset="25%" stop-color="#6969ff"/><stop offset="29.2%" stop-color="#7d7dff"/><stop offset="33.3%" stop-color="#9595ff"/><stop offset="37.5%" stop-color="#adadff"/><stop offset="41.7%" stop-color="#c9c9ff"/><stop offset="45.8%" stop-color="#e9e9ff"/><stop offset="50%" stop-color="#fffdfd"/><stop offset="54.2%" stop-color="#ffe1e1"/><stop offset="58.3%" stop-color="#ffb1b1"/><stop offset="62.5%" stop-color="#ff8181"/><stop offset="66.7%" stop-color="#ff4949"/><stop offset="70.8%" stop-color="#ff1111"/><stop offset="75%" stop-color="#e80000"/><stop offset="79.2%" stop-color="#cc0000"/><stop offset="83.3%" stop-color="#b60000"/><stop offset="87.5%" stop-color="#b00000"/><stop offset="91.7%" stop-color="#aa0000"/><stop offset="95.8%" stop-color="#a30000"/><stop offset="100%" stop-color="#9e0000"/></linearGradient>
<linearGradient id="d26" x1="0" y1="0" x2="0" y2="1"><stop offset="0%" stop-color="#0000ef"/><stop offset="4.2%" stop-color="#0000ec"/><stop offset="8.3%" stop-color="#0000ec"/><stop offset="12.5%" stop-color="#0000ec"/><stop offset="16.7%" stop-color="#0000fa"/><stop offset="20.8%" stop-color="#1515ff"/><stop offset="25%" stop-color="#2d2dff"/><stop offset="29.2%" stop-color="#4d4dff"/><stop offset="33.3%" stop-color="#6d6dff"/><stop offset="37.5%" stop-color="#9191ff"/><stop offset="41.7%" stop-color="#b5b5ff"/><stop offset="45.8%" stop-color="#ddddff"/><stop offset="50%" stop-color="#fffdfd"/><stop offset="54.2%" stop-color="#ffd5d5"/><stop offset="58.3%" stop-color="#ffa1a1"/><stop offset="62.5%" stop-color="#ff6969"/><stop offset="66.7%" stop-color="#ff3131"/><stop offset="70.8%" stop-color="#fa0000"/><stop offset="75%" stop-color="#de0000"/><stop offset="79.2%" stop-color="#c00000"/><stop offset="83.3%" stop-color="#b00000"/><stop offset="87.5%" stop-color="#aa0000"/><stop offset="91.7%" stop-color="#a30000"/><stop offset="95.8%" stop-color="#9c0000"/><stop offset="100%" stop-color="#9a0000"/></linearGradient>
<linearGradient id="d27" x1="0" y1="0" x2="0" y2="1"><stop offset="0%" stop-color="#0000c5"/><stop offset="4.2%" stop-color="#0000c5"/><stop offset="8.3%" stop-color="#0000c5"/><stop offset="12.5%" stop-color="#0000ca"/><stop offset="16.7%" stop-color="#0000d0"/><stop offset="20.8%" stop-color="#0000e6"/><stop offset="25%" stop-color="#0505ff"/><stop offset="29.2%" stop-color="#2d2dff"/><stop offset="33.3%" stop-color="#5959ff"/><stop offset="37.5%" stop-color="#8585ff"/><stop offset="41.7%" stop-color="#b1b1ff"/><stop offset="45.8%" stop-color="#ddddff"/><stop offset="50%" stop-color="#fffdfd"/><stop offset="54.2%" stop-color="#ffd5d5"/><stop offset="58.3%" stop-color="#ff9999"/><stop offset="62.5%" stop-color="#ff5d5d"/><stop offset="66.7%" stop-color="#ff2121"/><stop offset="70.8%" stop-color="#f40000"/><stop offset="75%" stop-color="#da0000"/><stop offset="79.2%" stop-color="#be0000"/><stop offset="83.3%" stop-color="#b00000"/><stop offset="87.5%" stop-color="#ac0000"/><stop offset="91.7%" stop-color="#a80000"/><stop offset="95.8%" stop-color="#a20000"/><stop offset="100%" stop-color="#9e0000"/></linearGradient>
<linearGradient id="d28" x1="0" y1="0" x2="0" y2="1"><stop offset="0%" stop-color="#0000b4"/><stop offset="4.2%" stop-color="#0000ba"/><stop offset="8.3%" stop-color="#0000bf"/><stop offset="12.5%" stop-color="#0000c5"/><stop offset="16.7%" stop-color="#0000ca"/><stop offset="20.8%" stop-color="#0000d8"/><stop offset="25%" stop-color="#0000f7"/><stop offset="29.2%" stop-color="#2121ff"/><stop offset="33.3%" stop-color="#4d4dff"/><stop offset="37.5%" stop-color="#7d7dff"/><stop offset="41.7%" stop-color="#adadff"/><stop offset="45.8%" stop-color="#ddddff"/><stop offset="50%" stop-color="#fffdfd"/><stop offset="54.2%" stop-color="#ffd5d5"/><stop offset="58.3%" stop-color="#ffa1a1"/><stop offset="62.5%" stop-color="#ff6d6d"/><stop offset="66.7%" stop-color="#ff3535"/><stop offset="70.8%" stop-color="#ff0505"/><stop offset="75%" stop-color="#e80000"/><stop offset="79.2%" stop-color="#d00000"/><stop offset="83.3%" stop-color="#b80000"/><stop offset="87.5%" stop-color="#b20000"/><stop offset="91.7%" stop-color="#ae0000"/><stop offset="95.8%" stop-color="#aa0000"/><stop offset="100%" stop-color="#a60000"/></linearGradient>
<linearGradient id="d29" x1="0" y1="0" x2="0" y2="1"><stop offset="0%" stop-color="#0000b1"/><stop offset="4.2%" stop-color="#0000b4"/><stop offset="8.3%" stop-color="#0000bc"/><stop offset="12.5%" stop-color="#0000c2"/><stop offset="16.7%" stop-color="#0000ca"/><stop offset="20.8%" stop-color="#0000e1"/><stop offset="25%" stop-color="#0505ff"/><stop offset="29.2%" stop-color="#3131ff"/><stop offset="33.3%" stop-color="#6161ff"/><stop offset="37.5%" stop-color="#8d8dff"/><stop offset="41.7%" stop-color="#b9b9ff"/><stop offset="45.8%" stop-color="#e1e1ff"/><stop offset="50%" stop-color="#fffdfd"/><stop offset="54.2%" stop-color="#ffdddd"/><stop offset="58.3%" stop-color="#ffa9a9"/><stop offset="62.5%" stop-color="#ff7979"/><stop offset="66.7%" stop-color="#ff4949"/><stop offset="70.8%" stop-color="#ff1919"/><stop offset="75%" stop-color="#f80000"/><stop offset="79.2%" stop-color="#e20000"/><stop offset="83.3%" stop-color="#ce0000"/><stop offset="87.5%" stop-color="#bc0000"/><stop offset="91.7%" stop-color="#ba0000"/><stop offset="95.8%" stop-color="#b60000"/><stop offset="100%" stop-color="#b30000"/></linearGradient>
<linearGradient id="d30" x1="0" y1="0" x2="0" y2="1"><stop offset="0%" stop-color="#0000b7"/><stop offset="4.2%" stop-color="#0000bc"/><stop offset="8.3%" stop-color="#0000c5"/><stop offset="12.5%" stop-color="#0000ca"/><stop offset="16.7%" stop-color="#0000d3"/><stop offset="20.8%" stop-color="#0000f2"/><stop offset="25%" stop-color="#1919ff"/><stop offset="29.2%" stop-color="#4545ff"/><stop offset="33.3%" stop-color="#6d6dff"/><stop offset="37.5%" stop-color="#9999ff"/><stop offset="41.7%" stop-color="#c1c1ff"/><stop offset="45.8%" stop-color="#e9e9ff"/><stop offset="50%" stop-color="#fffdfd"/><stop offset="54.2%" stop-color="#ffe9e9"/><stop offset="58.3%" stop-color="#ffbdbd"/><stop offset="62.5%" stop-color="#ff9595"/><stop offset="66.7%" stop-color="#ff6d6d"/><stop offset="70.8%" stop-color="#ff4545"/><stop offset="75%" stop-color="#ff1d1d"/><stop offset="79.2%" stop-color="#fa0000"/><stop offset="83.3%" stop-color="#e80000"/><stop offset="87.5%" stop-color="#d60000"/><stop offset="91.7%" stop-color="#c60000"/><stop offset="95.8%" stop-color="#c30000"/><stop offset="100%" stop-color="#c20000"/></linearGradient>
<linearGradient id="d31" x1="0" y1="0" x2="0" y2="1"><stop offset="0%" stop-color="#0000bf"/><stop offset="4.2%" stop-color="#0000c5"/><stop offset="8.3%" stop-color="#0000cd"/><stop offset="12.5%" stop-color="#0000d6"/><stop offset="16.7%" stop-color="#0000ec"/><stop offset="20.8%" stop-color="#1111ff"/><stop offset="25%" stop-color="#3939ff"/><stop offset="29.2%" stop-color="#6161ff"/><stop offset="33.3%" stop-color="#8989ff"/><stop offset="37.5%" stop-color="#b1b1ff"/><stop offset="41.7%" stop-color="#d1d1ff"/><stop offset="45.8%" stop-color="#f5f5ff"/><stop offset="50%" stop-color="#fffdfd"/><stop offset="54.2%" stop-color="#fff1f1"/><stop offset="58.3%" stop-color="#ffd1d1"/><stop offset="62.5%" stop-color="#ffadad"/><stop offset="66.7%" stop-color="#ff8989"/><stop offset="70.8%" stop-color="#ff6565"/><stop offset="75%" stop-color="#ff4545"/><stop offset="79.2%" stop-color="#ff2525"/><stop offset="83.3%" stop-color="#ff0101"/><stop offset="87.5%" stop-color="#f00000"/><stop offset="91.7%" stop-color="#de0000"/><stop offset="95.8%" stop-color="#d00000"/><stop offset="100%" stop-color="#ce0000"/></linearGradient>
<linearGradient id="d32" x1="0" y1="0" x2="0" y2="1"><stop offset="0%" stop-color="#0000cd"/><stop offset="4.2%" stop-color="#0000d6"/><stop offset="8.3%" stop-color="#0000db"/><stop offset="12.5%" stop-color="#0000ec"/><stop offset="16.7%" stop-color="#0d0dff"/><stop offset="20.8%" stop-color="#3535ff"/><stop offset="25%" stop-color="#5d5dff"/><stop offset="29.2%" stop-color="#8181ff"/><stop offset="33.3%" stop-color="#a1a1ff"/><stop offset="37.5%" stop-color="#c1c1ff"/><stop offset="41.7%" stop-color="#e1e1ff"/><stop offset="45.8%" stop-color="#f9f9ff"/><stop offset="50%" stop-color="#fffdfd"/><stop offset="54.2%" stop-color="#fffdfd"/><stop offset="58.3%" stop-color="#ffe1e1"/><stop offset="62.5%" stop-color="#ffc9c9"/><stop offset="66.7%" stop-color="#ffadad"/><stop offset="70.8%" stop-color="#ff8d8d"/><stop offset="75%" stop-color="#ff7171"/><stop offset="79.2%" stop-color="#ff5151"/><stop offset="83.3%" stop-color="#ff3131"/><stop offset="87.5%" stop-color="#ff1111"/><stop offset="91.7%" stop-color="#f80000"/><stop offset="95.8%" stop-color="#e80000"/><stop offset="100%" stop-color="#da0000"/></linearGradient>
<linearGradient id="d33" x1="0" y1="0" x2="0" y2="1"><stop offset="0%" stop-color="#0000de"/><stop offset="4.2%" stop-color="#0000e4"/><stop offset="8.3%" stop-color="#0000ef"/><stop offset="12.5%" stop-color="#1111ff"/><stop offset="16.7%" stop-color="#3535ff"/><stop offset="20.8%" stop-color="#5959ff"/><stop offset="25%" stop-color="#7d7dff"/><stop offset="29.2%" stop-color="#9d9dff"/><stop offset="33.3%" stop-color="#bdbdff"/><stop offset="37.5%" stop-color="#d9d9ff"/><stop offset="41.7%" stop-color="#f1f1ff"/><stop offset="45.8%" stop-color="#fdfdff"/><stop offset="50%" stop-color="#fffdfd"/><stop offset="54.2%" stop-color="#fffdfd"/><stop offset="58.3%" stop-color="#fff1f1"/><stop offset="62.5%" stop-color="#ffdddd"/><stop offset="66.7%" stop-color="#ffc9c9"/><stop offset="70.8%" stop-color="#ffb1b1"/><stop offset="75%" stop-color="#ff9595"/><stop offset="79.2%" stop-color="#ff7979"/><stop offset="83.3%" stop-color="#ff5959"/><stop offset="87.5%" stop-color="#ff3939"/><stop offset="91.7%" stop-color="#ff1515"/><stop offset="95.8%" stop-color="#f80000"/><stop offset="100%" stop-color="#e30000"/></linearGradient>
<linearGradient id="d34" x1="0" y1="0" x2="0" y2="1"><stop offset="0%" stop-color="#0000ec"/><stop offset="4.2%" stop-color="#0000f2"/><stop offset="8.3%" stop-color="#1515ff"/><stop offset="12.5%" stop-color="#3939ff"/><stop offset="16.7%" stop-color="#5d5dff"/><stop offset="20.8%" stop-color="#7d7dff"/><stop offset="25%" stop-color="#9d9dff"/><stop offset="29.2%" stop-color="#b9b9ff"/><stop offset="33.3%" stop-color="#d5d5ff"/><stop offset="37.5%" stop-color="#e9e9ff"/><stop offset="41.7%" stop-color="#f9f9ff"/><stop offset="45.8%" stop-color="#fffdfd"/><stop offset="50%" stop-color="#fffdfd"/><stop offset="54.2%" stop-color="#fffdfd"/><stop offset="58.3%" stop-color="#fff9f9"/><stop offset="62.5%" stop-color="#ffe9e9"/><stop offset="66.7%" stop-color="#ffd5d5"/><stop offset="70.8%" stop-color="#ffbdbd"/><stop offset="75%" stop-color="#ffa5a5"/><stop offset="79.2%" stop-color="#ff8989"/><stop offset="83.3%" stop-color="#ff6969"/><stop offset="87.5%" stop-color="#ff4949"/><stop offset="91.7%" stop-color="#ff2525"/><stop offset="95.8%" stop-color="#fc0000"/><stop offset="100%" stop-color="#e80000"/></linearGradient>
<linearGradient id="d35" x1="0" y1="0" x2="0" y2="1"><stop offset="0%" stop-color="#0000fa"/><stop offset="4.2%" stop-color="#1919ff"/><stop offset="8.3%" stop-color="#3d3dff"/><stop offset="12.5%" stop-color="#5d5dff"/><stop offset="16.7%" stop-color="#7d7dff"/><stop offset="20.8%" stop-color="#9999ff"/><stop offset="25%" stop-color="#b1b1ff"/><stop offset="29.2%" stop-color="#c9c9ff"/><stop offset="33.3%" stop-color="#ddddff"/><stop offset="37.5%" stop-color="#ededff"/><stop offset="41.7%" stop-color="#fdfdff"/><stop offset="45.8%" stop-color="#fffdfd"/><stop offset="50%" stop-color="#fffdfd"/><stop offset="54.2%" stop-color="#fffdfd"/><stop offset="58.3%" stop-color="#fffdfd"/><stop offset="62.5%" stop-color="#ffeded"/><stop offset="66.7%" stop-color="#ffd9d9"/><stop offset="70.8%" stop-color="#ffc1c1"/><stop offset="75%" stop-color="#ffa5a5"/><stop offset="79.2%" stop-color="#ff8585"/><stop offset="83.3%" stop-color="#ff6565"/><stop offset="87.5%" stop-color="#ff4141"/><stop offset="91.7%" stop-color="#ff1919"/><stop offset="95.8%" stop-color="#f80000"/><stop offset="100%" stop-color="#e20000"/></linearGradient>
<linearGradient id="d36" x1="0" y1="0" x2="0" y2="1"><stop offset="0%" stop-color="#0909ff"/><stop offset="4.2%" stop-color="#2929ff"/><stop offset="8.3%" stop-color="#4949ff"/><stop offset="12.5%" stop-color="#6969ff"/><stop offset="16.7%" stop-color="#8989ff"/><stop offset="20.8%" stop-color="#a1a1ff"/><stop offset="25%" stop-color="#b9b9ff"/><stop offset="29.2%" stop-color="#cdcdff"/><stop offset="33.3%" stop-color="#e1e1ff"/><stop offset="37.5%" stop-color="#f1f1ff"/><stop offset="41.7%" stop-color="#fdfdff"/><stop offset="45.8%" stop-color="#fffdfd"/><stop offset="50%" stop-color="#fffdfd"/><stop offset="54.2%" stop-color="#fffdfd"/><stop offset="58.3%" stop-color="#fff9f9"/><stop offset="62.5%" stop-color="#ffe9e9"/><stop offset="66.7%" stop-color="#ffd5d5"/><stop offset="70.8%" stop-color="#ffb9b9"/><stop offset="75%" stop-color="#ff9d9d"/><stop offset="79.2%" stop-color="#ff7d7d"/><stop offset="83.3%" stop-color="#ff5959"/><stop offset="87.5%" stop-color="#ff3535"/><stop offset="91.7%" stop-color="#ff1111"/><stop offset="95.8%" stop-color="#f20000"/><stop offset="100%" stop-color="#dc0000"/></linearGradient>
<linearGradient id="d37" x1="0" y1="0" x2="0" y2="1"><stop offset="0%" stop-color="#0d0dff"/><stop offset="4.2%" stop-color="#2d2dff"/><stop offset="8.3%" stop-color="#4949ff"/><stop offset="12.5%" stop-color="#6969ff"/><stop offset="16.7%" stop-color="#8585ff"/><stop offset="20.8%" stop-color="#9d9dff"/><stop offset="25%" stop-color="#b5b5ff"/><stop offset="29.2%" stop-color="#c9c9ff"/><stop offset="33.3%" stop-color="#ddddff"/><stop offset="37.5%" stop-color="#ededff"/><stop offset="41.7%" stop-color="#f9f9ff"/><stop offset="45.8%" stop-color="#fffdfd"/><stop offset="50%" stop-color="#fffdfd"/><stop offset="54.2%" stop-color="#fffdfd"/><stop offset="58.3%" stop-color="#fff5f5"/><stop offset="62.5%" stop-color="#ffe5e5"/><stop offset="66.7%" stop-color="#ffc9c9"/><stop offset="70.8%" stop-color="#ffadad"/><stop offset="75%" stop-color="#ff8989"/><stop offset="79.2%" stop-color="#ff6161"/><stop offset="83.3%" stop-color="#ff3939"/><stop offset="87.5%" stop-color="#ff0d0d"/><stop offset="91.7%" stop-color="#f00000"/><stop offset="95.8%" stop-color="#d80000"/><stop offset="100%" stop-color="#d00000"/></linearGradient>
<linearGradient id="d38" x1="0" y1="0" x2="0" y2="1"><stop offset="0%" stop-color="#0505ff"/><stop offset="4.2%" stop-color="#2525ff"/><stop offset="8.3%" stop-color="#4545ff"/><stop offset="12.5%" stop-color="#6161ff"/><stop offset="16.7%" stop-color="#7d7dff"/><stop offset="20.8%" stop-color="#9595ff"/><stop offset="25%" stop-color="#adadff"/><stop offset="29.2%" stop-color="#c1c1ff"/><stop offset="33.3%" stop-color="#d5d5ff"/><stop offset="37.5%" stop-color="#e5e5ff"/><stop offset="41.7%" stop-color="#f5f5ff"/><stop offset="45.8%" stop-color="#fffdfd"/><stop offset="50%" stop-color="#fffdfd"/><stop offset="54.2%" stop-color="#fffdfd"/><stop offset="58.3%" stop-color="#ffeded"/><stop offset="62.5%" stop-color="#ffd1d1"/><stop offset="66.7%" stop-color="#ffb1b1"/><stop offset="70.8%" stop-color="#ff8989"/><stop offset="75%" stop-color="#ff6161"/><stop offset="79.2%" stop-color="#ff3535"/><stop offset="83.3%" stop-color="#ff0909"/><stop offset="87.5%" stop-color="#ec0000"/><stop offset="91.7%" stop-color="#d30000"/><stop offset="95.8%" stop-color="#ca0000"/><stop offset="100%" stop-color="#c20000"/></linearGradient>
<linearGradient id="d39" x1="0" y1="0" x2="0" y2="1"><stop offset="0%" stop-color="#0000fa"/><stop offset="4.2%" stop-color="#1111ff"/><stop offset="8.3%" stop-color="#2d2dff"/><stop offset="12.5%" stop-color="#4545ff"/><stop offset="16.7%" stop-color="#6161ff"/><stop offset="20.8%" stop-color="#7979ff"/><stop offset="25%" stop-color="#9191ff"/><stop offset="29.2%" stop-color="#a9a9ff"/><stop offset="33.3%" stop-color="#bdbdff"/><stop offset="37.5%" stop-color="#d5d5ff"/><stop offset="41.7%" stop-color="#e9e9ff"/><stop offset="45.8%" stop-color="#fdfdff"/><stop offset="50%" stop-color="#fffdfd"/><stop offset="54.2%" stop-color="#fff9f9"/><stop offset="58.3%" stop-color="#ffd9d9"/><stop offset="62.5%" stop-color="#ffb5b5"/><stop offset="66.7%" stop-color="#ff8d8d"/><stop offset="70.8%" stop-color="#ff6161"/><stop offset="75%" stop-color="#ff3131"/><stop offset="79.2%" stop-color="#fe0000"/><stop offset="83.3%" stop-color="#e30000"/><stop offset="87.5%" stop-color="#c80000"/><stop offset="91.7%" stop-color="#bc0000"/><stop offset="95.8%" stop-color="#b60000"/><stop offset="100%" stop-color="#ae0000"/></linearGradient>
<linearGradient id="d40" x1="0" y1="0" x2="0" y2="1"><stop offset="0%" stop-color="#0000ec"/><stop offset="4.2%" stop-color="#0000ef"/><stop offset="8.3%" stop-color="#0101ff"/><stop offset="12.5%" stop-color="#1d1dff"/><stop offset="16.7%" stop-color="#3939ff"/><stop offset="20.8%" stop-color="#5555ff"/><stop offset="25%" stop-color="#6d6dff"/><stop offset="29.2%" stop-color="#8989ff"/><stop offset="33.3%" stop-color="#a1a1ff"/><stop offset="37.5%" stop-color="#bdbdff"/><stop offset="41.7%" stop-color="#d9d9ff"/><stop offset="45.8%" stop-color="#f5f5ff"/><stop offset="50%" stop-color="#fffdfd"/><stop offset="54.2%" stop-color="#ffeded"/><stop offset="58.3%" stop-color="#ffc1c1"/><stop offset="62.5%" stop-color="#ff9191"/><stop offset="66.7%" stop-color="#ff5d5d"/><stop offset="70.8%" stop-color="#ff2525"/><stop offset="75%" stop-color="#f60000"/><stop offset="79.2%" stop-color="#da0000"/><stop offset="83.3%" stop-color="#be0000"/><stop offset="87.5%" stop-color="#b20000"/><stop offset="91.7%" stop-color="#aa0000"/><stop offset="95.8%" stop-color="#a20000"/><stop offset="100%" stop-color="#9c0000"/></linearGradient>
<linearGradient id="d41" x1="0" y1="0" x2="0" y2="1"><stop offset="0%" stop-color="#0000de"/><stop offset="4.2%" stop-color="#0000e1"/><stop offset="8.3%" stop-color="#0000e1"/><stop offset="12.5%" stop-color="#0000ef"/><stop offset="16.7%" stop-color="#0505ff"/><stop offset="20.8%" stop-color="#2121ff"/><stop offset="25%" stop-color="#3d3dff"/><stop offset="29.2%" stop-color="#5d5dff"/><stop offset="33.3%" stop-color="#7d7dff"/><stop offset="37.5%" stop-color="#9d9dff"/><stop offset="41.7%" stop-color="#c1c1ff"/><stop offset="45.8%" stop-color="#e5e5ff"/><stop offset="50%" stop-color="#fffdfd"/><stop offset="54.2%" stop-color="#ffdddd"/><stop offset="58.3%" stop-color="#ffa9a9"/><stop offset="62.5%" stop-color="#ff7171"/><stop offset="66.7%" stop-color="#ff3939"/><stop offset="70.8%" stop-color="#fe0000"/><stop offset="75%" stop-color="#e00000"/><stop offset="79.2%" stop-color="#c00000"/><stop offset="83.3%" stop-color="#aa0000"/><stop offset="87.5%" stop-color="#a20000"/><stop offset="91.7%" stop-color="#9a0000"/><stop offset="95.8%" stop-color="#920000"/><stop offset="100%" stop-color="#8c0000"/></linearGradient>
<linearGradient id="d42" x1="0" y1="0" x2="0" y2="1"><stop offset="0%" stop-color="#0000c5"/><stop offset="4.2%" stop-color="#0000c8"/><stop offset="8.3%" stop-color="#0000ca"/><stop offset="12.5%" stop-color="#0000cd"/><stop offset="16.7%" stop-color="#0000d8"/><stop offset="20.8%" stop-color="#0000f2"/><stop offset="25%" stop-color="#1111ff"/><stop offset="29.2%" stop-color="#3939ff"/><stop offset="33.3%" stop-color="#5d5dff"/><stop offset="37.5%" stop-color="#8989ff"/><stop offset="41.7%" stop-color="#b1b1ff"/><stop offset="45.8%" stop-color="#ddddff"/><stop offset="50%" stop-color="#fffdfd"/><stop offset="54.2%" stop-color="#ffd5d5"/><stop offset="58.3%" stop-color="#ff9595"/><stop offset="62.5%" stop-color="#ff5959"/><stop offset="66.7%" stop-color="#ff1515"/><stop offset="70.8%" stop-color="#ec0000"/><stop offset="75%" stop-color="#ce0000"/><stop offset="79.2%" stop-color="#b20000"/><stop offset="83.3%" stop-color="#a30000"/><stop offset="87.5%" stop-color="#a00000"/><stop offset="91.7%" stop-color="#9c0000"/><stop offset="95.8%" stop-color="#960000"/><stop offset="100%" stop-color="#920000"/></linearGradient>
<linearGradient id="d43" x1="0" y1="0" x2="0" y2="1"><stop offset="0%" stop-color="#0000b1"/><stop offset="4.2%" stop-color="#0000b4"/><stop offset="8.3%" stop-color="#0000ba"/><stop offset="12.5%" stop-color="#0000bc"/><stop offset="16.7%" stop-color="#0000c2"/><stop offset="20.8%" stop-color="#0000d3"/><stop offset="25%" stop-color="#0000ef"/><stop offset="29.2%" stop-color="#1515ff"/><stop offset="33.3%" stop-color="#4545ff"/><stop offset="37.5%" stop-color="#7575ff"/><stop offset="41.7%" stop-color="#a9a9ff"/><stop offset="45.8%" stop-color="#ddddff"/><stop offset="50%" stop-color="#fffdfd"/><stop offset="54.2%" stop-color="#ffd5d5"/><stop offset="58.3%" stop-color="#ff9999"/><stop offset="62.5%" stop-color="#ff6161"/><stop offset="66.7%" stop-color="#ff2d2d"/><stop offset="70.8%" stop-color="#fa0000"/><stop offset="75%" stop-color="#e00000"/><stop offset="79.2%" stop-color="#c80000"/><stop offset="83.3%" stop-color="#ae0000"/><stop offset="87.5%" stop-color="#aa0000"/><stop offset="91.7%" stop-color="#a60000"/><stop offset="95.8%" stop-color="#a20000"/><stop offset="100%" stop-color="#9e0000"/></linearGradient>
<linearGradient id="d44" x1="0" y1="0" x2="0" y2="1"><stop offset="0%" stop-color="#0000a0"/><stop offset="4.2%" stop-color="#0000a3"/><stop offset="8.3%" stop-color="#0000ac"/><stop offset="12.5%" stop-color="#0000b4"/><stop offset="16.7%" stop-color="#0000bc"/><stop offset="20.8%" stop-color="#0000d3"/><stop offset="25%" stop-color="#0000f7"/><stop offset="29.2%" stop-color="#2525ff"/><stop offset="33.3%" stop-color="#5555ff"/><stop offset="37.5%" stop-color="#8585ff"/><stop offset="41.7%" stop-color="#b5b5ff"/><stop offset="45.8%" stop-color="#e1e1ff"/><stop offset="50%" stop-color="#fffdfd"/><stop offset="54.2%" stop-color="#ffdddd"/><stop offset="58.3%" stop-color="#ffa5a5"/><stop offset="62.5%" stop-color="#ff7575"/><stop offset="66.7%" stop-color="#ff4141"/><stop offset="70.8%" stop-color="#ff1111"/><stop offset="75%" stop-color="#f20000"/><stop offset="79.2%" stop-color="#dc0000"/><stop offset="83.3%" stop-color="#c80000"/><stop offset="87.5%" stop-color="#b60000"/><stop offset="91.7%" stop-color="#b30000"/><stop offset="95.8%" stop-color="#b20000"/><stop offset="100%" stop-color="#ae0000"/></linearGradient>
<linearGradient id="d45" x1="0" y1="0" x2="0" y2="1"><stop offset="0%" stop-color="#0000a9"/><stop offset="4.2%" stop-color="#0000b1"/><stop offset="8.3%" stop-color="#0000ba"/><stop offset="12.5%" stop-color="#0000bf"/><stop offset="16.7%" stop-color="#0000c8"/><stop offset="20.8%" stop-color="#0000e9"/><stop offset="25%" stop-color="#1111ff"/><stop offset="29.2%" stop-color="#3d3dff"/><stop offset="33.3%" stop-color="#6969ff"/><stop offset="37.5%" stop-color="#9595ff"/><stop offset="41.7%" stop-color="#bdbdff"/><stop offset="45.8%" stop-color="#e9e9ff"/><stop offset="50%" stop-color="#fffdfd"/><stop offset="54.2%" stop-color="#ffe5e5"/><stop offset="58.3%" stop-color="#ffb9b9"/><stop offset="62.5%" stop-color="#ff9191"/><stop offset="66.7%" stop-color="#ff6565"/><stop offset="70.8%" stop-color="#ff3d3d"/><stop offset="75%" stop-color="#ff1515"/><stop offset="79.2%" stop-color="#f80000"/><stop offset="83.3%" stop-color="#e30000"/><stop offset="87.5%" stop-color="#d20000"/><stop offset="91.7%" stop-color="#c30000"/><stop offset="95.8%" stop-color="#c20000"/><stop offset="100%" stop-color="#c00000"/></linearGradient>
<linearGradient id="d46" x1="0" y1="0" x2="0" y2="1"><stop offset="0%" stop-color="#0000b7"/><stop offset="4.2%" stop-color="#0000bc"/><stop offset="8.3%" stop-color="#0000c5"/><stop offset="12.5%" stop-color="#0000cd"/><stop offset="16.7%" stop-color="#0000e4"/><stop offset="20.8%" stop-color="#0909ff"/><stop offset="25%" stop-color="#3535ff"/><stop offset="29.2%" stop-color="#5d5dff"/><stop offset="33.3%" stop-color="#8585ff"/><stop offset="37.5%" stop-color="#adadff"/><stop offset="41.7%" stop-color="#d1d1ff"/><stop offset="45.8%" stop-color="#f1f1ff"/><stop offset="50%" stop-color="#fffdfd"/><stop offset="54.2%" stop-color="#fff1f1"/><stop offset="58.3%" stop-color="#ffcdcd"/><stop offset="62.5%" stop-color="#ffadad"/><stop offset="66.7%" stop-color="#ff8989"/><stop offset="70.8%" stop-color="#ff6565"/><stop offset="75%" stop-color="#ff4141"/><stop offset="79.2%" stop-color="#ff2121"/><stop offset="83.3%" stop-color="#ff0101"/><stop offset="87.5%" stop-color="#ee0000"/><stop offset="91.7%" stop-color="#de0000"/><stop offset="95.8%" stop-color="#d00000"/><stop offset="100%" stop-color="#ce0000"/></linearGradient>
<linearGradient id="d47" x1="0" y1="0" x2="0" y2="1"><stop offset="0%" stop-color="#0000ca"/><stop offset="4.2%" stop-color="#0000d0"/><stop offset="8.3%" stop-color="#0000d8"/><stop offset="12.5%" stop-color="#0000e9"/><stop offset="16.7%" stop-color="#0909ff"/><stop offset="20.8%" stop-color="#3131ff"/><stop offset="25%" stop-color="#5959ff"/><stop offset="29.2%" stop-color="#7d7dff"/><stop offset="33.3%" stop-color="#a1a1ff"/><stop offset="37.5%" stop-color="#c1c1ff"/><stop offset="41.7%" stop-color="#e1e1ff"/><stop offset="45.8%" stop-color="#f9f9ff"/><stop offset="50%" stop-color="#fffdfd"/><stop offset="54.2%" stop-color="#fffdfd"/><stop offset="58.3%" stop-color="#ffe1e1"/><stop offset="62.5%" stop-color="#ffc5c5"/><stop offset="66.7%" stop-color="#ffa9a9"/><stop offset="70.8%" stop-color="#ff8d8d"/><stop offset="75%" stop-color="#ff7171"/><stop offset="79.2%" stop-color="#ff5151"/><stop offset="83.3%" stop-color="#ff3131"/><stop offset="87.5%" stop-color="#ff1515"/><stop offset="91.7%" stop-color="#f80000"/><stop offset="95.8%" stop-color="#e80000"/><stop offset="100%" stop-color="#dc0000"/></linearGradient>
<linearGradient id="d48" x1="0" y1="0" x2="0" y2="1"><stop offset="0%" stop-color="#0000db"/><stop offset="4.2%" stop-color="#0000e4"/><stop offset="8.3%" stop-color="#0000ef"/><stop offset="12.5%" stop-color="#0d0dff"/><stop offset="16.7%" stop-color="#3535ff"/><stop offset="20.8%" stop-color="#5959ff"/><stop offset="25%" stop-color="#7d7dff"/><stop offset="29.2%" stop-color="#9d9dff"/><stop offset="33.3%" stop-color="#bdbdff"/><stop offset="37.5%" stop-color="#d9d9ff"/><stop offset="41.7%" stop-color="#ededff"/><stop offset="45.8%" stop-color="#fdfdff"/><stop offset="50%" stop-color="#fffdfd"/><stop offset="54.2%" stop-color="#fffdfd"/><stop offset="58.3%" stop-color="#fff1f1"/><stop offset="62.5%" stop-color="#ffdddd"/><stop offset="66.7%" stop-color="#ffc9c9"/><stop offset="70.8%" stop-color="#ffb1b1"/><stop offset="75%" stop-color="#ff9595"/><stop offset="79.2%" stop-color="#ff7d7d"/><stop offset="83.3%" stop-color="#ff5d5d"/><stop offset="87.5%" stop-color="#ff3939"/><stop offset="91.7%" stop-color="#ff1919"/><stop offset="95.8%" stop-color="#f80000"/><stop offset="100%" stop-color="#e60000"/></linearGradient>
<linearGradient id="d49" x1="0" y1="0" x2="0" y2="1"><stop offset="0%" stop-color="#0000ec"/><stop offset="4.2%" stop-color="#0000f4"/><stop offset="8.3%" stop-color="#1515ff"/><stop offset="12.5%" stop-color="#3939ff"/><stop offset="16.7%" stop-color="#5d5dff"/><stop offset="20.8%" stop-color="#7d7dff"/><stop offset="25%" stop-color="#9d9dff"/><stop offset="29.2%" stop-color="#b9b9ff"/><stop offset="33.3%" stop-color="#d1d1ff"/><stop offset="37.5%" stop-color="#e9e9ff"/><stop offset="41.7%" stop-color="#f9f9ff"/><stop offset="45.8%" stop-color="#fffdfd"/><stop offset="50%" stop-color="#fffdfd"/><stop offset="54.2%" stop-color="#fffdfd"/><stop offset="58.3%" stop-color="#fff9f9"/><stop offset="62.5%" stop-color="#ffe9e9"/><stop offset="66.7%" stop-color="#ffd1d1"/><stop offset="70.8%" stop-color="#ffbdbd"/><stop offset="75%" stop-color="#ffa1a1"/><stop offset="79.2%" stop-color="#ff8585"/><stop offset="83.3%" stop-color="#ff6565"/><stop offset="87.5%" stop-color="#ff4545"/><stop offset="91.7%" stop-color="#ff2121"/><stop offset="95.8%" stop-color="#fe0000"/><stop offset="100%" stop-color="#ea0000"/></linearGradient>
<linearGradient id="d50" x1="0" y1="0" x2="0" y2="1"><stop offset="0%" stop-color="#0000fd"/><stop offset="4.2%" stop-color="#1d1dff"/><stop offset="8.3%" stop-color="#4141ff"/><stop offset="12.5%" stop-color="#6161ff"/><stop offset="16.7%" stop-color="#7d7dff"/><stop offset="20.8%" stop-color="#9999ff"/><stop offset="25%" stop-color="#b1b1ff"/><stop offset="29.2%" stop-color="#c9c9ff"/><stop offset="33.3%" stop-color="#ddddff"/><stop offset="37.5%" stop-color="#ededff"/><stop offset="41.7%" stop-color="#f9f9ff"/><stop offset="45.8%" stop-color="#fffdfd"/><stop offset="50%" stop-color="#fffdfd"/><stop offset="54.2%" stop-color="#fffdfd"/><stop offset="58.3%" stop-color="#fff9f9"/><stop offset="62.5%" stop-color="#ffe9e9"/><stop offset="66.7%" stop-color="#ffd9d9"/><stop offset="70.8%" stop-color="#ffc1c1"/><stop offset="75%" stop-color="#ffa9a9"/><stop offset="79.2%" stop-color="#ff8d8d"/><stop offset="83.3%" stop-color="#ff6d6d"/><stop offset="87.5%" stop-color="#ff4d4d"/><stop offset="91.7%" stop-color="#ff2929"/><stop offset="95.8%" stop-color="#ff0505"/><stop offset="100%" stop-color="#ee0000"/></linearGradient>
<linearGradient id="d51" x1="0" y1="0" x2="0" y2="1"><stop offset="0%" stop-color="#0909ff"/><stop offset="4.2%" stop-color="#2929ff"/><stop offset="8.3%" stop-color="#4949ff"/><stop offset="12.5%" stop-color="#6969ff"/><stop offset="16.7%" stop-color="#8585ff"/><stop offset="20.8%" stop-color="#9d9dff"/><stop offset="25%" stop-color="#b5b5ff"/><stop offset="29.2%" stop-color="#cdcdff"/><stop offset="33.3%" stop-color="#e1e1ff"/><stop offset="37.5%" stop-color="#f1f1ff"/><stop offset="41.7%" stop-color="#fdfdff"/><stop offset="45.8%" stop-color="#fffdfd"/><stop offset="50%" stop-color="#fffdfd"/><stop offset="54.2%" stop-color="#fffdfd"/><stop offset="58.3%" stop-color="#fff9f9"/><stop offset="62.5%" stop-color="#ffeded"/><stop offset="66.7%" stop-color="#ffdddd"/><stop offset="70.8%" stop-color="#ffc5c5"/><stop offset="75%" stop-color="#ffadad"/><stop offset="79.2%" stop-color="#ff9191"/><stop offset="83.3%" stop-color="#ff6d6d"/><stop offset="87.5%" stop-color="#ff4d4d"/><stop offset="91.7%" stop-color="#ff2525"/><stop offset="95.8%" stop-color="#ff0101"/><stop offset="100%" stop-color="#ea0000"/></linearGradient>
<linearGradient id="d52" x1="0" y1="0" x2="0" y2="1"><stop offset="0%" stop-color="#1111ff"/><stop offset="4.2%" stop-color="#3131ff"/><stop offset="8.3%" stop-color="#5151ff"/><stop offset="12.5%" stop-color="#6d6dff"/><stop offset="16.7%" stop-color="#8989ff"/><stop offset="20.8%" stop-color="#a5a5ff"/><stop offset="25%" stop-color="#bdbdff"/><stop offset="29.2%" stop-color="#d1d1ff"/><stop offset="33.3%" stop-color="#e5e5ff"/><stop offset="37.5%" stop-color="#f1f1ff"/><stop offset="41.7%" stop-color="#fdfdff"/><stop offset="45.8%" stop-color="#fffdfd"/><stop offset="50%" stop-color="#fffdfd"/><stop offset="54.2%" stop-color="#fffdfd"/><stop offset="58.3%" stop-color="#fff9f9"/><stop offset="62.5%" stop-color="#ffeded"/><stop offset="66.7%" stop-color="#ffd9d9"/><stop offset="70.8%" stop-color="#ffc1c1"/><stop offset="75%" stop-color="#ffa5a5"/><stop offset="79.2%" stop-color="#ff8585"/><stop offset="83.3%" stop-color="#ff6565"/><stop offset="87.5%" stop-color="#ff4141"/><stop offset="91.7%" stop-color="#ff1d1d"/><stop offset="95.8%" stop-color="#fa0000"/><stop offset="100%" stop-color="#e30000"/></linearGradient>
<linearGradient id="d53" x1="0" y1="0" x2="0" y2="1"><stop offset="0%" stop-color="#1919ff"/><stop offset="4.2%" stop-color="#3939ff"/><stop offset="8.3%" stop-color="#5555ff"/><stop offset="12.5%" stop-color="#7171ff"/><stop offset="16.7%" stop-color="#8d8dff"/><stop offset="20.8%" stop-color="#a5a5ff"/><stop offset="25%" stop-color="#b9b9ff"/><stop offset="29.2%" stop-color="#cdcdff"/><stop offset="33.3%" stop-color="#e1e1ff"/><stop offset="37.5%" stop-color="#f1f1ff"/><stop offset="41.7%" stop-color="#f9f9ff"/><stop offset="45.8%" stop-color="#fffdfd"/><stop offset="50%" stop-color="#fffdfd"/><stop offset="54.2%" stop-color="#fffdfd"/><stop offset="58.3%" stop-color="#fff9f9"/><stop offset="62.5%" stop-color="#ffe9e9"/><stop offset="66.7%" stop-color="#ffd5d5"/><stop offset="70.8%" stop-color="#ffb9b9"/><stop offset="75%" stop-color="#ff9d9d"/><stop offset="79.2%" stop-color="#ff7d7d"/><stop offset="83.3%" stop-color="#ff5d5d"/><stop offset="87.5%" stop-color="#ff3939"/><stop offset="91.7%" stop-color="#ff1111"/><stop offset="95.8%" stop-color="#f40000"/><stop offset="100%" stop-color="#e00000"/></linearGradient>
<linearGradient id="d54" x1="0" y1="0" x2="0" y2="1"><stop offset="0%" stop-color="#1111ff"/><stop offset="4.2%" stop-color="#3131ff"/><stop offset="8.3%" stop-color="#4d4dff"/><stop offset="12.5%" stop-color="#6969ff"/><stop offset="16.7%" stop-color="#8585ff"/><stop offset="20.8%" stop-color="#9d9dff"/><stop offset="25%" stop-color="#b5b5ff"/><stop offset="29.2%" stop-color="#c9c9ff"/><stop offset="33.3%" stop-color="#ddddff"/><stop offset="37.5%" stop-color="#ededff"/><stop offset="41.7%" stop-color="#f9f9ff"/><stop offset="45.8%" stop-color="#fffdfd"/><stop offset="50%" stop-color="#fffdfd"/><stop offset="54.2%" stop-color="#fffdfd"/><stop offset="58.3%" stop-color="#fff9f9"/><stop offset="62.5%" stop-color="#ffe5e5"/><stop offset="66.7%" stop-color="#ffcdcd"/><stop offset="70.8%" stop-color="#ffb1b1"/><stop offset="75%" stop-color="#ff9191"/><stop offset="79.2%" stop-color="#ff6d6d"/><stop offset="83.3%" stop-color="#ff4545"/><stop offset="87.5%" stop-color="#ff1d1d"/><stop offset="91.7%" stop-color="#f80000"/><stop offset="95.8%" stop-color="#e20000"/><stop offset="100%" stop-color="#d00000"/></linearGradient>
<linearGradient id="d55" x1="0" y1="0" x2="0" y2="1"><stop offset="0%" stop-color="#0909ff"/><stop offset="4.2%" stop-color="#2525ff"/><stop offset="8.3%" stop-color="#4545ff"/><stop offset="12.5%" stop-color="#6161ff"/><stop offset="16.7%" stop-color="#7d7dff"/><stop offset="20.8%" stop-color="#9595ff"/><stop offset="25%" stop-color="#adadff"/><stop offset="29.2%" stop-color="#c5c5ff"/><stop offset="33.3%" stop-color="#d9d9ff"/><stop offset="37.5%" stop-color="#e9e9ff"/><stop offset="41.7%" stop-color="#f5f5ff"/><stop offset="45.8%" stop-color="#fffdfd"/><stop offset="50%" stop-color="#fffdfd"/><stop offset="54.2%" stop-color="#fffdfd"/><stop offset="58.3%" stop-color="#fff1f1"/><stop offset="62.5%" stop-color="#ffd5d5"/><stop offset="66.7%" stop-color="#ffb9b9"/><stop offset="70.8%" stop-color="#ff9595"/><stop offset="75%" stop-color="#ff7171"/><stop offset="79.2%" stop-color="#ff4d4d"/><stop offset="83.3%" stop-color="#ff2121"/><stop offset="87.5%" stop-color="#fc0000"/><stop offset="91.7%" stop-color="#e60000"/><stop offset="95.8%" stop-color="#d00000"/><stop offset="100%" stop-color="#c20000"/></linearGradient>
<linearGradient id="d56" x1="0" y1="0" x2="0" y2="1"><stop offset="0%" stop-color="#0000fd"/><stop offset="4.2%" stop-color="#1919ff"/><stop offset="8.3%" stop-color="#3535ff"/><stop offset="12.5%" stop-color="#4d4dff"/><stop offset="16.7%" stop-color="#6969ff"/><stop offset="20.8%" stop-color="#8181ff"/><stop offset="25%" stop-color="#9999ff"/><stop offset="29.2%" stop-color="#adadff"/><stop offset="33.3%" stop-color="#c5c5ff"/><stop offset="37.5%" stop-color="#d9d9ff"/><stop offset="41.7%" stop-color="#ededff"/><stop offset="45.8%" stop-color="#fdfdff"/><stop offset="50%" stop-color="#fffdfd"/><stop offset="54.2%" stop-color="#fff9f9"/><stop offset="58.3%" stop-color="#ffe1e1"/><stop offset="62.5%" stop-color="#ffc1c1"/><stop offset="66.7%" stop-color="#ff9d9d"/><stop offset="70.8%" stop-color="#ff7979"/><stop offset="75%" stop-color="#ff4d4d"/><stop offset="79.2%" stop-color="#ff2121"/><stop offset="83.3%" stop-color="#fa0000"/><stop offset="87.5%" stop-color="#e00000"/><stop offset="91.7%" stop-color="#c60000"/><stop offset="95.8%" stop-color="#ac0000"/><stop offset="100%" stop-color="#a00000"/></linearGradient>
<linearGradient id="d57" x1="0" y1="0" x2="0" y2="1"><stop offset="0%" stop-color="#0000e6"/><stop offset="4.2%" stop-color="#0000f4"/><stop offset="8.3%" stop-color="#0d0dff"/><stop offset="12.5%" stop-color="#2929ff"/><stop offset="16.7%" stop-color="#4545ff"/><stop offset="20.8%" stop-color="#6161ff"/><stop offset="25%" stop-color="#7979ff"/><stop offset="29.2%" stop-color="#9191ff"/><stop offset="33.3%" stop-color="#adadff"/><stop offset="37.5%" stop-color="#c5c5ff"/><stop offset="41.7%" stop-color="#ddddff"/><stop offset="45.8%" stop-color="#f5f5ff"/><stop offset="50%" stop-color="#fffdfd"/><stop offset="54.2%" stop-color="#fff1f1"/><stop offset="58.3%" stop-color="#ffd1d1"/><stop offset="62.5%" stop-color="#ffa9a9"/><stop offset="66.7%" stop-color="#ff8181"/><stop offset="70.8%" stop-color="#ff5151"/><stop offset="75%" stop-color="#ff2121"/><stop offset="79.2%" stop-color="#f60000"/><stop offset="83.3%" stop-color="#da0000"/><stop offset="87.5%" stop-color="#be0000"/><stop offset="91.7%" stop-color="#a00000"/><stop offset="95.8%" stop-color="#860000"/><stop offset="100%" stop-color="#800000"/></linearGradient>
<linearGradient id="d58" x1="0" y1="0" x2="0" y2="1"><stop offset="0%" stop-color="#0000d0"/><stop offset="4.2%" stop-color="#0000d8"/><stop offset="8.3%" stop-color="#0000e9"/><stop offset="12.5%" stop-color="#0000fd"/><stop offset="16.7%" stop-color="#1919ff"/><stop offset="20.8%" stop-color="#3535ff"/><stop offset="25%" stop-color="#5151ff"/><stop offset="29.2%" stop-color="#7171ff"/><stop offset="33.3%" stop-color="#9191ff"/><stop offset="37.5%" stop-color="#b1b1ff"/><stop offset="41.7%" stop-color="#d1d1ff"/><stop offset="45.8%" stop-color="#ededff"/><stop offset="50%" stop-color="#fffdfd"/><stop offset="54.2%" stop-color="#ffe9e9"/><stop offset="58.3%" stop-color="#ffc1c1"/><stop offset="62.5%" stop-color="#ff9191"/><stop offset="66.7%" stop-color="#ff6161"/><stop offset="70.8%" stop-color="#ff3131"/><stop offset="75%" stop-color="#fe0000"/><stop offset="79.2%" stop-color="#e30000"/><stop offset="83.3%" stop-color="#c80000"/><stop offset="87.5%" stop-color="#ac0000"/><stop offset="91.7%" stop-color="#8e0000"/><stop offset="95.8%" stop-color="#800000"/><stop offset="100%" stop-color="#800000"/></linearGradient>
<linearGradient id="d59" x1="0" y1="0" x2="0" y2="1"><stop offset="0%" stop-color="#0000a0"/><stop offset="4.2%" stop-color="#0000a0"/><stop offset="8.3%" stop-color="#0000b7"/><stop offset="12.5%" stop-color="#0000cd"/><stop offset="16.7%" stop-color="#0000e6"/><stop offset="20.8%" stop-color="#0101ff"/><stop offset="25%" stop-color="#2525ff"/><stop offset="29.2%" stop-color="#4d4dff"/><stop offset="33.3%" stop-color="#7575ff"/><stop offset="37.5%" stop-color="#9d9dff"/><stop offset="41.7%" stop-color="#c5c5ff"/><stop offset="45.8%" stop-color="#e9e9ff"/><stop offset="50%" stop-color="#fffdfd"/><stop offset="54.2%" stop-color="#ffe5e5"/><stop offset="58.3%" stop-color="#ffbdbd"/><stop offset="62.5%" stop-color="#ff8d8d"/><stop offset="66.7%" stop-color="#ff5959"/><stop offset="70.8%" stop-color="#ff2525"/><stop offset="75%" stop-color="#f80000"/><stop offset="79.2%" stop-color="#dc0000"/><stop offset="83.3%" stop-color="#be0000"/><stop offset="87.5%" stop-color="#a20000"/><stop offset="91.7%" stop-color="#820000"/><stop offset="95.8%" stop-color="#800000"/><stop offset="100%" stop-color="#800000"/></linearGradient>
<linearGradient id="d60" x1="0" y1="0" x2="0" y2="1"><stop offset="0%" stop-color="#00006e"/><stop offset="4.2%" stop-color="#00006e"/><stop offset="8.3%" stop-color="#00008d"/><stop offset="12.5%" stop-color="#0000ac"/><stop offset="16.7%" stop-color="#0000ca"/><stop offset="20.8%" stop-color="#0000e9"/><stop offset="25%" stop-color="#0d0dff"/><stop offset="29.2%" stop-color="#3d3dff"/><stop offset="33.3%" stop-color="#6969ff"/><stop offset="37.5%" stop-color="#9595ff"/><stop offset="41.7%" stop-color="#c1c1ff"/><stop offset="45.8%" stop-color="#e5e5ff"/><stop offset="50%" stop-color="#fffdfd"/><stop offset="54.2%" stop-color="#ffe5e5"/><stop offset="58.3%" stop-color="#ffb9b9"/><stop offset="62.5%" stop-color="#ff8989"/><stop offset="66.7%" stop-color="#ff5555"/><stop offset="70.8%" stop-color="#ff1d1d"/><stop offset="75%" stop-color="#f20000"/><stop offset="79.2%" stop-color="#d30000"/><stop offset="83.3%" stop-color="#b60000"/><stop offset="87.5%" stop-color="#960000"/><stop offset="91.7%" stop-color="#800000"/><stop offset="95.8%" stop-color="#800000"/><stop offset="100%" stop-color="#800000"/></linearGradient>
<linearGradient id="d61" x1="0" y1="0" x2="0" y2="1"><stop offset="0%" stop-color="#00004c"/><stop offset="4.2%" stop-color="#000052"/><stop offset="8.3%" stop-color="#000074"/><stop offset="12.5%" stop-color="#000095"/><stop offset="16.7%" stop-color="#0000b7"/><stop offset="20.8%" stop-color="#0000db"/><stop offset="25%" stop-color="#0000fd"/><stop offset="29.2%" stop-color="#3131ff"/><stop offset="33.3%" stop-color="#5d5dff"/><stop offset="37.5%" stop-color="#8d8dff"/><stop offset="41.7%" stop-color="#b9b9ff"/><stop offset="45.8%" stop-color="#e5e5ff"/><stop offset="50%" stop-color="#fffdfd"/><stop offset="54.2%" stop-color="#ffe5e5"/><stop offset="58.3%" stop-color="#ffb5b5"/><stop offset="62.5%" stop-color="#ff8181"/><stop offset="66.7%" stop-color="#ff4949"/><stop offset="70.8%" stop-color="#ff1111"/><stop offset="75%" stop-color="#ea0000"/><stop offset="79.2%" stop-color="#ca0000"/><stop offset="83.3%" stop-color="#a80000"/><stop offset="87.5%" stop-color="#860000"/><stop offset="91.7%" stop-color="#800000"/><stop offset="95.8%" stop-color="#800000"/><stop offset="100%" stop-color="#800000"/></linearGradient>
<linearGradient id="d62" x1="0" y1="0" x2="0" y2="1"><stop offset="0%" stop-color="#00004c"/><stop offset="4.2%" stop-color="#00004c"/><stop offset="8.3%" stop-color="#00005a"/><stop offset="12.5%" stop-color="#000082"/><stop offset="16.7%" stop-color="#0000a6"/><stop offset="20.8%" stop-color="#0000ca"/><stop offset="25%" stop-color="#0000ef"/><stop offset="29.2%" stop-color="#1d1dff"/><stop offset="33.3%" stop-color="#5151ff"/><stop offset="37.5%" stop-color="#8585ff"/><stop offset="41.7%" stop-color="#b5b5ff"/><stop offset="45.8%" stop-color="#e1e1ff"/><stop offset="50%" stop-color="#fffdfd"/><stop offset="54.2%" stop-color="#ffe1e1"/><stop offset="58.3%" stop-color="#ffb1b1"/><stop offset="62.5%" stop-color="#ff7979"/><stop offset="66.7%" stop-color="#ff3d3d"/><stop offset="70.8%" stop-color="#ff0101"/><stop offset="75%" stop-color="#e00000"/><stop offset="79.2%" stop-color="#be0000"/><stop offset="83.3%" stop-color="#9c0000"/><stop offset="87.5%" stop-color="#800000"/><stop offset="91.7%" stop-color="#800000"/><stop offset="95.8%" stop-color="#800000"/><stop offset="100%" stop-color="#800000"/></linearGradient>
<linearGradient id="d63" x1="0" y1="0" x2="0" y2="1"><stop offset="0%" stop-color="#00004c"/><stop offset="4.2%" stop-color="#00004c"/><stop offset="8.3%" stop-color="#00004c"/><stop offset="12.5%" stop-color="#000068"/><stop offset="16.7%" stop-color="#000092"/><stop offset="20.8%" stop-color="#0000ba"/><stop offset="25%" stop-color="#0000e1"/><stop offset="29.2%" stop-color="#0d0dff"/><stop offset="33.3%" stop-color="#4545ff"/><stop offset="37.5%" stop-color="#7d7dff"/><stop offset="41.7%" stop-color="#b1b1ff"/><stop offset="45.8%" stop-color="#e1e1ff"/><stop offset="50%" stop-color="#fffdfd"/><stop offset="54.2%" stop-color="#ffe1e1"/><stop offset="58.3%" stop-color="#ffadad"/><stop offset="62.5%" stop-color="#ff7171"/><stop offset="66.7%" stop-color="#ff3535"/><stop offset="70.8%" stop-color="#fa0000"/><stop offset="75%" stop-color="#d80000"/><stop offset="79.2%" stop-color="#b60000"/><stop offset="83.3%" stop-color="#930000"/><stop offset="87.5%" stop-color="#800000"/><stop offset="91.7%" stop-color="#800000"/><stop offset="95.8%" stop-color="#800000"/><stop offset="100%" stop-color="#800000"/></linearGradient>
<linearGradient id="d64" x1="0" y1="0" x2="0" y2="1"><stop offset="0%" stop-color="#00004c"/><stop offset="4.2%" stop-color="#00004c"/><stop offset="8.3%" stop-color="#00004c"/><stop offset="12.5%" stop-color="#000052"/><stop offset="16.7%" stop-color="#00007f"/><stop offset="20.8%" stop-color="#0000a9"/><stop offset="25%" stop-color="#0000d3"/><stop offset="29.2%" stop-color="#0101ff"/><stop offset="33.3%" stop-color="#3d3dff"/><stop offset="37.5%" stop-color="#7575ff"/><stop offset="41.7%" stop-color="#adadff"/><stop offset="45.8%" stop-color="#e1e1ff"/><stop offset="50%" stop-color="#fffdfd"/><stop offset="54.2%" stop-color="#ffdddd"/><stop offset="58.3%" stop-color="#ffa9a9"/><stop offset="62.5%" stop-color="#ff6d6d"/><stop offset="66.7%" stop-color="#ff3131"/><stop offset="70.8%" stop-color="#f60000"/><stop offset="75%" stop-color="#d30000"/><stop offset="79.2%" stop-color="#b20000"/><stop offset="83.3%" stop-color="#8e0000"/><stop offset="87.5%" stop-color="#800000"/><stop offset="91.7%" stop-color="#800000"/><stop offset="95.8%" stop-color="#800000"/><stop offset="100%" stop-color="#800000"/></linearGradient>
<linearGradient id="d65" x1="0" y1="0" x2="0" y2="1"><stop offset="0%" stop-color="#00004c"/><stop offset="4.2%" stop-color="#00004c"/><stop offset="8.3%" stop-color="#00004c"/><stop offset="12.5%" stop-color="#00004c"/><stop offset="16.7%" stop-color="#000071"/><stop offset="20.8%" stop-color="#0000a0"/><stop offset="25%" stop-color="#0000cd"/><stop offset="29.2%" stop-color="#0000fa"/><stop offset="33.3%" stop-color="#3535ff"/><stop offset="37.5%" stop-color="#7171ff"/><stop offset="41.7%" stop-color="#a9a9ff"/><stop offset="45.8%" stop-color="#ddddff"/><stop offset="50%" stop-color="#fffdfd"/><stop offset="54.2%" stop-color="#ffdddd"/><stop offset="58.3%" stop-color="#ffa5a5"/><stop offset="62.5%" stop-color="#ff6969"/><stop offset="66.7%" stop-color="#ff2929"/><stop offset="70.8%" stop-color="#f20000"/><stop offset="75%" stop-color="#d00000"/><stop offset="79.2%" stop-color="#ac0000"/><stop offset="83.3%" stop-color="#860000"/><stop offset="87.5%" stop-color="#800000"/><stop offset="91.7%" stop-color="#800000"/><stop offset="95.8%" stop-color="#800000"/><stop offset="100%" stop-color="#800000"/></linearGradient>
<linearGradient id="d66" x1="0" y1="0" x2="0" y2="1"><stop offset="0%" stop-color="#00004c"/><stop offset="4.2%" stop-color="#00004c"/><stop offset="8.3%" stop-color="#00004c"/><stop offset="12.5%" stop-color="#00004c"/><stop offset="16.7%" stop-color="#000068"/><stop offset="20.8%" stop-color="#000095"/><stop offset="25%" stop-color="#0000c5"/><stop offset="29.2%" stop-color="#0000f2"/><stop offset="33.3%" stop-color="#2d2dff"/><stop offset="37.5%" stop-color="#6d6dff"/><stop offset="41.7%" stop-color="#a9a9ff"/><stop offset="45.8%" stop-color="#ddddff"/><stop offset="50%" stop-color="#fffdfd"/><stop offset="54.2%" stop-color="#ffdddd"/><stop offset="58.3%" stop-color="#ffa5a5"/><stop offset="62.5%" stop-color="#ff6565"/><stop offset="66.7%" stop-color="#ff2525"/><stop offset="70.8%" stop-color="#f00000"/><stop offset="75%" stop-color="#cc0000"/><stop offset="79.2%" stop-color="#a60000"/><stop offset="83.3%" stop-color="#800000"/><stop offset="87.5%" stop-color="#800000"/><stop offset="91.7%" stop-color="#800000"/><stop offset="95.8%" stop-color="#800000"/><stop offset="100%" stop-color="#800000"/></linearGradient>
<linearGradient id="d67" x1="0" y1="0" x2="0" y2="1"><stop offset="0%" stop-color="#00004c"/><stop offset="4.2%" stop-color="#00004c"/><stop offset="8.3%" stop-color="#00004c"/><stop offset="12.5%" stop-color="#00004c"/><stop offset="16.7%" stop-color="#00005d"/><stop offset="20.8%" stop-color="#00008d"/><stop offset="25%" stop-color="#0000bc"/><stop offset="29.2%" stop-color="#0000ec"/><stop offset="33.3%" stop-color="#2929ff"/><stop offset="37.5%" stop-color="#6969ff"/><stop offset="41.7%" stop-color="#a5a5ff"/><stop offset="45.8%" stop-color="#ddddff"/><stop offset="50%" stop-color="#fffdfd"/><stop offset="54.2%" stop-color="#ffdddd"/><stop offset="58.3%" stop-color="#ffa1a1"/><stop offset="62.5%" stop-color="#ff6161"/><stop offset="66.7%" stop-color="#ff2121"/><stop offset="70.8%" stop-color="#ec0000"/><stop offset="75%" stop-color="#c80000"/><stop offset="79.2%" stop-color="#a20000"/><stop offset="83.3%" stop-color="#800000"/><stop offset="87.5%" stop-color="#800000"/><stop offset="91.7%" stop-color="#800000"/><stop offset="95.8%" stop-color="#800000"/><stop offset="100%" stop-color="#800000"/></linearGradient>
<linearGradient id="d68" x1="0" y1="0" x2="0" y2="1"><stop offset="0%" stop-color="#00004c"/><stop offset="4.2%" stop-color="#00004c"/><stop offset="8.3%" stop-color="#00004c"/><stop offset="12.5%" stop-color="#00004c"/><stop offset="16.7%" stop-color="#000052"/><stop offset="20.8%" stop-color="#000084"/><stop offset="25%" stop-color="#0000b7"/><stop offset="29.2%" stop-color="#0000e6"/><stop offset="33.3%" stop-color="#2121ff"/><stop offset="37.5%" stop-color="#6565ff"/><stop offset="41.7%" stop-color="#a1a1ff"/><stop offset="45.8%" stop-color="#ddddff"/><stop offset="50%" stop-color="#fffdfd"/><stop offset="54.2%" stop-color="#ffd9d9"/><stop offset="58.3%" stop-color="#ffa1a1"/><stop offset="62.5%" stop-color="#ff5d5d"/><stop offset="66.7%" stop-color="#ff1919"/><stop offset="70.8%" stop-color="#e80000"/><stop offset="75%" stop-color="#c20000"/><stop offset="79.2%" stop-color="#9c0000"/><stop offset="83.3%" stop-color="#800000"/><stop offset="87.5%" stop-color="#800000"/><stop offset="91.7%" stop-color="#800000"/><stop offset="95.8%" stop-color="#800000"/><stop offset="100%" stop-color="#800000"/></linearGradient>
<linearGradient id="d69" x1="0" y1="0" x2="0" y2="1"><stop offset="0%" stop-color="#00004c"/><stop offset="4.2%" stop-color="#00004c"/><stop offset="8.3%" stop-color="#00004c"/><stop offset="12.5%" stop-color="#00004c"/><stop offset="16.7%" stop-color="#00004c"/><stop offset="20.8%" stop-color="#00007c"/><stop offset="25%" stop-color="#0000ae"/><stop offset="29.2%" stop-color="#0000e1"/><stop offset="33.3%" stop-color="#1919ff"/><stop offset="37.5%" stop-color="#5d5dff"/><stop offset="41.7%" stop-color="#a1a1ff"/><stop offset="45.8%" stop-color="#d9d9ff"/><stop offset="50%" stop-color="#fffdfd"/><stop offset="54.2%" stop-color="#ffd9d9"/><stop offset="58.3%" stop-color="#ff9d9d"/><stop offset="62.5%" stop-color="#ff5d5d"/><stop offset="66.7%" stop-color="#ff1515"/><stop offset="70.8%" stop-color="#e60000"/><stop offset="75%" stop-color="#c00000"/><stop offset="79.2%" stop-color="#980000"/><stop offset="83.3%" stop-color="#800000"/><stop offset="87.5%" stop-color="#800000"/><stop offset="91.7%" stop-color="#800000"/><stop offset="95.8%" stop-color="#800000"/><stop offset="100%" stop-color="#800000"/></linearGradient>
<clipPath id="cd"><rect x="552.0" y="388.2" width="322.4" height="343.59999999999997"/></clipPath>
<filter id="bd" x="-5%" y="-5%" width="110%" height="110%"><feGaussianBlur stdDeviation="1.6 0.8"/></filter>
</defs>
<g clip-path="url(#cd)"><g filter="url(#bd)"><rect x="542.8" y="382.2" width="5.1" height="355.6" fill="url(#d0)"/><rect x="547.4" y="382.2" width="5.1" height="355.6" fill="url(#d0)"/><rect x="552" y="382.2" width="5.1" height="355.6" fill="url(#d0)"/><rect x="556.6" y="382.2" width="5.1" height="355.6" fill="url(#d1)"/><rect x="561.2" y="382.2" width="5.1" height="355.6" fill="url(#d2)"/><rect x="565.8" y="382.2" width="5.1" height="355.6" fill="url(#d3)"/><rect x="570.4" y="382.2" width="5.1" height="355.6" fill="url(#d4)"/><rect x="575" y="382.2" width="5.1" height="355.6" fill="url(#d5)"/><rect x="579.6" y="382.2" width="5.1" height="355.6" fill="url(#d6)"/><rect x="584.2" y="382.2" width="5.1" height="355.6" fill="url(#d7)"/><rect x="588.8" y="382.2" width="5.1" height="355.6" fill="url(#d8)"/><rect x="593.5" y="382.2" width="5.1" height="355.6" fill="url(#d9)"/><rect x="598.1" y="382.2" width="5.1" height="355.6" fill="url(#d10)"/><rect x="602.7" y="382.2" width="5.1" height="355.6" fill="url(#d11)"/><rect x="607.3" y="382.2" width="5.1" height="355.6" fill="url(#d12)"/><rect x="611.9" y="382.2" width="5.1" height="355.6" fill="url(#d13)"/><rect x="616.5" y="382.2" width="5.1" height="355.6" fill="url(#d14)"/><rect x="621.1" y="382.2" width="5.1" height="355.6" fill="url(#d15)"/><rect x="625.7" y="382.2" width="5.1" height="355.6" fill="url(#d16)"/><rect x="630.3" y="382.2" width="5.1" height="355.6" fill="url(#d17)"/><rect x="634.9" y="382.2" width="5.1" height="355.6" fill="url(#d18)"/><rect x="639.5" y="382.2" width="5.1" height="355.6" fill="url(#d19)"/><rect x="644.1" y="382.2" width="5.1" height="355.6" fill="url(#d20)"/><rect x="648.7" y="382.2" width="5.1" height="355.6" fill="url(#d21)"/><rect x="653.3" y="382.2" width="5.1" height="355.6" fill="url(#d22)"/><rect x="657.9" y="382.2" width="5.1" height="355.6" fill="url(#d23)"/><rect x="662.5" y="382.2" width="5.1" height="355.6" fill="url(#d24)"/><rect x="667.1" y="382.2" width="5.1" height="355.6" fill="url(#d25)"/><rect x="671.7" y="382.2" width="5.1" height="355.6" fill="url(#d26)"/><rect x="676.4" y="382.2" width="5.1" height="355.6" fill="url(#d27)"/><rect x="681" y="382.2" width="5.1" height="355.6" fill="url(#d28)"/><rect x="685.6" y="382.2" width="5.1" height="355.6" fill="url(#d29)"/><rect x="690.2" y="382.2" width="5.1" height="355.6" fill="url(#d30)"/><rect x="694.8" y="382.2" width="5.1" height="355.6" fill="url(#d31)"/><rect x="699.4" y="382.2" width="5.1" height="355.6" fill="url(#d32)"/><rect x="704" y="382.2" width="5.1" height="355.6" fill="url(#d33)"/><rect x="708.6" y="382.2" width="5.1" height="355.6" fill="url(#d34)"/><rect x="713.2" y="382.2" width="5.1" height="355.6" fill="url(#d35)"/><rect x="717.8" y="382.2" width="5.1" height="355.6" fill="url(#d36)"/><rect x="722.4" y="382.2" width="5.1" height="355.6" fill="url(#d37)"/><rect x="727" y="382.2" width="5.1" height="355.6" fill="url(#d38)"/><rect x="731.6" y="382.2" width="5.1" height="355.6" fill="url(#d39)"/><rect x="736.2" y="382.2" width="5.1" height="355.6" fill="url(#d40)"/><rect x="740.8" y="382.2" width="5.1" height="355.6" fill="url(#d41)"/><rect x="745.4" y="382.2" width="5.1" height="355.6" fill="url(#d42)"/><rect x="750" y="382.2" width="5.1" height="355.6" fill="url(#d43)"/><rect x="754.7" y="382.2" width="5.1" height="355.6" fill="url(#d44)"/><rect x="759.3" y="382.2" width="5.1" height="355.6" fill="url(#d45)"/><rect x="763.9" y="382.2" width="5.1" height="355.6" fill="url(#d46)"/><rect x="768.5" y="382.2" width="5.1" height="355.6" fill="url(#d47)"/><rect x="773.1" y="382.2" width="5.1" height="355.6" fill="url(#d48)"/><rect x="777.7" y="382.2" width="5.1" height="355.6" fill="url(#d49)"/><rect x="782.3" y="382.2" width="5.1" height="355.6" fill="url(#d50)"/><rect x="786.9" y="382.2" width="5.1" height="355.6" fill="url(#d51)"/><rect x="791.5" y="382.2" width="5.1" height="355.6" fill="url(#d52)"/><rect x="796.1" y="382.2" width="5.1" height="355.6" fill="url(#d53)"/><rect x="800.7" y="382.2" width="5.1" height="355.6" fill="url(#d54)"/><rect x="805.3" y="382.2" width="5.1" height="355.6" fill="url(#d55)"/><rect x="809.9" y="382.2" width="5.1" height="355.6" fill="url(#d56)"/><rect x="814.5" y="382.2" width="5.1" height="355.6" fill="url(#d57)"/><rect x="819.1" y="382.2" width="5.1" height="355.6" fill="url(#d58)"/><rect x="823.7" y="382.2" width="5.1" height="355.6" fill="url(#d59)"/><rect x="828.3" y="382.2" width="5.1" height="355.6" fill="url(#d60)"/><rect x="832.9" y="382.2" width="5.1" height="355.6" fill="url(#d61)"/><rect x="837.6" y="382.2" width="5.1" height="355.6" fill="url(#d62)"/><rect x="842.2" y="382.2" width="5.1" height="355.6" fill="url(#d63)"/><rect x="846.8" y="382.2" width="5.1" height="355.6" fill="url(#d64)"/><rect x="851.4" y="382.2" width="5.1" height="355.6" fill="url(#d65)"/><rect x="856" y="382.2" width="5.1" height="355.6" fill="url(#d66)"/><rect x="860.6" y="382.2" width="5.1" height="355.6" fill="url(#d67)"/><rect x="865.2" y="382.2" width="5.1" height="355.6" fill="url(#d68)"/><rect x="869.8" y="382.2" width="5.1" height="355.6" fill="url(#d69)"/><rect x="874.4" y="382.2" width="5.1" height="355.6" fill="url(#d69)"/><rect x="879" y="382.2" width="5.1" height="355.6" fill="url(#d69)"/></g></g>
<g stroke="#808080" stroke-width="2" fill="none">
<path d="M547,388.2 H874.4 M552,388.2 V731.8 M547,731.8 H874.4"/>
<path d="M552,731.8 v5.5 M713.7,731.8 v5.5 M874.4,731.8 v5.5 M552,560 h-5"/>
</g>
<linearGradient id="gs" x1="0" y1="0" x2="0" y2="1"><stop offset="0%" stop-color="#800000"/><stop offset="6.2%" stop-color="#9e0000"/><stop offset="12.5%" stop-color="#be0000"/><stop offset="18.8%" stop-color="#de0000"/><stop offset="25%" stop-color="#fe0000"/><stop offset="31.2%" stop-color="#ff3d3d"/><stop offset="37.5%" stop-color="#ff7d7d"/><stop offset="43.8%" stop-color="#ffbdbd"/><stop offset="50%" stop-color="#fffdfd"/><stop offset="56.2%" stop-color="#c1c1ff"/><stop offset="62.5%" stop-color="#8181ff"/><stop offset="68.8%" stop-color="#4141ff"/><stop offset="75%" stop-color="#0101ff"/><stop offset="81.2%" stop-color="#0000d3"/><stop offset="87.5%" stop-color="#0000a6"/><stop offset="93.8%" stop-color="#000079"/><stop offset="100%" stop-color="#00004c"/></linearGradient>
<rect x="883.4" y="390.0" width="16.399999999999977" height="339.6" fill="url(#gs)" stroke="#444" stroke-width="1.2"/>
<path d="M899.8,390.0 h5.5 M899.8,559.8 h5.5 M899.8,729.6 h5.5" stroke="#5a5a5a" stroke-width="1.4"/>
<g font-family="'Liberation Serif',serif" font-size="41.4" fill="#000" stroke="#000" stroke-width="0.4">
<text x="58.3" y="405.3" text-anchor="end" font-size="42.5" textLength="19.6" lengthAdjust="spacingAndGlyphs">8</text>
<text x="58.3" y="742.2" text-anchor="end" font-size="40.6">-8</text>
<text x="47" y="774.3" font-size="40.8">-0.8</text>
<text x="366" y="774.3" font-size="40.8">0.8</text>
<text x="166.5" y="774.3" font-style="italic">V</text><text x="188.8" y="785.2" font-size="29.5" textLength="35.9" lengthAdjust="spacingAndGlyphs">SG</text><text x="234.9" y="774.3" font-size="42">(V)</text>
<text x="431.5" y="405.8" font-size="40">1.2</text>
<text x="429.3" y="744.3" font-size="40.6">0.0</text>
<g transform="translate(49.4,642) rotate(-90)"><text x="0" y="0" font-style="italic">V</text><text x="28.3" y="11" font-size="29" textLength="30.2" lengthAdjust="spacingAndGlyphs">DS</text><text x="70.5" y="0" font-size="40.6">(mV)</text></g>
<text transform="translate(460,606.5) rotate(-90)">Phase</text>
<text transform="translate(512,607) rotate(-90)">(deg.)</text>
<text x="518" y="774.3" font-size="40.8">-0.8</text>
<text x="848.3" y="774.3" font-size="40.8">0.8</text>
<text x="650.3" y="774.3" font-style="italic">V</text><text x="672.6" y="785.2" font-size="29.5" textLength="35.9" lengthAdjust="spacingAndGlyphs">SG</text><text x="718.7" y="774.3" font-size="42">(V)</text>
<text x="930.5" y="404.5">50</text>
<text x="917" y="740.3">-50</text>
<g transform="translate(950.6,634.4) rotate(-90)"><text x="0" y="0" font-style="italic">I</text><text x="17.4" y="10.3" font-size="29" textLength="30.2" lengthAdjust="spacingAndGlyphs">DS</text><text x="61.6" y="0" font-size="40.5">(nA)</text></g>
</g>
<g fill="none" stroke="#000" stroke-linecap="butt">
<path d="M176,129.6 H221 M304.3,129.6 H765.8 M321.1,187.6 H373.6 M321.1,222.3 H373.6 M470.6,188.8 H523 M470.6,223.6 H523 M658.4,188.8 H710.4 M658.4,223.3 H710.4 M737.5,166.3 H794.7 M737.5,244 H794.7" stroke-width="4.0"/>
<path d="M347.3,129.6 V187.6 M347.3,222.3 V282.8 M496.8,129.6 V188.8 M496.8,223.6 V284.6 M684.4,129.6 V188.8 M684.4,223.3 V284.4 M762.9,127.6 V166.3 M762.9,244 V283 M739.9,164.3 V246 M792.3,164.3 V246" stroke-width="4.9"/>
<path d="M313.3,282.8 H381.3 M321.3,294.4 H373.3 M329.8,305.8 H364.8 M462.8,284.6 H530.8 M470.8,296.2 H522.8 M479.3,307.6 H514.3 M650.4,284.4 H718.4 M658.4,296 H710.4 M666.9,307.4 H701.9 M728.9,283.1 H796.9 M736.9,294.3 H788.4 M744.9,305.6 H779.9" stroke-width="3.9"/>
<path d="M221.5,131.4 C223,77.9 246.5,77.9 248,131.4 M248,131.4 C249.5,77.9 275.8,77.9 277.3,131.4 M277.3,131.4 C278.8,77.9 305,77.9 306.5,131.4" stroke-width="4.4"/>
</g>
<path d="M76,115.4 H169.5 Q176.3,115.4 176.3,122.4 V139 Q176.3,145.9 169.5,145.9 H76" fill="none" stroke="#5c5c5c" stroke-width="2.6"/>
<g font-family="'Liberation Serif',serif" fill="#000" stroke="#000" stroke-width="0.4">
<text x="319" y="105.3" font-size="42"><tspan font-style="italic">L</tspan> (270 nH)</text>
<text x="255.8" y="193" font-size="45.2" font-style="italic">C</text>
<text x="284.5" y="203" font-size="29">p</text>
<text x="400.8" y="193.2" font-size="45.2" font-style="italic">C</text>
<text x="429.5" y="203.2" font-size="29">p</text>
<text x="251.2" y="238.2" font-size="27.8">PCB</text>
<text x="391.8" y="238.4" font-size="27.3">Inter-</text>
<text x="392.2" y="272" font-size="27.3">poser</text>
<text x="582.3" y="191.8" font-size="44.8" font-style="italic">C</text>
<text x="609.5" y="202" font-size="28">QD</text>
<text x="818" y="191.6" font-size="42" font-style="italic">G</text>
<text x="847" y="202" font-size="28">D</text>
</g>
<clipPath id="cb"><rect x="1129" y="29.3" width="345.79999999999995" height="245.89999999999998"/></clipPath>
<g stroke="#666" stroke-width="2" fill="none">
<rect x="1129" y="29.3" width="345.79999999999995" height="245.89999999999998"/>
<path d="M1129,275.2 v6 M1301.9,275.2 v6 M1474.8,275.2 v6 M1129,29.3 h-6 M1129,152.2 h-6 M1129,275.2 h-6 M1474.8,29.3 h6 M1474.8,152.2 h6 M1474.8,275.2 h6 "/>
<path d="M1172.2,275.2 v3 M1215.5,275.2 v3 M1258.7,275.2 v3 M1345.1,275.2 v3 M1388.3,275.2 v3 M1431.6,275.2 v3 " stroke-opacity="0.45" stroke-width="1.2"/>
</g>
<path d="M1128.4,92.9 1128.9,91.9 1129.4,91.7 1129.9,91.2 1130.4,91.5 1130.9,90.3 1131.4,91.2 1131.9,90.1 1132.4,90.2 1132.9,89.7 1133.4,89.9 1133.9,88.5 1134.4,88.7 1134.9,88.4 1135.4,88.5 1135.9,87.5 1136.4,87.4 1136.9,86.9 1137.4,86.8 1137.9,86.6 1138.4,85.8 1138.9,86.1 1139.4,85.7 1139.9,85.2 1140.4,85 1140.9,84.1 1141.4,83.9 1141.9,83.3 1142.4,83.1 1142.9,83 1143.4,82.2 1143.9,82 1144.4,81.5 1144.9,81 1145.4,80.7 1145.9,80.4 1146.4,79.7 1146.9,79.7 1147.4,79.7 1147.9,78.9 1148.4,78.2 1148.9,77.5 1149.4,77.1 1149.9,77.4 1150.4,76.4 1150.9,75.8 1151.4,75.5 1151.9,75.7 1152.4,74.6 1152.9,74.3 1153.4,73.7 1153.9,73 1154.4,72.3 1154.9,72.1 1155.4,71.6 1155.9,71.4 1156.4,71 1156.9,70.6 1157.4,69.9 1157.9,69.7 1158.4,68.7 1158.9,68.9 1159.4,68.2 1159.9,67.5 1160.4,67.3 1160.9,66.8 1161.4,66.7 1161.9,66.4 1162.4,66.2 1162.9,64.7 1163.4,64.2 1163.9,64.1 1164.4,63.9 1164.9,63.7 1165.4,63.1 1165.9,62 1166.4,62.1 1166.9,62 1167.4,61.4 1167.9,61.1 1168.4,60.4 1168.9,60 1169.4,59.7 1169.9,59.4 1170.4,58.9 1170.9,58.5 1171.4,57.9 1171.9,57.8 1172.4,57.4 1172.9,57.3 1173.4,56.9 1173.9,56.2 1174.4,55.7 1174.9,55.2 1175.4,55.2 1175.9,54.7 1176.4,54.2 1176.9,54 1177.4,53.4 1177.9,53.5 1178.4,52.8 1178.9,52.9 1179.4,52.3 1179.9,52 1180.4,51.1 1180.9,51.1 1181.4,50.9 1181.9,50 1182.4,49.9 1182.9,49.6 1183.4,48.8 1183.9,49 1184.4,48.8 1184.9,48 1185.4,48 1185.9,47.2 1186.4,47.3 1186.9,46.5 1187.4,47 1187.9,46.6 1188.4,46.2 1188.9,45.7 1189.4,46.2 1189.9,46.2 1190.4,44.9 1190.9,45.6 1191.4,45.6 1191.9,45.1 1192.4,44.5 1192.9,45 1193.4,44.5 1193.9,44.3 1194.4,44 1194.9,44.4 1195.4,44.3 1195.9,43.8 1196.4,44 1196.9,43.4 1197.4,43.9 1197.9,43.6 1198.4,43.4 1198.9,43.3 1199.4,43.6 1199.9,43.4 1200.4,43.3 1200.9,43.1 1201.4,43.1 1201.9,43.2 1202.4,43 1202.9,43.1 1203.4,42.8 1203.9,42.2 1204.4,43.2 1204.9,43.6 1205.4,43.1 1205.9,43 1206.4,43.1 1206.9,43.3 1207.4,43.5 1207.9,43.3 1208.4,43.7 1208.9,43.8 1209.4,44.4 1209.9,44.5 1210.4,45 1210.9,45.1 1211.4,45.7 1211.9,45.8 1212.4,46.7 1212.9,45.8 1213.4,46.5 1213.9,47.3 1214.4,48.2 1214.9,47.7 1215.4,48.2 1215.9,48.5 1216.4,49.3 1216.9,49.3 1217.4,50.1 1217.9,50.4 1218.4,50.8 1218.9,52 1219.4,52.8 1219.9,53.8 1220.4,54.2 1220.9,54.9 1221.4,56.1 1221.9,56.9 1222.4,57.8 1222.9,58.6 1223.4,59.8 1223.9,60.4 1224.4,61.7 1224.9,62.3 1225.4,63 1225.9,63 1226.4,64.4 1226.9,65.1 1227.4,66 1227.9,66.8 1228.4,67.2 1228.9,68.3 1229.4,68.7 1229.9,70.2 1230.4,70 1230.9,70.7 1231.4,71.5 1231.9,72.4 1232.4,73.1 1232.9,74.6 1233.4,74.6 1233.9,74.9 1234.4,76.2 1234.9,76.1 1235.4,76.4 1235.9,77.4 1236.4,77.6 1236.9,77.6 1237.4,78.4 1237.9,78.3 1238.4,79 1238.9,79 1239.4,79.6 1239.9,79.4 1240.4,79.2 1240.9,80.6 1241.4,79.9 1241.9,80.2 1242.4,80.3 1242.9,80.6 1243.4,80.9 1243.9,81.1 1244.4,81.4 1244.9,81.8 1245.4,81.4 1245.9,81.1 1246.4,81.2 1246.9,81.4 1247.4,81.2 1247.9,81.9 1248.4,81.5 1248.9,81.6 1249.4,81.6 1249.9,81.1 1250.4,81.2 1250.9,81.6 1251.4,81.5 1251.9,81 1252.4,81.6 1252.9,80.5 1253.4,80.6 1253.9,80.5 1254.4,79.5 1254.9,80.7 1255.4,80 1255.9,79.4 1256.4,80.1 1256.9,79.5 1257.4,79.2 1257.9,78.6 1258.4,78.6 1258.9,77.9 1259.4,78.3 1259.9,77.8 1260.4,77.7 1260.9,77.7 1261.4,77.2 1261.9,77 1262.4,76.8 1262.9,76.2 1263.4,76.5 1263.9,76.5 1264.4,76 1264.9,75.9 1265.4,75.1 1265.9,74.9 1266.4,74.5 1266.9,75.1 1267.4,74.4 1267.9,74.6 1268.4,73.7 1268.9,73.5 1269.4,73.4 1269.9,73.3 1270.4,72.8 1270.9,72.5 1271.4,72.2 1271.9,71.9 1272.4,71.2 1272.9,71.3 1273.4,71 1273.9,70.7 1274.4,70.6 1274.9,70 1275.4,69.9 1275.9,69.6 1276.4,69.6 1276.9,69.5 1277.4,68.8 1277.9,69.1 1278.4,69.4 1278.9,68.2 1279.4,68.2 1279.9,68.1 1280.4,68.2 1280.9,68.7 1281.4,68.2 1281.9,68 1282.4,68.4 1282.9,68 1283.4,68.5 1283.9,68.3 1284.4,68.6 1284.9,68 1285.4,69.1 1285.9,68.4 1286.4,68.4 1286.9,68.2 1287.4,68 1287.9,67.9 1288.4,68.2 1288.9,68 1289.4,68.3 1289.9,68 1290.4,68.4 1290.9,68.5 1291.4,68 1291.9,68.6 1292.4,68.1 1292.9,68.5 1293.4,68.3 1293.9,68.5 1294.4,67.9 1294.9,68.2 1295.4,68.6 1295.9,68.1 1296.4,67.8 1296.9,68.1 1297.4,68.2 1297.9,68.6 1298.4,69.5 1298.9,70.5 1299.4,70.4 1299.9,71.2 1300.4,71.6 1300.9,72.2 1301.4,72.7 1301.9,73.4 1302.4,74.2 1302.9,74.3 1303.4,75.6 1303.9,76.3 1304.4,76.7 1304.9,77.7 1305.4,78.1 1305.9,79.1 1306.4,80.3 1306.9,81.2 1307.4,82.3 1307.9,83.4 1308.4,84.7 1308.9,86.5 1309.4,87.1 1309.9,89.3 1310.4,90.7 1310.9,92.6 1311.4,94.5 1311.9,95.8 1312.4,99.4 1312.9,102.3 1313.4,105.3 1313.9,108.3 1314.4,112 1314.9,115 1315.4,118.9 1315.9,122 1316.4,126.1 1316.9,129.1 1317.4,132.8 1317.9,137.6 1318.4,141.6 1318.9,145.2 1319.4,148.4 1319.9,152.1 1320.4,155.6 1320.9,158.4 1321.4,161.4 1321.9,164.3 1322.4,167 1322.9,170 1323.4,172.5 1323.9,176.1 1324.4,178 1324.9,180.6 1325.4,182.4 1325.9,184.9 1326.4,185.9 1326.9,188.2 1327.4,189.3 1327.9,191.1 1328.4,191.3 1328.9,192.8 1329.4,194 1329.9,195.3 1330.4,195.8 1330.9,196.9 1331.4,197.1 1331.9,198.4 1332.4,199.6 1332.9,200.5 1333.4,200.9 1333.9,202.3 1334.4,202.8 1334.9,202.9 1335.4,202.8 1335.9,203.5 1336.4,204.3 1336.9,205.4 1337.4,205.6 1337.9,205.3 1338.4,206.3 1338.9,207.2 1339.4,207 1339.9,207.3 1340.4,208.6 1340.9,208.3 1341.4,208.5 1341.9,209.1 1342.4,209.4 1342.9,209.6 1343.4,210.4 1343.9,210.7 1344.4,210.9 1344.9,210.9 1345.4,211.5 1345.9,211.4 1346.4,211.8 1346.9,212.2 1347.4,212.4 1347.9,212.9 1348.4,212.6 1348.9,212.2 1349.4,212.5 1349.9,213.4 1350.4,213 1350.9,213.3 1351.4,213 1351.9,213.6 1352.4,213.3 1352.9,213.9 1353.4,213.4 1353.9,213.9 1354.4,213.8 1354.9,213.5 1355.4,214.1 1355.9,213.5 1356.4,213.6 1356.9,214.1 1357.4,213.7 1357.9,213.8 1358.4,213.9 1358.9,213.7 1359.4,214.4 1359.9,214.3 1360.4,214.1 1360.9,214.2 1361.4,214.4 1361.9,214.9 1362.4,214.7 1362.9,214.3 1363.4,214.8 1363.9,214.6 1364.4,214.7 1364.9,215.4 1365.4,214.9 1365.9,215 1366.4,214.7 1366.9,215 1367.4,215.8 1367.9,215.6 1368.4,216.2 1368.9,215.9 1369.4,216.3 1369.9,217 1370.4,217.5 1370.9,217.5 1371.4,217.9 1371.9,218.4 1372.4,218.5 1372.9,218.3 1373.4,218.8 1373.9,219.4 1374.4,219.5 1374.9,220.1 1375.4,219.9 1375.9,220.5 1376.4,221.3 1376.9,220.9 1377.4,221.7 1377.9,222.5 1378.4,222.6 1378.9,223.8 1379.4,224.3 1379.9,225.3 1380.4,226.3 1380.9,227.4 1381.4,228.3 1381.9,229.6 1382.4,230.5 1382.9,232 1383.4,233.6 1383.9,234.3 1384.4,235.5 1384.9,236.3 1385.4,238 1385.9,238.6 1386.4,239.7 1386.9,241.1 1387.4,241.9 1387.9,243.1 1388.4,244 1388.9,244.3 1389.4,245.4 1389.9,246.8 1390.4,247.5 1390.9,248.3 1391.4,249.3 1391.9,249.6 1392.4,250.9 1392.9,251.9 1393.4,252.8 1393.9,252.8 1394.4,253.7 1394.9,254.6 1395.4,255.1 1395.9,255.6 1396.4,256.5 1396.9,256.7 1397.4,256.7 1397.9,257.7 1398.4,257.8 1398.9,258 1399.4,258.1 1399.9,259.2 1400.4,258.5 1400.9,259 1401.4,259.7 1401.9,260.5 1402.4,260.8 1402.9,260.3 1403.4,260.9 1403.9,260.7 1404.4,261.7 1404.9,261.1 1405.4,261.7 1405.9,262.3 1406.4,262 1406.9,262.7 1407.4,262.1 1407.9,262.6 1408.4,262.8 1408.9,262.5 1409.4,263 1409.9,262.8 1410.4,262.1 1410.9,263.7 1411.4,262.6 1411.9,262.4 1412.4,261.8 1412.9,262.1 1413.4,261.8 1413.9,262 1414.4,261.7 1414.9,261.9 1415.4,261.2 1415.9,261.1 1416.4,260.8 1416.9,260.4 1417.4,260.1 1417.9,260.2 1418.4,259.9 1418.9,259.1 1419.4,258.7 1419.9,258.7 1420.4,258.8 1420.9,258.2 1421.4,258.4 1421.9,257.3 1422.4,257.3 1422.9,256.2 1423.4,256.5 1423.9,256.3 1424.4,256.3 1424.9,256.4 1425.4,255.6 1425.9,255.7 1426.4,255.2 1426.9,255 1427.4,254.3 1427.9,254.5 1428.4,253.4 1428.9,253.6 1429.4,252.8 1429.9,252.6 1430.4,252 1430.9,251.9 1431.4,251.8 1431.9,251.4 1432.4,250.6 1432.9,251.1 1433.4,250.4 1433.9,250.2 1434.4,249.8 1434.9,249 1435.4,248.2 1435.9,248.1 1436.4,248.4 1436.9,247.3 1437.4,247.5 1437.9,246.7 1438.4,246.6 1438.9,245.6 1439.4,246.1 1439.9,245.4 1440.4,245.3 1440.9,244.7 1441.4,244.5 1441.9,243.8 1442.4,243.7 1442.9,242.7 1443.4,242.4 1443.9,242.6 1444.4,241.9 1444.9,241.5 1445.4,241.1 1445.9,240.9 1446.4,240.2 1446.9,240.1 1447.4,239.3 1447.9,239 1448.4,239 1448.9,238.6 1449.4,237.6 1449.9,237.7 1450.4,236.8 1450.9,236.9 1451.4,235.7 1451.9,235.5 1452.4,235.3 1452.9,235 1453.4,235 1453.9,234.5 1454.4,234.3 1454.9,233.8 1455.4,232.9 1455.9,232.5 1456.4,232.5 1456.9,231.8 1457.4,231.4 1457.9,230.7 1458.4,230.6 1458.9,229.5 1459.4,229.8 1459.9,229.3 1460.4,229.4 1460.9,228.7 1461.4,228.3 1461.9,228.5 1462.4,227.4 1462.9,227.4 1463.4,226.4 1463.9,226.6 1464.4,226.4 1464.9,226.1 1465.4,225.2 1465.9,225.2 1466.4,224.9 1466.9,224.4 1467.4,224.1 1467.9,223.9 1468.4,223.5 1468.9,222.7 1469.4,222.3 1469.9,223.1 1470.4,222.5 1470.9,221.2 1471.4,221.4 1471.9,221.1 1472.4,220.8 1472.9,220.3 1473.4,219.6 1473.9,219.5 1474.4,219.1 1474.9,218.9" fill="none" stroke="#ff7f0e" stroke-width="1.25" stroke-opacity="0.66" stroke-linejoin="round" clip-path="url(#cb)"/>
<path d="M1128.4,181.1 1128.7,182.2 1129.1,180.9 1129.4,185.1 1129.7,182.6 1130,184.2 1130.4,186.2 1130.7,185.1 1131,186 1131.4,186.8 1131.7,189 1132,191.5 1132.4,189.8 1132.7,189.2 1133,191.7 1133.3,191.1 1133.7,192.4 1134,194.4 1134.3,192.9 1134.7,194.4 1135,194 1135.3,195.5 1135.7,196.6 1136,195.7 1136.3,197.1 1136.6,197.9 1137,198 1137.3,197.9 1137.6,198.2 1138,200.5 1138.3,201 1138.6,204.9 1139,199.2 1139.3,203.3 1139.6,204.3 1139.9,206.3 1140.3,205.7 1140.6,204.4 1140.9,206.2 1141.3,207.6 1141.6,206.9 1141.9,209.1 1142.3,205.7 1142.6,211.8 1142.9,212 1143.2,209.7 1143.6,211.8 1143.9,211.4 1144.2,210.6 1144.6,212.6 1144.9,214.6 1145.2,212.9 1145.6,213.4 1145.9,214.4 1146.2,215.7 1146.5,217.7 1146.9,214.9 1147.2,217.4 1147.5,217.4 1147.9,214.2 1148.2,217.2 1148.5,218.2 1148.9,218.8 1149.2,220 1149.5,216.1 1149.8,220.4 1150.2,219.5 1150.5,218.5 1150.8,222.6 1151.2,223.5 1151.5,221.3 1151.8,224.5 1152.2,222.6 1152.5,223.9 1152.8,222 1153.1,227.7 1153.5,219.8 1153.8,225.3 1154.1,227.4 1154.5,222.4 1154.8,226.6 1155.1,227.2 1155.5,229.5 1155.8,230.7 1156.1,227.6 1156.4,225.8 1156.8,231.6 1157.1,231.3 1157.4,227.8 1157.8,229.5 1158.1,229.5 1158.4,229.9 1158.8,229 1159.1,231.5 1159.4,224.9 1159.7,230.5 1160.1,229.1 1160.4,227.7 1160.7,230.5 1161.1,223.1 1161.4,230.2 1161.7,228.5 1162.1,225.3 1162.4,228.3 1162.7,226.7 1163,232.4 1163.4,230.7 1163.7,227.7 1164,225.2 1164.4,225.2 1164.7,225.5 1165,224.7 1165.4,223.8 1165.7,224.1 1166,224.4 1166.3,223.6 1166.7,222.9 1167,222.1 1167.3,228.4 1167.7,220.3 1168,220.8 1168.3,223.2 1168.7,221.4 1169,222.4 1169.3,222.8 1169.6,223.3 1170,222 1170.3,218.4 1170.6,221.9 1171,216.4 1171.3,219 1171.6,218 1172,216.6 1172.3,219.2 1172.6,217.5 1172.9,219.2 1173.3,214.5 1173.6,218.1 1173.9,217.1 1174.3,216.1 1174.6,213.1 1174.9,214.7 1175.3,212.1 1175.6,210.8 1175.9,219.3 1176.2,215 1176.6,215.9 1176.9,211.9 1177.2,213.2 1177.6,212.8 1177.9,212.1 1178.2,210.7 1178.6,209.9 1178.9,206.6 1179.2,210.2 1179.5,209.4 1179.9,209.9 1180.2,207.3 1180.5,209.7 1180.9,205.9 1181.2,204.2 1181.5,206.8 1181.9,204.2 1182.2,202.5 1182.5,203.9 1182.8,204.1 1183.2,202.8 1183.5,202.5 1183.8,206.6 1184.2,201.5 1184.5,201.8 1184.8,196.6 1185.2,198.9 1185.5,198.6 1185.8,196.5 1186.1,195.1 1186.5,195.9 1186.8,194.2 1187.1,193.1 1187.5,194.2 1187.8,193.5 1188.1,191.4 1188.5,189.6 1188.8,189.6 1189.1,189 1189.4,187.7 1189.8,184.6 1190.1,184.7 1190.4,184.3 1190.8,183.4 1191.1,182.6 1191.4,181.3 1191.8,178.6 1192.1,177.9 1192.4,176.3 1192.7,177.7 1193.1,175.3 1193.4,174.4 1193.7,173.6 1194.1,171.4 1194.4,169.7 1194.7,169 1195.1,168 1195.4,167.9 1195.7,166.2 1196,163.7 1196.4,163.5 1196.7,162.3 1197,160 1197.4,159.2 1197.7,157 1198,156.9 1198.4,155.2 1198.7,153.3 1199,152.3 1199.3,151.4 1199.7,149.6 1200,148.7 1200.3,147.4 1200.7,145.3 1201,144.1 1201.3,143.9 1201.7,141.4 1202,139.4 1202.3,138.3 1202.6,136 1203,135.7 1203.3,133.7 1203.6,132.4 1204,130.6 1204.3,128.7 1204.6,127.3 1205,125.2 1205.3,123.1 1205.6,121.1 1205.9,119.7 1206.3,116.9 1206.6,117.3 1206.9,113.8 1207.3,112.8 1207.6,110.4 1207.9,108.3 1208.3,107.5 1208.6,105.6 1208.9,103.9 1209.2,102.5 1209.6,100.2 1209.9,99 1210.2,97.3 1210.6,95.2 1210.9,93.5 1211.2,92.2 1211.6,90.3 1211.9,88.7 1212.2,85.8 1212.5,85.4 1212.9,84 1213.2,82.2 1213.5,80.9 1213.9,80.2 1214.2,77.8 1214.5,76.6 1214.9,74.4 1215.2,72.9 1215.5,71.6 1215.8,69.8 1216.2,68.8 1216.5,66.8 1216.8,65.7 1217.2,63.6 1217.5,62.1 1217.8,61.1 1218.2,59.6 1218.5,58.4 1218.8,57.2 1219.1,56.1 1219.5,55.6 1219.8,54.6 1220.1,53.3 1220.5,51.7 1220.8,51.8 1221.1,49.5 1221.5,48.4 1221.8,48.8 1222.1,47.9 1222.4,47.1 1222.8,46.4 1223.1,44.8 1223.4,44.4 1223.8,44.9 1224.1,44.3 1224.4,42.9 1224.8,43.7 1225.1,41.9 1225.4,41.9 1225.7,42.1 1226.1,41.3 1226.4,41.7 1226.7,42 1227.1,42.1 1227.4,43.1 1227.7,43.3 1228.1,42.9 1228.4,43.7 1228.7,44.7 1229,45.2 1229.4,45.6 1229.7,46.9 1230,47.9 1230.4,47.9 1230.7,49.4 1231,49.1 1231.4,49.9 1231.7,52 1232,52.6 1232.3,54 1232.7,56 1233,57.6 1233.3,60.1 1233.7,61.2 1234,63.9 1234.3,67.9 1234.7,68.7 1235,70.1 1235.3,73.7 1235.6,76.1 1236,78.8 1236.3,80.6 1236.6,82.5 1237,85.7 1237.3,87.5 1237.6,88.3 1238,91.5 1238.3,92.9 1238.6,95.4 1238.9,96.6 1239.3,99 1239.6,100.5 1239.9,102.6 1240.3,104.1 1240.6,105.7 1240.9,107.8 1241.3,109.8 1241.6,111.5 1241.9,113.9 1242.2,115.1 1242.6,117 1242.9,119.5 1243.2,120.2 1243.6,122.2 1243.9,123.4 1244.2,125.4 1244.6,128 1244.9,129 1245.2,131.3 1245.5,131.8 1245.9,133.3 1246.2,135.8 1246.5,136.7 1246.9,140.4 1247.2,141.3 1247.5,141.7 1247.9,143.9 1248.2,145.4 1248.5,147.5 1248.8,148.9 1249.2,151.1 1249.5,153 1249.8,153.8 1250.2,155 1250.5,157.6 1250.8,158.8 1251.2,161.2 1251.5,162.1 1251.8,164.4 1252.1,165.7 1252.5,167 1252.8,168.4 1253.1,170.9 1253.5,173.8 1253.8,174.1 1254.1,175 1254.5,177.2 1254.8,178.2 1255.1,178.5 1255.4,181.3 1255.8,183.9 1256.1,183.6 1256.4,184.2 1256.8,187.1 1257.1,189.9 1257.4,190.3 1257.8,191.6 1258.1,194.3 1258.4,194.8 1258.7,195 1259.1,195.1 1259.4,196.7 1259.7,197.6 1260.1,199.9 1260.4,198.8 1260.7,203.2 1261.1,202.4 1261.4,202.8 1261.7,205.6 1262,202.5 1262.4,205.4 1262.7,206.6 1263,209.9 1263.4,208.9 1263.7,212.9 1264,210.9 1264.4,213.4 1264.7,212.4 1265,216.4 1265.3,214.9 1265.7,217.1 1266,216.2 1266.3,216 1266.7,218.3 1267,221.5 1267.3,218.4 1267.7,218.2 1268,221.2 1268.3,223.9 1268.6,221.1 1269,222.8 1269.3,224.9 1269.6,224.6 1270,226.5 1270.3,229.1 1270.6,227.4 1271,228 1271.3,230.4 1271.6,229.4 1271.9,228.2 1272.3,228.8 1272.6,229.2 1272.9,236.5 1273.3,232.9 1273.6,235 1273.9,236 1274.3,232.9 1274.6,237.1 1274.9,235 1275.2,232.1 1275.6,237 1275.9,235.6 1276.2,237.9 1276.6,240.1 1276.9,245.3 1277.2,239.1 1277.6,240.4 1277.9,242.3 1278.2,242.3 1278.5,241.9 1278.9,240 1279.2,240.7 1279.5,243 1279.9,240.8 1280.2,242.4 1280.5,241.2 1280.9,247.6 1281.2,241.1 1281.5,250.1 1281.8,243.8 1282.2,242.7 1282.5,242.5 1282.8,247.7 1283.2,248.4 1283.5,243.5 1283.8,246.5 1284.2,245.2 1284.5,244.9 1284.8,245.8 1285.1,247.3 1285.5,240.2 1285.8,239.2 1286.1,245.3 1286.5,244.4 1286.8,246.1 1287.1,239.7 1287.5,241.2 1287.8,247.3 1288.1,239.8 1288.4,243.7 1288.8,240.4 1289.1,241 1289.4,238.2 1289.8,244.1 1290.1,236.1 1290.4,237.3 1290.8,237.6 1291.1,242.1 1291.4,239.5 1291.7,239.9 1292.1,237.7 1292.4,237.8 1292.7,237.8 1293.1,239.7 1293.4,236.1 1293.7,231.6 1294.1,237 1294.4,234 1294.7,230.7 1295,232.2 1295.4,229.8 1295.7,235.7 1296,229.7 1296.4,225.4 1296.7,229.2 1297,225.9 1297.4,229 1297.7,225.5 1298,220.5 1298.3,221.7 1298.7,219.2 1299,218.4 1299.3,217.2 1299.7,213.3 1300,215.5 1300.3,212 1300.7,210.3 1301,211.2 1301.3,211.1 1301.6,205.5 1302,207.2 1302.3,199.9 1302.6,201.6 1303,198.2 1303.3,196.9 1303.6,193.9 1304,192.3 1304.3,190.3 1304.6,187.9 1304.9,186 1305.3,185 1305.6,179.4 1305.9,176.9 1306.3,172.6 1306.6,169.1 1306.9,168.6 1307.3,163.7 1307.6,160.9 1307.9,158.1 1308.2,155.5 1308.6,152 1308.9,149.8 1309.2,145.8 1309.6,142.1 1309.9,140.3 1310.2,137.7 1310.6,134.6 1310.9,132.1 1311.2,129 1311.5,127.2 1311.9,123 1312.2,119.6 1312.5,117.4 1312.9,113.4 1313.2,111.6 1313.5,108.9 1313.9,105.7 1314.2,103.5 1314.5,101.3 1314.8,100.6 1315.2,98.4 1315.5,96.4 1315.8,95.6 1316.2,95.8 1316.5,95.9 1316.8,96.1 1317.2,97.6 1317.5,98.8 1317.8,101.3 1318.1,103.1 1318.5,105.2 1318.8,107.9 1319.1,110.2 1319.5,114 1319.8,116.7 1320.1,119.3 1320.5,122.6 1320.8,126.1 1321.1,132 1321.4,135.6 1321.8,141.5 1322.1,147 1322.4,152 1322.8,158 1323.1,163.1 1323.4,168.2 1323.8,172.5 1324.1,176.9 1324.4,180.9 1324.7,183.8 1325.1,187.4 1325.4,191 1325.7,194.3 1326.1,196.6 1326.4,203.1 1326.7,205.4 1327.1,208.4 1327.4,209.1 1327.7,212.1 1328,212.9 1328.4,219.7 1328.7,223.5 1329,225.7 1329.4,226.7 1329.7,226.8 1330,231.2 1330.4,233.4 1330.7,237.1 1331,239.2 1331.3,238.7 1331.7,241 1332,244.5 1332.3,245.5 1332.7,245.2 1333,241.1 1333.3,246.1 1333.7,251.1 1334,249.9 1334.3,252.8 1334.6,249.8 1335,251.7 1335.3,254.3 1335.6,254.6 1336,254.4 1336.3,256.9 1336.6,258.2 1337,258.9 1337.3,250.5 1337.6,254.4 1337.9,255.3 1338.3,255.6 1338.6,252.1 1338.9,261.3 1339.3,254.7 1339.6,258.3 1339.9,251 1340.3,257 1340.6,258 1340.9,256 1341.2,261.3 1341.6,266.4 1341.9,256.5 1342.2,256.5 1342.6,264.5 1342.9,260.8 1343.2,257.9 1343.6,254.8 1343.9,260.6 1344.2,258.7 1344.5,262.4 1344.9,254.6 1345.2,256.3 1345.5,255.4 1345.9,255.1 1346.2,258.2 1346.5,257 1346.9,252 1347.2,253 1347.5,251.9 1347.8,254.4 1348.2,250.6 1348.5,247.3 1348.8,248.7 1349.2,248.8 1349.5,250.6 1349.8,250.8 1350.2,250.1 1350.5,246.9 1350.8,243.9 1351.1,245.9 1351.5,243.1 1351.8,241.1 1352.1,242.5 1352.5,241.8 1352.8,241.9 1353.1,236.6 1353.5,233.7 1353.8,237.7 1354.1,233.2 1354.4,236.4 1354.8,230.5 1355.1,230.5 1355.4,226.6 1355.8,233.4 1356.1,226.9 1356.4,226.4 1356.8,224.2 1357.1,223.4 1357.4,224 1357.7,221.3 1358.1,219.7 1358.4,220.4 1358.7,214.6 1359.1,217.4 1359.4,216.7 1359.7,210.4 1360.1,211.6 1360.4,207.6 1360.7,204.9 1361,205.2 1361.4,205.6 1361.7,204.3 1362,201.1 1362.4,198.8 1362.7,197.6 1363,195.6 1363.4,193.9 1363.7,190.2 1364,190.8 1364.3,189.2 1364.7,189.7 1365,186.3 1365.3,183.6 1365.7,181.9 1366,180.3 1366.3,177.5 1366.7,174.5 1367,173.7 1367.3,172.2 1367.6,170.6 1368,168.1 1368.3,166 1368.6,164.6 1369,162.9 1369.3,161.2 1369.6,158.8 1370,157.2 1370.3,154.4 1370.6,153.3 1370.9,150.8 1371.3,148.1 1371.6,146.5 1371.9,144.6 1372.3,141.8 1372.6,140.5 1372.9,137.8 1373.3,136 1373.6,133.1 1373.9,131.6 1374.2,129.6 1374.6,126.8 1374.9,124.7 1375.2,122.3 1375.6,120.6 1375.9,118.3 1376.2,116.4 1376.6,114 1376.9,111.3 1377.2,109.2 1377.5,107.6 1377.9,106 1378.2,104.9 1378.5,102.3 1378.9,99.6 1379.2,97 1379.5,96.5 1379.9,94.3 1380.2,91.8 1380.5,90.9 1380.8,88.6 1381.2,86.4 1381.5,83.7 1381.8,83.3 1382.2,80.9 1382.5,78.9 1382.8,76.8 1383.2,75.3 1383.5,74.4 1383.8,72.4 1384.1,71.6 1384.5,69.7 1384.8,68 1385.1,67 1385.5,65.5 1385.8,63.6 1386.1,63.1 1386.5,62.7 1386.8,61.2 1387.1,60.5 1387.4,59.3 1387.8,59.9 1388.1,57.7 1388.4,57.1 1388.8,56.5 1389.1,56.9 1389.4,56.6 1389.8,55.4 1390.1,55.7 1390.4,54.9 1390.7,55.5 1391.1,57 1391.4,56.6 1391.7,56.6 1392.1,56.6 1392.4,57.9 1392.7,58.3 1393.1,58.8 1393.4,61.2 1393.7,62.3 1394,63.2 1394.4,64.8 1394.7,64.6 1395,67.4 1395.4,67.3 1395.7,69.3 1396,70.5 1396.4,72 1396.7,73.7 1397,74.3 1397.3,75.4 1397.7,76.6 1398,79 1398.3,80.1 1398.7,81.7 1399,84.1 1399.3,86.4 1399.7,87.9 1400,89.5 1400.3,92.1 1400.6,93.5 1401,95.4 1401.3,98.9 1401.6,100.4 1402,103.3 1402.3,103.6 1402.6,106.9 1403,108.3 1403.3,111.7 1403.6,112.2 1403.9,113.9 1404.3,116.2 1404.6,117.8 1404.9,119.3 1405.3,121.7 1405.6,123.3 1405.9,125.1 1406.3,126.6 1406.6,127.8 1406.9,129.5 1407.2,131.8 1407.6,132.8 1407.9,135.8 1408.2,136.6 1408.6,137.9 1408.9,140.5 1409.2,141.6 1409.6,143.9 1409.9,145 1410.2,147.5 1410.5,148 1410.9,148.8 1411.2,150.7 1411.5,152.3 1411.9,155 1412.2,157.3 1412.5,157.8 1412.9,158.8 1413.2,161.5 1413.5,162.9 1413.8,164 1414.2,166 1414.5,167.3 1414.8,168.1 1415.2,170.9 1415.5,171.6 1415.8,172.8 1416.2,174.9 1416.5,177.9 1416.8,179.8 1417.1,180.9 1417.5,180.8 1417.8,181.9 1418.1,184.7 1418.5,185.8 1418.8,187.6 1419.1,187.8 1419.5,189.5 1419.8,190.8 1420.1,194.3 1420.4,196.2 1420.8,195.5 1421.1,198.5 1421.4,200 1421.8,199.6 1422.1,202 1422.4,204.4 1422.8,203.2 1423.1,207.7 1423.4,206.8 1423.7,208.4 1424.1,209.2 1424.4,208.4 1424.7,212.3 1425.1,212.9 1425.4,213.3 1425.7,214.7 1426.1,216.9 1426.4,217 1426.7,217.4 1427,219.5 1427.4,221.8 1427.7,221.5 1428,221 1428.4,225.1 1428.7,223.9 1429,226.6 1429.4,226.1 1429.7,225.5 1430,225.7 1430.3,227.3 1430.7,229.6 1431,226.2 1431.3,232.6 1431.7,235 1432,232.9 1432.3,231.7 1432.7,231.1 1433,236.1 1433.3,237.2 1433.6,237 1434,239.1 1434.3,236.5 1434.6,238 1435,239.8 1435.3,239 1435.6,241.2 1436,241.7 1436.3,240.3 1436.6,239 1436.9,240 1437.3,245 1437.6,239.7 1437.9,243.2 1438.3,241 1438.6,249.8 1438.9,242.6 1439.3,246.3 1439.6,242.5 1439.9,253.6 1440.2,242.2 1440.6,246.9 1440.9,243 1441.2,248.8 1441.6,243.6 1441.9,246 1442.2,243.2 1442.6,246.6 1442.9,247.9 1443.2,252.8 1443.5,242.1 1443.9,250 1444.2,248.8 1444.5,247.2 1444.9,248.5 1445.2,250.2 1445.5,249.2 1445.9,249.3 1446.2,247.4 1446.5,248.6 1446.8,251.2 1447.2,247.4 1447.5,248.7 1447.8,250.4 1448.2,251.2 1448.5,251.5 1448.8,250 1449.2,245 1449.5,252.9 1449.8,253.7 1450.1,254.4 1450.5,252.1 1450.8,253.6 1451.1,250.5 1451.5,248.3 1451.8,251 1452.1,250.9 1452.5,254.5 1452.8,254 1453.1,250.4 1453.4,250.7 1453.8,251.8 1454.1,252.2 1454.4,256.1 1454.8,250.8 1455.1,255.8 1455.4,248.3 1455.8,250.4 1456.1,257 1456.4,253.5 1456.7,252.7 1457.1,254.1 1457.4,251.8 1457.7,252.6 1458.1,253.1 1458.4,253.1 1458.7,253.5 1459.1,250.8 1459.4,253.4 1459.7,250.3 1460,253.9 1460.4,251.7 1460.7,252.8 1461,252.8 1461.4,249.8 1461.7,250.3 1462,251.2 1462.4,252.7 1462.7,253.9 1463,251 1463.3,249.1 1463.7,251.4 1464,250.5 1464.3,252.4 1464.7,253.5 1465,255.3 1465.3,245.2 1465.7,248.2 1466,249.1 1466.3,251.1 1466.6,250.6 1467,248.7 1467.3,250.4 1467.6,246.6 1468,246.8 1468.3,248.4 1468.6,244.5 1469,251.2 1469.3,244.7 1469.6,243.5 1469.9,246.9 1470.3,240.8 1470.6,244.3 1470.9,244.5 1471.3,247.8 1471.6,251.9 1471.9,244.1 1472.3,240 1472.6,243.4 1472.9,243.9 1473.2,239.5 1473.6,242.1 1473.9,244.6 1474.2,241.4 1474.6,237.8 1474.9,237.8" fill="none" stroke="#1f77b4" stroke-width="1.15" stroke-opacity="0.66" stroke-linejoin="round" clip-path="url(#cb)"/>
<path d="M1318.2,26.0 V275.2" stroke="#ff0a1e" stroke-width="3.3" stroke-dasharray="12.6 8.9" fill="none" clip-path="url(#cb)"/>
<path d="M1253.5,206 H1208.3" stroke="#1f77b4" stroke-width="4.2" fill="none"/><path d="M1192,206 L1209.3,197.2 L1209.3,214.8 Z" fill="#1f77b4"/>
<path d="M1355.7,209.4 H1401.3" stroke="#ff7f0e" stroke-width="4.2" fill="none"/><path d="M1417.6,209.4 L1400.3,200.7 L1400.3,218.2 Z" fill="#ff7f0e"/>
<clipPath id="ce"><rect x="1128" y="435.2" width="346.79999999999995" height="244.3"/></clipPath>
<g stroke="#8c8c8c" stroke-width="2.3" fill="none">
<rect x="1128" y="435.2" width="346.79999999999995" height="244.3"/>
<path d="M1128,679.5 v6 M1243.6,679.5 v6 M1359.2,679.5 v6 M1474.8,679.5 v6 M1128,435.2 h-6 M1128,557.4 h-6 M1128,679.5 h-6 M1474.8,435.2 h6 M1474.8,557.4 h6 M1474.8,679.5 h6 "/>
<path d="M1185.8,679.5 v3 M1301.4,679.5 v3 M1417,679.5 v3 " stroke-opacity="0.45" stroke-width="1.2"/>
</g>
<path d="M1128,459.7 1128.4,457.3 1128.8,456.4 1129.2,453.1 1129.6,455.1 1130,454.6 1130.4,454.7 1130.8,453.5 1131.2,454 1131.6,453 1132,451.4 1132.4,454.4 1132.8,454 1133.2,454.9 1133.6,452.1 1134,451.1 1134.4,450.6 1134.8,448.7 1135.2,452.2 1135.6,448.7 1136,448.3 1136.4,449.4 1136.8,451.7 1137.2,449.5 1137.6,447.3 1138,447.4 1138.4,449.2 1138.8,447.7 1139.2,446.5 1139.6,447 1140,448.2 1140.4,449.7 1140.8,444.6 1141.2,445.2 1141.6,444.6 1142,441.9 1142.4,443.8 1142.8,443.3 1143.2,446.2 1143.6,444 1144,441.4 1144.4,444.5 1144.8,442.7 1145.2,440.3 1145.6,441.7 1146,441.4 1146.4,440.6 1146.8,441.7 1147.2,437.9 1147.6,440.6 1148,442.3 1148.4,441.7 1148.8,441.9 1149.2,441.6 1149.6,442 1150,437.8 1150.4,440.6 1150.8,436.4 1151.2,438.1 1151.6,436 1152,440.3 1152.4,440.6 1152.8,438.3 1153.2,441.2 1153.6,437.5 1154,438.7 1154.4,438.7 1154.8,436.9 1155.2,439.2 1155.6,441.5 1156,437.1 1156.4,440.1 1156.8,438.5 1157.2,441.5 1157.6,439.6 1158,440 1158.4,440.1 1158.8,439.6 1159.2,437.2 1159.6,441.5 1160,437.5 1160.4,440 1160.8,440.7 1161.2,438.6 1161.6,440.2 1162,441.9 1162.4,440.3 1162.8,439.2 1163.2,436.4 1163.6,439.6 1164,440.5 1164.4,441 1164.8,440.8 1165.2,443.3 1165.6,442.3 1166,443.5 1166.4,445.3 1166.8,443.5 1167.2,444.9 1167.6,449.2 1168,447.9 1168.4,445.2 1168.8,447.6 1169.2,449.2 1169.6,450.8 1170,449.8 1170.4,449.4 1170.8,449.7 1171.2,452.3 1171.6,452.5 1172,452 1172.4,453.2 1172.8,453.7 1173.2,456.2 1173.6,454.9 1174,457.5 1174.4,458.9 1174.8,459.2 1175.2,458.1 1175.6,462.2 1176,460 1176.4,462.5 1176.8,461.5 1177.2,460.8 1177.6,464.6 1178,465.4 1178.4,465.6 1178.8,466.8 1179.2,466 1179.6,466.5 1180,467.9 1180.4,471.4 1180.8,470.2 1181.2,468.6 1181.6,470.7 1182,469.5 1182.4,470 1182.8,472.4 1183.2,470.7 1183.6,469.4 1184,470.9 1184.4,472.8 1184.8,473.2 1185.2,475.3 1185.6,472.7 1186,475.2 1186.4,475 1186.8,474.4 1187.2,476.2 1187.6,475.9 1188,474.1 1188.4,477.2 1188.8,474 1189.2,476 1189.6,476.1 1190,476.8 1190.4,475.1 1190.8,476.1 1191.2,476 1191.6,477.7 1192,475 1192.4,476.2 1192.8,475.7 1193.2,474.1 1193.6,480 1194,475.8 1194.4,473.6 1194.8,477.9 1195.2,474.1 1195.6,476.1 1196,476.8 1196.4,474.4 1196.8,474.6 1197.2,474.3 1197.6,474.8 1198,472.5 1198.4,472.9 1198.8,474.4 1199.2,476.1 1199.6,475.3 1200,476.8 1200.4,475.1 1200.8,473.2 1201.2,473.6 1201.6,470.6 1202,471.9 1202.4,471.6 1202.8,473.3 1203.2,473.6 1203.6,471.5 1204,471.1 1204.4,469.3 1204.8,471 1205.2,471.2 1205.6,471.1 1206,468.8 1206.4,472.6 1206.8,470.9 1207.2,468.5 1207.6,467.4 1208,467.3 1208.4,467.5 1208.8,466.8 1209.2,467 1209.6,467 1210,467.4 1210.4,466.6 1210.8,464.2 1211.2,464.5 1211.6,462.8 1212,462 1212.4,465.3 1212.8,461.3 1213.2,464.5 1213.6,460.6 1214,461.1 1214.4,461.9 1214.8,459.9 1215.2,460.1 1215.6,458.7 1216,457.9 1216.4,458 1216.8,456.8 1217.2,459.8 1217.6,456.7 1218,459.1 1218.4,452 1218.8,455.6 1219.2,456 1219.6,454.3 1220,455.9 1220.4,454.8 1220.8,453 1221.2,453.7 1221.6,456.8 1222,452.5 1222.4,452.2 1222.8,450.7 1223.2,451.1 1223.6,448.6 1224,449.9 1224.4,453.5 1224.8,451 1225.2,450 1225.6,450.3 1226,451.1 1226.4,448.9 1226.8,450.8 1227.2,449 1227.6,447.3 1228,449.3 1228.4,442.9 1228.8,445.3 1229.2,446.3 1229.6,444.2 1230,445 1230.4,444 1230.8,443.6 1231.2,448.4 1231.6,444.9 1232,443.6 1232.4,445.4 1232.8,442.8 1233.2,444.2 1233.6,443.1 1234,444.7 1234.4,439.9 1234.8,442.9 1235.2,441.7 1235.6,439.6 1236,442.7 1236.4,439.6 1236.8,443.2 1237.2,441.4 1237.6,441.6 1238,440.5 1238.4,441.7 1238.8,437.5 1239.2,440.3 1239.6,439.3 1240,440.6 1240.4,440.1 1240.8,441.1 1241.2,438.9 1241.6,443 1242,443.7 1242.4,439.9 1242.8,440.2 1243.2,440.6 1243.6,442.1 1244,443 1244.4,438.4 1244.8,439.3 1245.2,438.6 1245.6,438.5 1246,437.7 1246.4,440.7 1246.8,438.5 1247.2,442.5 1247.6,441.6 1248,438.7 1248.4,438.7 1248.8,439.3 1249.2,442.3 1249.6,438.9 1250,438 1250.4,440.3 1250.8,441.1 1251.2,439.8 1251.6,443.6 1252,441.9 1252.4,442.7 1252.8,441.2 1253.2,443 1253.6,443.4 1254,440.9 1254.4,445.4 1254.8,442.9 1255.2,446.3 1255.6,444.8 1256,450.7 1256.4,448.9 1256.8,450.5 1257.2,451.4 1257.6,449 1258,448.6 1258.4,452.7 1258.8,455.8 1259.2,455.8 1259.6,458.2 1260,459.8 1260.4,457.5 1260.8,461.6 1261.2,465.5 1261.6,463 1262,462.1 1262.4,466.1 1262.8,467 1263.2,469.4 1263.6,468.6 1264,471.2 1264.4,468.9 1264.8,474.6 1265.2,476.9 1265.6,477.6 1266,474.5 1266.4,478.3 1266.8,474.5 1267.2,480.4 1267.6,480.9 1268,480.5 1268.4,483.4 1268.8,483.9 1269.2,485.9 1269.6,485.3 1270,486.1 1270.4,483.4 1270.8,485.1 1271.2,486.7 1271.6,488.3 1272,488.3 1272.4,491 1272.8,487.9 1273.2,489.3 1273.6,490.4 1274,490.1 1274.4,491.6 1274.8,490.3 1275.2,493.7 1275.6,491.4 1276,493.9 1276.4,492.5 1276.8,495.1 1277.2,491.1 1277.6,494.3 1278,493.2 1278.4,494.4 1278.8,496.2 1279.2,492.9 1279.6,492.9 1280,493.6 1280.4,495.7 1280.8,492.7 1281.2,495.9 1281.6,494 1282,494.4 1282.4,495.8 1282.8,497.1 1283.2,495.7 1283.6,496.2 1284,497 1284.4,496.9 1284.8,493.6 1285.2,497.2 1285.6,498.2 1286,500.1 1286.4,501.8 1286.8,500.1 1287.2,499.6 1287.6,498.5 1288,500.6 1288.4,502.2 1288.8,503.6 1289.2,501.1 1289.6,503.5 1290,505.2 1290.4,507.6 1290.8,506 1291.2,505.8 1291.6,506.5 1292,508 1292.4,508.6 1292.8,511.9 1293.2,513.4 1293.6,514 1294,515.9 1294.4,514.8 1294.8,517.5 1295.2,518 1295.6,520.3 1296,523.9 1296.4,523.9 1296.8,523.1 1297.2,527.7 1297.6,529.2 1298,530.3 1298.4,533.8 1298.8,539 1299.2,543 1299.6,543.2 1300,549.2 1300.4,553.6 1300.8,554.3 1301.2,560.3 1301.6,564.6 1302,569.2 1302.4,570.6 1302.8,576.3 1303.2,581.9 1303.6,585.3 1304,589 1304.4,588.6 1304.8,594.8 1305.2,595.8 1305.6,595.7 1306,601.6 1306.4,602.7 1306.8,606.7 1307.2,608.4 1307.6,612.9 1308,613.9 1308.4,615.4 1308.8,619.4 1309.2,620.4 1309.6,621.2 1310,625.5 1310.4,624.5 1310.8,625.4 1311.2,626.6 1311.6,626.1 1312,628.1 1312.4,632.3 1312.8,628.6 1313.2,630.5 1313.6,629.4 1314,630.6 1314.4,634.2 1314.8,633.7 1315.2,631.9 1315.6,633.2 1316,632.4 1316.4,632.8 1316.8,633 1317.2,633.3 1317.6,635.4 1318,636.1 1318.4,636.2 1318.8,635.5 1319.2,633.9 1319.6,636 1320,634.9 1320.4,637.7 1320.8,637.3 1321.2,637.7 1321.6,636.1 1322,633.9 1322.4,638 1322.8,638.3 1323.2,634.2 1323.6,636.5 1324,637.9 1324.4,634.2 1324.8,638.3 1325.2,634.8 1325.6,633.4 1326,636.7 1326.4,634.8 1326.8,633 1327.2,634.9 1327.6,630.3 1328,635.5 1328.4,631.1 1328.8,632.4 1329.2,630.9 1329.6,631.7 1330,632 1330.4,629 1330.8,631 1331.2,629 1331.6,628 1332,628.3 1332.4,626.8 1332.8,626.8 1333.2,629.1 1333.6,627.1 1334,628.8 1334.4,627.4 1334.8,625 1335.2,623.4 1335.6,625 1336,626.1 1336.4,625.5 1336.8,624 1337.2,626.5 1337.6,622.1 1338,622.6 1338.4,624.4 1338.8,627.3 1339.2,624.4 1339.6,622 1340,624.1 1340.4,624.1 1340.8,624.2 1341.2,622 1341.6,621.2 1342,622.3 1342.4,622.5 1342.8,624.1 1343.2,624.6 1343.6,620.2 1344,620.3 1344.4,620.8 1344.8,620.4 1345.2,621.3 1345.6,621.1 1346,620.6 1346.4,622.1 1346.8,619.6 1347.2,618.1 1347.6,617.2 1348,617.8 1348.4,617.6 1348.8,616.1 1349.2,619.8 1349.6,618.9 1350,617.8 1350.4,616.9 1350.8,615.7 1351.2,616.6 1351.6,620.6 1352,614.4 1352.4,617.8 1352.8,618.5 1353.2,617.5 1353.6,616.8 1354,618.3 1354.4,615.4 1354.8,617.9 1355.2,619.2 1355.6,615.4 1356,615.8 1356.4,617.4 1356.8,618.9 1357.2,619.7 1357.6,619.1 1358,617.5 1358.4,617.3 1358.8,619.9 1359.2,620.8 1359.6,619.1 1360,621.5 1360.4,622.6 1360.8,624.4 1361.2,622 1361.6,625 1362,623.1 1362.4,624.9 1362.8,626 1363.2,629.1 1363.6,632.6 1364,628.7 1364.4,629.9 1364.8,631.5 1365.2,628.9 1365.6,632.9 1366,630.8 1366.4,636.1 1366.8,636.8 1367.2,636.3 1367.6,635.3 1368,640 1368.4,638.8 1368.8,639.6 1369.2,641.2 1369.6,638.7 1370,642.8 1370.4,644.6 1370.8,644.5 1371.2,645.1 1371.6,644.2 1372,647.4 1372.4,647.5 1372.8,648 1373.2,647.9 1373.6,650.7 1374,652.1 1374.4,651.6 1374.8,653.1 1375.2,654.6 1375.6,655.7 1376,654.4 1376.4,654.5 1376.8,654.9 1377.2,656.3 1377.6,657.7 1378,659 1378.4,657.5 1378.8,658.9 1379.2,657.7 1379.6,661.6 1380,659.5 1380.4,660.9 1380.8,659.6 1381.2,660.5 1381.6,660.1 1382,663.9 1382.4,662.1 1382.8,661.5 1383.2,660.5 1383.6,661.2 1384,663.1 1384.4,664.9 1384.8,660.4 1385.2,661.3 1385.6,662.6 1386,662 1386.4,660.6 1386.8,663.2 1387.2,664.4 1387.6,661 1388,663.7 1388.4,664.9 1388.8,665 1389.2,662.9 1389.6,667 1390,664.3 1390.4,662.2 1390.8,664.8 1391.2,661.6 1391.6,664.5 1392,661.2 1392.4,664.1 1392.8,661.9 1393.2,664.3 1393.6,663.5 1394,662.9 1394.4,662.1 1394.8,663.4 1395.2,658.8 1395.6,662 1396,661.7 1396.4,661.6 1396.8,661.8 1397.2,665.8 1397.6,660.2 1398,660.9 1398.4,659.7 1398.8,661.5 1399.2,655.9 1399.6,661.1 1400,657.3 1400.4,654.7 1400.8,656.2 1401.2,657.2 1401.6,657.5 1402,656.9 1402.4,657.9 1402.8,656.3 1403.2,655.9 1403.6,652.4 1404,656 1404.4,656.5 1404.8,654 1405.2,651.4 1405.6,651.8 1406,655.9 1406.4,652.1 1406.8,651.6 1407.2,651 1407.6,652.8 1408,650.5 1408.4,649.6 1408.8,648.2 1409.2,649.9 1409.6,651.1 1410,649 1410.4,650.1 1410.8,648.6 1411.2,648.1 1411.6,647.7 1412,647 1412.4,648 1412.8,646.8 1413.2,644.8 1413.6,645.4 1414,644.6 1414.4,645 1414.8,644.2 1415.2,644.1 1415.6,640.8 1416,643.2 1416.4,644.1 1416.8,639.7 1417.2,643.7 1417.6,641.2 1418,640 1418.4,637.2 1418.8,641.1 1419.2,637.5 1419.6,637.7 1420,638.8 1420.4,636 1420.8,635.6 1421.2,634.9 1421.6,636 1422,636.6 1422.4,635.8 1422.8,635.4 1423.2,633.8 1423.6,634 1424,632.3 1424.4,635.9 1424.8,632.7 1425.2,629 1425.6,629.9 1426,633.5 1426.4,628.6 1426.8,629.5 1427.2,630.4 1427.6,627.7 1428,630.5 1428.4,631 1428.8,626.8 1429.2,629.3 1429.6,625.8 1430,625.2 1430.4,626.7 1430.8,626.2 1431.2,624.5 1431.6,626.2 1432,622.3 1432.4,622.8 1432.8,622.1 1433.2,624.4 1433.6,624 1434,623.4 1434.4,620.1 1434.8,621.8 1435.2,621.9 1435.6,618.4 1436,619.3 1436.4,621.1 1436.8,620.9 1437.2,619.9 1437.6,620 1438,619.4 1438.4,618.9 1438.8,618.2 1439.2,616.8 1439.6,617.4 1440,616.9 1440.4,620.7 1440.8,617.4 1441.2,616.7 1441.6,616.1 1442,616 1442.4,615.5 1442.8,616.5 1443.2,615.4 1443.6,616.5 1444,614 1444.4,615.4 1444.8,616.1 1445.2,612.9 1445.6,614.8 1446,614.8 1446.4,613.9 1446.8,613.7 1447.2,611.6 1447.6,616.2 1448,613.1 1448.4,612.8 1448.8,615.7 1449.2,612.1 1449.6,616.5 1450,615.9 1450.4,616.3 1450.8,615.4 1451.2,614 1451.6,613.3 1452,618.5 1452.4,615.9 1452.8,616.1 1453.2,619.6 1453.6,616.5 1454,617.5 1454.4,617.8 1454.8,618.2 1455.2,617.2 1455.6,618.4 1456,621.6 1456.4,621.5 1456.8,616.5 1457.2,618.8 1457.6,623.1 1458,623.3 1458.4,623.9 1458.8,627 1459.2,623.8 1459.6,629.3 1460,628.7 1460.4,630.4 1460.8,631.1 1461.2,633 1461.6,632.4 1462,633 1462.4,636 1462.8,636 1463.2,634.8 1463.6,639.5 1464,640.2 1464.4,641.4 1464.8,640.2 1465.2,641.5 1465.6,641.2 1466,641.2 1466.4,643.6 1466.8,644.7 1467.2,644.2 1467.6,648.8 1468,644.4 1468.4,646.4 1468.8,647.3 1469.2,650.9 1469.6,649.3 1470,649.8 1470.4,649.5 1470.8,650.2 1471.2,649.9 1471.6,653.9 1472,653.8 1472.4,654.8 1472.8,652.8 1473.2,658 1473.6,653.1 1474,651.9 1474.4,654.9 1474.8,655.9" fill="none" stroke="#ff7f0e" stroke-width="0.95" stroke-opacity="0.75" stroke-linejoin="round" clip-path="url(#ce)"/>
<path d="M1128,577 1128.3,580.9 1128.6,567.7 1128.9,582.4 1129.2,572.6 1129.5,562.3 1129.8,570.4 1130.1,581.2 1130.4,578.8 1130.7,565.8 1131,581.1 1131.3,574.8 1131.6,579.1 1131.9,578.2 1132.2,565.2 1132.5,578.1 1132.8,569.7 1133.1,588.2 1133.4,581 1133.7,575 1134,566 1134.3,574.8 1134.6,575.6 1134.9,563.8 1135.2,592.9 1135.5,577.2 1135.8,588.1 1136.1,564.1 1136.4,587.2 1136.7,561.7 1137,567.6 1137.3,577.5 1137.6,573.2 1137.9,552.9 1138.2,563.3 1138.5,579.4 1138.8,589.7 1139.1,579.7 1139.4,569.7 1139.7,578.4 1140,562.2 1140.3,575.7 1140.6,560.2 1140.9,571.1 1141.2,569.9 1141.5,577.4 1141.8,568.2 1142.1,580.3 1142.4,568.7 1142.7,576.9 1143,576.3 1143.3,554.8 1143.6,569.8 1143.9,569.6 1144.2,562.8 1144.5,570.3 1144.8,557 1145.1,572.7 1145.4,572.1 1145.7,570.2 1146,587 1146.3,570 1146.6,567.4 1146.9,560.9 1147.2,568.6 1147.5,558.5 1147.8,575.1 1148.1,560 1148.4,565.6 1148.7,578.6 1149,571.7 1149.3,564.2 1149.6,571.7 1149.9,560.5 1150.2,565.7 1150.5,559.3 1150.8,552 1151.1,560.4 1151.4,562.8 1151.7,553.2 1152,547.3 1152.3,550 1152.6,537.2 1152.9,547.6 1153.2,543.7 1153.5,561.5 1153.8,544.8 1154.1,538 1154.4,551 1154.7,543.8 1155,544 1155.3,543.7 1155.6,542.7 1155.9,538.5 1156.2,544.3 1156.5,541 1156.8,534.7 1157.1,535.4 1157.4,530.6 1157.7,535.5 1158,536.5 1158.3,535 1158.6,533.6 1158.9,529.2 1159.2,535.5 1159.5,526.6 1159.8,526.5 1160.1,523.8 1160.4,524.3 1160.7,521.9 1161,529.5 1161.3,522.1 1161.6,513.1 1161.9,516.5 1162.2,511.9 1162.5,518.6 1162.8,518.9 1163.1,511.6 1163.4,513.8 1163.7,509.9 1164,510.6 1164.3,513.2 1164.6,505.8 1164.9,502.1 1165.2,506.2 1165.5,504.4 1165.8,503.5 1166.1,503 1166.4,497.5 1166.7,493.3 1167,499 1167.3,494.5 1167.6,491.4 1167.9,490.1 1168.2,493.3 1168.5,489.7 1168.8,488.3 1169.1,487.5 1169.4,483 1169.7,480.6 1170,479.3 1170.3,477.1 1170.6,476.7 1170.9,474.1 1171.2,473.7 1171.5,471.4 1171.8,470.4 1172.1,469.9 1172.4,469.5 1172.7,468.4 1173,465.3 1173.3,464.4 1173.6,462.6 1173.9,463.8 1174.2,463.9 1174.5,460.8 1174.8,462.4 1175.1,461 1175.4,461.4 1175.7,462.2 1176,461.8 1176.3,464.1 1176.6,461.6 1176.9,463.4 1177.2,465 1177.5,464.8 1177.8,467.6 1178.1,466.2 1178.4,469.5 1178.7,468.6 1179,471.6 1179.3,473.8 1179.6,477.6 1179.9,477.3 1180.2,479.4 1180.5,478.4 1180.8,483 1181.1,480.5 1181.4,481.7 1181.7,481.1 1182,484.9 1182.3,487.5 1182.6,485.5 1182.9,487.1 1183.2,488 1183.5,489.4 1183.8,490.1 1184.1,489.6 1184.4,496.7 1184.7,490.6 1185,494 1185.3,498.2 1185.6,501.1 1185.9,499.4 1186.2,500.5 1186.5,502.6 1186.8,503.1 1187.1,507.5 1187.4,505 1187.7,504.8 1188,507.5 1188.3,510.5 1188.6,515.3 1188.9,517.9 1189.2,512.6 1189.5,510.2 1189.8,511.6 1190.1,525.2 1190.4,517.3 1190.7,521.7 1191,528.4 1191.3,519.6 1191.6,522.5 1191.9,522 1192.2,520.9 1192.5,529.8 1192.8,532 1193.1,520.3 1193.4,533.8 1193.7,529.4 1194,532.3 1194.3,533.4 1194.6,527.3 1194.9,533 1195.2,530.6 1195.5,546 1195.8,548.5 1196.1,538.8 1196.4,533.2 1196.7,546.5 1197,540.3 1197.3,551.8 1197.6,554.1 1197.9,553.5 1198.2,542.8 1198.5,540.1 1198.8,542.9 1199.1,547.1 1199.4,543 1199.7,556.7 1200,554.3 1200.3,550.8 1200.6,549.3 1200.9,556.8 1201.2,562.3 1201.5,541.5 1201.8,556.4 1202.1,553.5 1202.4,551.2 1202.7,554.5 1203,558.4 1203.3,571 1203.6,559.1 1203.9,556.2 1204.2,551.1 1204.5,565.8 1204.8,555.4 1205.1,560.5 1205.4,567 1205.7,562.7 1206,560 1206.3,562 1206.6,570.5 1206.9,564 1207.2,566.5 1207.5,568.3 1207.8,563 1208.1,568.5 1208.4,564.2 1208.7,575.6 1209,571.1 1209.3,554 1209.6,566.4 1209.9,577.2 1210.2,567.1 1210.5,565.8 1210.8,577.5 1211.1,561.1 1211.4,570.8 1211.7,575.4 1212,577.9 1212.3,562.8 1212.6,561.3 1212.9,584.4 1213.2,565.8 1213.5,571.8 1213.8,593.4 1214.1,569.3 1214.4,554.9 1214.7,597.5 1215,582.8 1215.3,577.5 1215.6,598.6 1215.9,574.3 1216.2,587.8 1216.5,575.6 1216.8,573.4 1217.1,581.6 1217.4,584.1 1217.7,587.9 1218,587.4 1218.3,572.7 1218.6,576.7 1218.9,595 1219.2,583.4 1219.5,579.1 1219.8,590.6 1220.1,591.4 1220.4,590.7 1220.7,574.3 1221,576.1 1221.3,586.8 1221.6,591.1 1221.9,569.4 1222.2,576.4 1222.5,578.8 1222.8,590.5 1223.1,571.3 1223.4,606.9 1223.7,582.6 1224,587.8 1224.3,603.2 1224.6,588.3 1224.9,589.7 1225.2,581.1 1225.5,587.4 1225.8,573 1226.1,582.4 1226.4,583.6 1226.7,573.9 1227,593 1227.3,587.8 1227.6,565.7 1227.9,591 1228.2,574.6 1228.5,589 1228.8,575.7 1229.1,579.8 1229.4,587.1 1229.7,601.4 1230,568.5 1230.3,579.3 1230.6,579.2 1230.9,592.5 1231.2,579.6 1231.5,585.6 1231.8,593.8 1232.1,588.2 1232.4,576.9 1232.7,576.5 1233,577.7 1233.3,581.2 1233.6,571.6 1233.9,578.5 1234.2,583.8 1234.5,574 1234.8,573.6 1235.1,579.9 1235.4,584 1235.7,564.8 1236,567.5 1236.3,586.8 1236.6,575 1236.9,565.3 1237.2,575.3 1237.5,587.3 1237.8,568.2 1238.1,564.9 1238.4,570.3 1238.7,585.1 1239,565.9 1239.3,575 1239.6,578.1 1239.9,574.3 1240.2,565.9 1240.5,572.9 1240.8,568.3 1241.1,572.5 1241.4,568.4 1241.7,565.6 1242,550.7 1242.3,567.5 1242.6,561 1242.9,546 1243.2,559.6 1243.5,561 1243.8,557.1 1244.1,540.4 1244.4,551.1 1244.7,548.6 1245,551.9 1245.3,538.3 1245.6,553.8 1245.9,554.4 1246.2,553.6 1246.5,548.7 1246.8,547.4 1247.1,552.9 1247.4,548.5 1247.7,542.5 1248,545.4 1248.3,546.4 1248.6,547.9 1248.9,542.8 1249.2,535 1249.5,535.4 1249.8,537.8 1250.1,537 1250.4,539.1 1250.7,524.2 1251,528.5 1251.3,525.4 1251.6,534 1251.9,531.3 1252.2,528.2 1252.5,528.8 1252.8,522 1253.1,525.1 1253.4,522 1253.7,520.9 1254,518.8 1254.3,521.5 1254.6,520.5 1254.9,510.8 1255.2,512.6 1255.5,513.3 1255.8,513.4 1256.1,505.3 1256.4,505.9 1256.7,506.2 1257,510.4 1257.3,501.6 1257.6,501.3 1257.9,500.6 1258.2,498.9 1258.5,497.9 1258.8,495.9 1259.1,494.1 1259.4,493.6 1259.7,492.2 1260,491 1260.3,489.7 1260.6,485.6 1260.9,487 1261.2,486 1261.5,486.2 1261.8,485.2 1262.1,486 1262.4,481.6 1262.7,482.3 1263,482.7 1263.3,481.3 1263.6,482 1263.9,482.1 1264.2,482.4 1264.5,487.7 1264.8,484.4 1265.1,488 1265.4,484.7 1265.7,487.8 1266,487.2 1266.3,490.3 1266.6,494.2 1266.9,496.2 1267.2,495.3 1267.5,495.9 1267.8,496.4 1268.1,498.7 1268.4,502.5 1268.7,496.6 1269,501.2 1269.3,500.8 1269.6,507.4 1269.9,502.5 1270.2,509.6 1270.5,505.2 1270.8,506.7 1271.1,516 1271.4,516 1271.7,511.3 1272,509.9 1272.3,514 1272.6,520.9 1272.9,520.3 1273.2,518.4 1273.5,525.7 1273.8,530.8 1274.1,522.2 1274.4,528.1 1274.7,526.6 1275,536.8 1275.3,534 1275.6,532 1275.9,528.6 1276.2,541.9 1276.5,538.5 1276.8,542.3 1277.1,542.2 1277.4,547 1277.7,536.4 1278,543 1278.3,551.4 1278.6,562 1278.9,554.3 1279.2,553.3 1279.5,551 1279.8,552.2 1280.1,556.7 1280.4,554.1 1280.7,562 1281,562.7 1281.3,578.8 1281.6,564.8 1281.9,575.5 1282.2,565.1 1282.5,577.5 1282.8,591.2 1283.1,568 1283.4,564.5 1283.7,584.8 1284,577.6 1284.3,576.2 1284.6,584 1284.9,584 1285.2,594.3 1285.5,588.1 1285.8,580 1286.1,576 1286.4,571 1286.7,578.6 1287,602.1 1287.3,577.5 1287.6,594 1287.9,607.2 1288.2,602 1288.5,612.8 1288.8,606 1289.1,615.8 1289.4,595.4 1289.7,594.2 1290,624.1 1290.3,609.2 1290.6,608.1 1290.9,602.9 1291.2,626.6 1291.5,616.7 1291.8,618.3 1292.1,608.1 1292.4,617 1292.7,613.2 1293,617.9 1293.3,623.5 1293.6,616.2 1293.9,614 1294.2,631.7 1294.5,614.3 1294.8,639.8 1295.1,642 1295.4,612.8 1295.7,644 1296,619.5 1296.3,641.6 1296.6,622.4 1296.9,636 1297.2,616.5 1297.5,632 1297.8,623.9 1298.1,636.3 1298.4,624.5 1298.7,603.9 1299,612.2 1299.3,597.8 1299.6,602.2 1299.9,611.6 1300.2,607.6 1300.5,589 1300.8,575.8 1301.1,580.6 1301.4,594.9 1301.7,573 1302,560 1302.3,558.7 1302.6,558.3 1302.9,573.5 1303.2,560.7 1303.5,555.7 1303.8,561.5 1304.1,563.7 1304.4,554.4 1304.7,548.7 1305,553.9 1305.3,556.5 1305.6,540.5 1305.9,541.6 1306.2,562.1 1306.5,552.6 1306.8,552.4 1307.1,542 1307.4,544.9 1307.7,549.9 1308,560.1 1308.3,553.6 1308.6,543.4 1308.9,564.8 1309.2,566.2 1309.5,562.5 1309.8,550.2 1310.1,554.3 1310.4,558 1310.7,561.9 1311,575.1 1311.3,553.3 1311.6,558.9 1311.9,565.2 1312.2,561.9 1312.5,563.2 1312.8,556.4 1313.1,569.2 1313.4,567 1313.7,571.6 1314,578.3 1314.3,569.3 1314.6,571 1314.9,574.9 1315.2,569.5 1315.5,575.5 1315.8,559.6 1316.1,567.7 1316.4,580 1316.7,577.9 1317,584 1317.3,565.6 1317.6,573.2 1317.9,577.7 1318.2,578.1 1318.5,577.5 1318.8,592.9 1319.1,576.3 1319.4,578.1 1319.7,586.2 1320,586.4 1320.3,583.7 1320.6,598.5 1320.9,588.7 1321.2,581.5 1321.5,575 1321.8,596.3 1322.1,578.9 1322.4,589 1322.7,580.5 1323,606.5 1323.3,593.4 1323.6,569.3 1323.9,589.7 1324.2,573.5 1324.5,581.9 1324.8,595.7 1325.1,575.1 1325.4,591.6 1325.7,587.8 1326,596.4 1326.3,579.3 1326.6,595.6 1326.9,586 1327.2,600.4 1327.5,590.6 1327.8,597.1 1328.1,604.3 1328.4,602 1328.7,590.8 1329,598.5 1329.3,591.5 1329.6,596.1 1329.9,608.5 1330.2,583.4 1330.5,580.2 1330.8,597.3 1331.1,586.8 1331.4,605.2 1331.7,601.5 1332,599.3 1332.3,592.8 1332.6,588.4 1332.9,584.2 1333.2,587.6 1333.5,592.9 1333.8,583.5 1334.1,603.6 1334.4,599.6 1334.7,579.8 1335,565.5 1335.3,604.1 1335.6,580.4 1335.9,563.2 1336.2,575.5 1336.5,594.3 1336.8,605.8 1337.1,601.2 1337.4,606.6 1337.7,609.5 1338,610.1 1338.3,581 1338.6,588.5 1338.9,583.8 1339.2,590.4 1339.5,585.9 1339.8,591.7 1340.1,607.1 1340.4,581.2 1340.7,595.3 1341,577.8 1341.3,574.3 1341.6,596.6 1341.9,584.9 1342.2,586.5 1342.5,599.4 1342.8,572.1 1343.1,585.3 1343.4,598.1 1343.7,573.9 1344,585.7 1344.3,591.6 1344.6,591.1 1344.9,588.2 1345.2,590.5 1345.5,585.4 1345.8,587.6 1346.1,583.3 1346.4,571.1 1346.7,579.7 1347,577.1 1347.3,587.5 1347.6,581.3 1347.9,580.7 1348.2,577.2 1348.5,580.5 1348.8,569.6 1349.1,575.8 1349.4,567.1 1349.7,569.1 1350,562.2 1350.3,588.4 1350.6,574.5 1350.9,561.4 1351.2,565.2 1351.5,569.9 1351.8,563 1352.1,571.2 1352.4,568 1352.7,572.3 1353,542.3 1353.3,567.5 1353.6,562.8 1353.9,567.3 1354.2,555.3 1354.5,553.2 1354.8,549.6 1355.1,559.3 1355.4,556 1355.7,542.8 1356,549 1356.3,551.1 1356.6,542.7 1356.9,546.5 1357.2,546.7 1357.5,542.6 1357.8,535.4 1358.1,549.4 1358.4,543 1358.7,542 1359,535.8 1359.3,538.2 1359.6,532.5 1359.9,533.8 1360.2,533.6 1360.5,534.1 1360.8,527.5 1361.1,525.3 1361.4,532.5 1361.7,520.2 1362,525.3 1362.3,522.7 1362.6,524.5 1362.9,518.9 1363.2,515.3 1363.5,517.9 1363.8,511.3 1364.1,510.9 1364.4,512.6 1364.7,511.4 1365,505 1365.3,511.3 1365.6,505.8 1365.9,507.6 1366.2,505.4 1366.5,501 1366.8,498.3 1367.1,494.3 1367.4,498.3 1367.7,497.9 1368,493.4 1368.3,491.8 1368.6,488.5 1368.9,487.1 1369.2,487.7 1369.5,489 1369.8,485.3 1370.1,486.5 1370.4,484.8 1370.7,483.3 1371,481.6 1371.3,482 1371.6,480.4 1371.9,483.7 1372.2,483.2 1372.5,480.9 1372.8,481.7 1373.1,481 1373.4,484 1373.7,485.3 1374,483.4 1374.3,484.9 1374.6,487.1 1374.9,484.2 1375.2,488.6 1375.5,492.2 1375.8,493.3 1376.1,490.9 1376.4,492.1 1376.7,494.9 1377,495.9 1377.3,498.8 1377.6,497.2 1377.9,498.5 1378.2,499.6 1378.5,504 1378.8,498.7 1379.1,505.3 1379.4,503.7 1379.7,504.9 1380,502.9 1380.3,506.1 1380.6,504.8 1380.9,501 1381.2,510.4 1381.5,506.8 1381.8,512.2 1382.1,509.2 1382.4,513.4 1382.7,514.5 1383,511.2 1383.3,518.4 1383.6,517.6 1383.9,512.2 1384.2,529.2 1384.5,525.5 1384.8,526.4 1385.1,526.4 1385.4,531.1 1385.7,526.8 1386,533.4 1386.3,535.7 1386.6,530.5 1386.9,534.2 1387.2,536 1387.5,529.4 1387.8,539.4 1388.1,538.5 1388.4,546.2 1388.7,541.9 1389,537.5 1389.3,543.9 1389.6,541.3 1389.9,532.1 1390.2,544.9 1390.5,539.8 1390.8,555.5 1391.1,551 1391.4,555.4 1391.7,553.3 1392,550.9 1392.3,557.5 1392.6,544.4 1392.9,560.3 1393.2,555.3 1393.5,544 1393.8,557 1394.1,563.2 1394.4,556.8 1394.7,570.7 1395,571.1 1395.3,558.6 1395.6,558.3 1395.9,563.1 1396.2,562.1 1396.5,572 1396.8,575.7 1397.1,573.3 1397.4,574.4 1397.7,569.4 1398,569.6 1398.3,565.9 1398.6,591.1 1398.9,580.3 1399.2,578.4 1399.5,568.6 1399.8,562 1400.1,568.9 1400.4,572.2 1400.7,573.3 1401,582.4 1401.3,574 1401.6,583.3 1401.9,582.5 1402.2,584.7 1402.5,578.1 1402.8,586.5 1403.1,581.4 1403.4,582.2 1403.7,579.4 1404,580.2 1404.3,583.8 1404.6,588.4 1404.9,576.1 1405.2,580.3 1405.5,583.9 1405.8,594.3 1406.1,584.4 1406.4,590.7 1406.7,593.8 1407,585.7 1407.3,600.8 1407.6,576.8 1407.9,573.4 1408.2,575.8 1408.5,579 1408.8,581.7 1409.1,585 1409.4,591.5 1409.7,583.6 1410,583.1 1410.3,594.5 1410.6,587.2 1410.9,591.4 1411.2,585.1 1411.5,576.6 1411.8,589.1 1412.1,588.6 1412.4,593.7 1412.7,590.1 1413,581.8 1413.3,605.2 1413.6,577.8 1413.9,571.3 1414.2,583.6 1414.5,584.8 1414.8,595.3 1415.1,584.3 1415.4,590.2 1415.7,592.6 1416,597.1 1416.3,573.6 1416.6,592.5 1416.9,577.6 1417.2,601.3 1417.5,582.3 1417.8,583 1418.1,595.3 1418.4,589.7 1418.7,589 1419,597.2 1419.3,585 1419.6,583.8 1419.9,600.4 1420.2,584.5 1420.5,591.9 1420.8,577.6 1421.1,589.8 1421.4,586.8 1421.7,594 1422,612.7 1422.3,570.5 1422.6,580.2 1422.9,586.7 1423.2,591.5 1423.5,575.2 1423.8,589.6 1424.1,581.6 1424.4,590.8 1424.7,580.5 1425,618.5 1425.3,592.2 1425.6,597.3 1425.9,566.4 1426.2,581.8 1426.5,588.4 1426.8,607.4 1427.1,581.6 1427.4,593.9 1427.7,580.9 1428,588.8 1428.3,570.6 1428.6,570.5 1428.9,582.1 1429.2,598.3 1429.5,598.1 1429.8,587.4 1430.1,576.1 1430.4,600 1430.7,584.8 1431,578.9 1431.3,583.7 1431.6,584.6 1431.9,603.5 1432.2,586 1432.5,580.5 1432.8,580.7 1433.1,569.5 1433.4,595.8 1433.7,574.2 1434,583.8 1434.3,572.9 1434.6,574.1 1434.9,560.7 1435.2,580.8 1435.5,599.5 1435.8,595 1436.1,581.8 1436.4,589.9 1436.7,569.9 1437,566.1 1437.3,585.4 1437.6,569 1437.9,592.2 1438.2,585.2 1438.5,563.2 1438.8,569.1 1439.1,568.5 1439.4,576.9 1439.7,566.9 1440,569 1440.3,556.5 1440.6,580.4 1440.9,573.7 1441.2,566.6 1441.5,553.1 1441.8,565.6 1442.1,585.7 1442.4,565.6 1442.7,570.7 1443,545.4 1443.3,557.7 1443.6,557.3 1443.9,565.4 1444.2,550.3 1444.5,561.7 1444.8,562.3 1445.1,554.7 1445.4,552 1445.7,554.9 1446,544.6 1446.3,540.1 1446.6,538.6 1446.9,548.9 1447.2,545.2 1447.5,545 1447.8,541.6 1448.1,543.1 1448.4,553 1448.7,539.9 1449,535.6 1449.3,533 1449.6,533.3 1449.9,539.9 1450.2,534.8 1450.5,532.7 1450.8,532.4 1451.1,525.5 1451.4,526.8 1451.7,527.8 1452,526.6 1452.3,528.2 1452.6,529.5 1452.9,521.8 1453.2,524.5 1453.5,523.5 1453.8,518.4 1454.1,521.5 1454.4,521.7 1454.7,511.3 1455,517.2 1455.3,516 1455.6,514.5 1455.9,507.4 1456.2,514.3 1456.5,509.6 1456.8,506.5 1457.1,503.3 1457.4,507.9 1457.7,505 1458,500.5 1458.3,507.3 1458.6,498.6 1458.9,502.1 1459.2,496.9 1459.5,497.5 1459.8,498.3 1460.1,495.1 1460.4,495.8 1460.7,493.7 1461,495.9 1461.3,493.5 1461.6,492.3 1461.9,489.3 1462.2,489.5 1462.5,490.5 1462.8,493.4 1463.1,493 1463.4,490.5 1463.7,492.6 1464,490.8 1464.3,491.2 1464.6,491.2 1464.9,490.8 1465.2,492.9 1465.5,498.7 1465.8,492.1 1466.1,495.7 1466.4,495.7 1466.7,494.4 1467,496.6 1467.3,494.6 1467.6,496.5 1467.9,500.2 1468.2,501.2 1468.5,498.2 1468.8,498.5 1469.1,496.4 1469.4,502.3 1469.7,499.8 1470,499.7 1470.3,503.2 1470.6,503.3 1470.9,500.4 1471.2,508.5 1471.5,501.5 1471.8,502.7 1472.1,511.4 1472.4,508.9 1472.7,505.8 1473,515.8 1473.3,516.9 1473.6,514.7 1473.9,516.6 1474.2,519.1 1474.5,523 1474.8,521" fill="none" stroke="#1f77b4" stroke-width="0.9" stroke-opacity="0.72" stroke-linejoin="round" clip-path="url(#ce)"/>
<path d="M1301.3,431.9 V679.5" stroke="#ff0a1e" stroke-width="3.3" stroke-dasharray="12.6 8.9" fill="none" clip-path="url(#ce)"/>
<path d="M1270,609.3 H1224.6" stroke="#1f77b4" stroke-width="4.2" fill="none"/><path d="M1208.3,609.3 L1225.6,600.5 L1225.6,618 Z" fill="#1f77b4"/>
<path d="M1368.5,611.3 H1414.7" stroke="#ff7f0e" stroke-width="4.2" fill="none"/><path d="M1431,611.3 L1413.7,602.5 L1413.7,620 Z" fill="#ff7f0e"/>
<g font-family="'Liberation Serif',serif" font-size="41.4" fill="#000" stroke="#000" stroke-width="0.4">
<text x="1106.8" y="45.4" text-anchor="end">-27</text>
<text x="1106.5" y="291" text-anchor="end">-38</text>
<text x="1129" y="321.5" text-anchor="middle">100</text>
<text x="1319.5" y="321.5" text-anchor="middle" fill="#ff0000" stroke="#ff0000" font-size="42.6">210</text>
<text x="1473" y="321.5" text-anchor="middle">300</text>
<text x="1486.5" y="42.2">50</text>
<text x="1486" y="285.6">-275</text>
<text x="1303" y="366.5" text-anchor="middle">Frequency (MHz)</text>
<g transform="translate(1057.4,183.9) rotate(-90)"><text x="0" y="0" stroke="none" fill="#1a1a1a">|</text><text x="8.4" y="0" font-size="43">S</text><text x="33.6" y="7.6" font-size="23.5" letter-spacing="-1.6" stroke-width="0.3">11</text><text x="58.2" y="0" stroke="none" fill="#1a1a1a">|</text></g>
<text transform="translate(1105.8,184.2) rotate(-90)">(dB)</text>
<text transform="translate(1525.2,198.8) rotate(-90)" font-size="42">Phase</text>
<text transform="translate(1575,194.6) rotate(-90)" font-size="42">(deg.)</text>
<text x="1107" y="452.7" text-anchor="end">-30</text>
<text x="1107" y="697.9" text-anchor="end">-50</text>
<text x="1127.5" y="727.6" text-anchor="middle">200</text>
<text x="1302" y="727.6" text-anchor="middle" fill="#ff0000" stroke="#ff0000" font-size="40.6">353</text>
<text x="1474" y="727.6" text-anchor="middle">500</text>
<text x="1486.5" y="447.3">50</text>
<text x="1486.4" y="692">-350</text>
<text x="1303.6" y="773" text-anchor="middle">Frequency (MHz)</text>
<g transform="translate(1057.4,589.7) rotate(-90)"><text x="0" y="0" stroke="none" fill="#555">|</text><text x="8.4" y="0" font-size="43">S</text><text x="33.6" y="7.6" font-size="23.5" letter-spacing="-1.6" stroke-width="0.3">11</text><text x="58.2" y="0" stroke="none" fill="#555">|</text></g>
<text transform="translate(1105.8,590) rotate(-90)">(dB)</text>
<text transform="translate(1525.2,604) rotate(-90)" font-size="42">Phase</text>
<text transform="translate(1575,599.8) rotate(-90)" font-size="42">(deg.)</text>
</g>
<g font-family="'Liberation Sans',sans-serif" font-size="33.6" fill="#000" stroke="#000" stroke-width="0.15"><text x="82" y="47.8">(a)</text><text x="993.5" y="25">(b)</text><text x="-3" y="378.4">(c)</text><text x="494.7" y="378.7">(d)</text><text x="993.5" y="378.7">(e)</text></g>
</svg>
</body></html>
